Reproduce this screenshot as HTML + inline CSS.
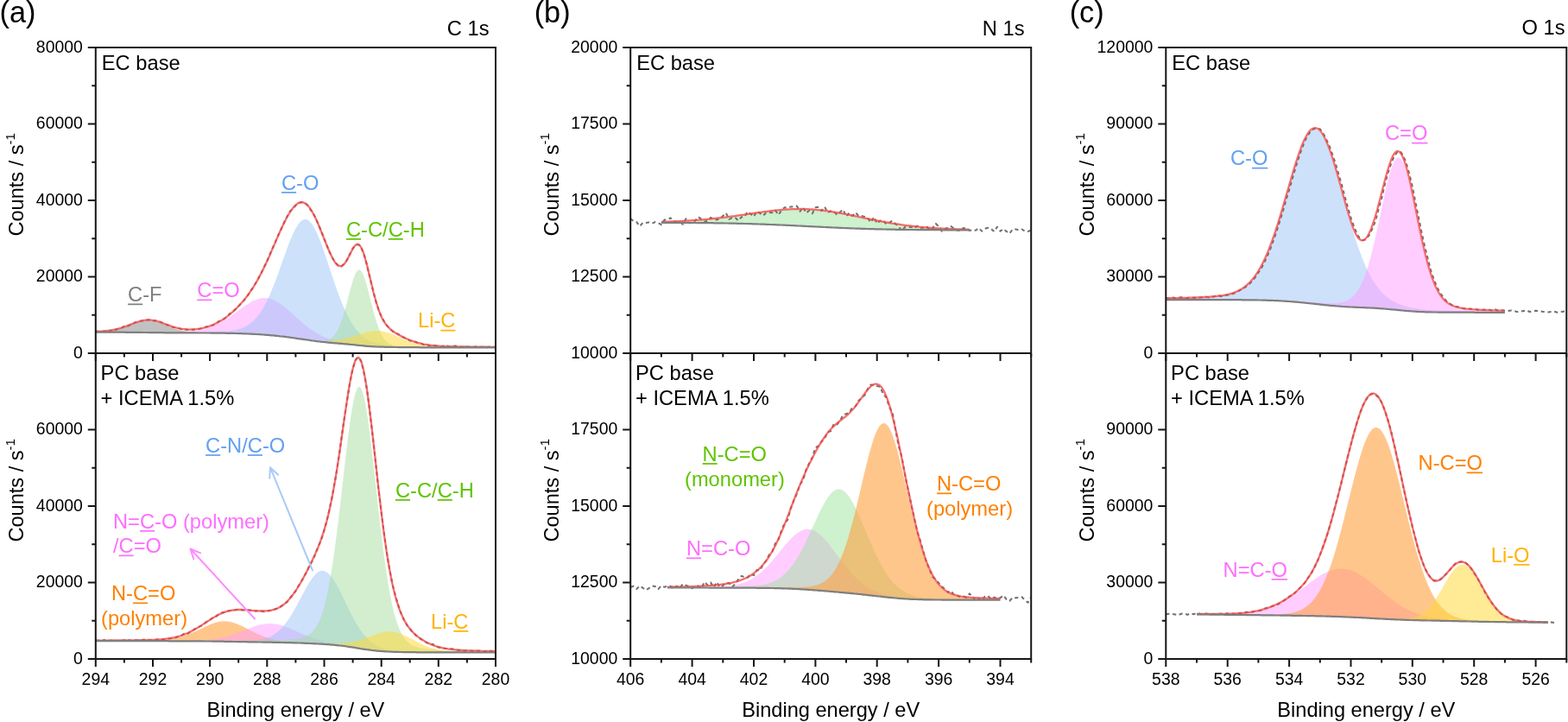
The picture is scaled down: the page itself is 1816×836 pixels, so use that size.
<!DOCTYPE html>
<html><head><meta charset="utf-8"><title>XPS spectra</title>
<style>
html,body{margin:0;padding:0;background:#fff;}
body{width:1816px;height:836px;overflow:hidden;}
svg{display:block;}
text{font-family:"Liberation Sans",sans-serif;}
</style></head><body>
<svg width="1816" height="836" viewBox="0 0 1816 836">
<rect width="1816" height="836" fill="#fff"/>
<clipPath id="clipa0"><rect x="110.8" y="55.0" width="463.2" height="354.0"/></clipPath>
<g clip-path="url(#clipa0)">
<path d="M110.8 384.3 L112.7 384.2 L114.7 384.1 L116.6 384.0 L118.6 383.9 L120.5 383.8 L122.4 383.6 L124.4 383.4 L126.3 383.2 L128.2 382.9 L130.2 382.6 L132.1 382.3 L134.1 381.9 L136.0 381.4 L137.9 380.9 L139.9 380.4 L141.8 379.8 L143.7 379.1 L145.7 378.5 L147.6 377.8 L149.6 377.0 L151.5 376.3 L153.4 375.6 L155.4 374.9 L157.3 374.2 L159.3 373.5 L161.2 372.9 L163.1 372.4 L165.1 372.0 L167.0 371.7 L168.9 371.4 L170.9 371.3 L172.8 371.4 L174.8 371.5 L176.7 371.7 L178.6 372.1 L180.6 372.6 L182.5 373.1 L184.4 373.7 L186.4 374.4 L188.3 375.1 L190.3 375.9 L192.2 376.7 L194.1 377.4 L196.1 378.2 L198.0 378.9 L200.0 379.6 L201.9 380.3 L203.8 380.9 L205.8 381.5 L207.7 382.0 L209.6 382.5 L211.6 382.9 L213.5 383.3 L215.5 383.6 L217.4 383.9 L219.3 384.1 L221.3 384.3 L223.2 384.5 L225.1 384.7 L227.1 384.8 L229.0 384.9 L231.0 385.0 L232.9 385.1 L234.8 385.2 L236.8 385.2 L238.7 385.3 L240.7 385.3 L242.6 385.3 L244.5 385.4 L246.5 385.4 L248.4 385.4 L250.3 385.5 L252.3 385.5 L254.2 385.5 L256.2 385.6 L258.1 385.6 L260.0 385.6 L262.0 385.7 L263.9 385.7 L265.8 385.8 L267.8 385.8 L269.7 385.8 L271.7 385.9 L273.6 386.0 L275.5 386.0 L277.5 386.1 L279.4 386.1 L281.4 386.2 L283.3 386.3 L285.2 386.4 L287.2 386.4 L289.1 386.5 L291.0 386.6 L293.0 386.7 L294.9 386.8 L296.9 386.9 L298.8 387.0 L300.7 387.2 L302.7 387.3 L304.6 387.4 L306.5 387.6 L308.5 387.7 L310.4 387.9 L312.4 388.0 L314.3 388.2 L316.2 388.4 L318.2 388.6 L320.1 388.8 L322.1 389.0 L324.0 389.2 L325.9 389.4 L327.9 389.7 L329.8 389.9 L331.7 390.2 L333.7 390.4 L335.6 390.7 L337.6 390.9 L339.5 391.2 L341.4 391.5 L343.4 391.8 L345.3 392.0 L347.2 392.3 L349.2 392.6 L351.1 392.9 L353.1 393.2 L355.0 393.4 L356.9 393.7 L358.9 394.0 L360.8 394.3 L362.7 394.5 L364.7 394.8 L366.6 395.0 L368.6 395.3 L370.5 395.5 L372.4 395.7 L374.4 396.0 L376.3 396.2 L378.3 396.4 L380.2 396.6 L382.1 396.7 L384.1 396.9 L386.0 397.1 L387.9 397.3 L389.9 397.4 L391.8 397.6 L393.8 397.7 L395.7 397.9 L397.6 398.1 L399.6 398.2 L401.5 398.4 L403.4 398.6 L405.4 398.8 L407.3 399.0 L409.3 399.2 L411.2 399.4 L413.1 399.6 L415.1 399.8 L417.0 400.0 L419.0 400.2 L420.9 400.4 L422.8 400.6 L424.8 400.7 L426.7 400.9 L428.6 401.0 L430.6 401.2 L432.5 401.3 L434.5 401.4 L436.4 401.5 L438.3 401.5 L440.3 401.6 L442.2 401.7 L444.1 401.7 L446.1 401.8 L448.0 401.8 L450.0 401.9 L451.9 401.9 L453.8 401.9 L455.8 402.0 L457.7 402.0 L459.7 402.0 L461.6 402.0 L463.5 402.1 L465.5 402.1 L467.4 402.1 L469.3 402.1 L471.3 402.2 L473.2 402.2 L475.2 402.2 L477.1 402.2 L479.0 402.2 L481.0 402.2 L482.9 402.2 L484.8 402.2 L486.8 402.2 L488.7 402.3 L490.7 402.3 L492.6 402.3 L494.5 402.3 L496.5 402.3 L498.4 402.3 L500.4 402.3 L502.3 402.3 L504.2 402.3 L506.2 402.3 L508.1 402.3 L510.0 402.3 L512.0 402.3 L513.9 402.3 L515.9 402.3 L517.8 402.3 L519.7 402.3 L521.7 402.3 L523.6 402.3 L525.5 402.3 L527.5 402.3 L529.4 402.3 L531.4 402.3 L533.3 402.3 L535.2 402.3 L537.2 402.3 L539.1 402.3 L541.1 402.3 L543.0 402.3 L544.9 402.3 L546.9 402.3 L548.8 402.3 L550.7 402.3 L552.7 402.3 L554.6 402.3 L556.6 402.3 L558.5 402.3 L560.4 402.3 L562.4 402.4 L564.3 402.4 L566.2 402.4 L568.2 402.4 L570.1 402.4 L572.1 402.4 L574.0 402.4 L574.0 402.4 L572.1 402.4 L570.1 402.4 L568.2 402.4 L566.2 402.4 L564.3 402.4 L562.4 402.4 L560.4 402.4 L558.5 402.4 L556.6 402.4 L554.6 402.4 L552.7 402.4 L550.7 402.3 L548.8 402.3 L546.9 402.3 L544.9 402.3 L543.0 402.3 L541.1 402.3 L539.1 402.3 L537.2 402.3 L535.2 402.3 L533.3 402.3 L531.4 402.3 L529.4 402.3 L527.5 402.3 L525.5 402.3 L523.6 402.3 L521.7 402.3 L519.7 402.3 L517.8 402.3 L515.9 402.3 L513.9 402.3 L512.0 402.3 L510.0 402.3 L508.1 402.3 L506.2 402.3 L504.2 402.3 L502.3 402.3 L500.4 402.3 L498.4 402.3 L496.5 402.3 L494.5 402.3 L492.6 402.3 L490.7 402.3 L488.7 402.3 L486.8 402.3 L484.8 402.2 L482.9 402.2 L481.0 402.2 L479.0 402.2 L477.1 402.2 L475.2 402.2 L473.2 402.2 L471.3 402.2 L469.3 402.1 L467.4 402.1 L465.5 402.1 L463.5 402.1 L461.6 402.1 L459.7 402.0 L457.7 402.0 L455.8 402.0 L453.8 401.9 L451.9 401.9 L450.0 401.9 L448.0 401.8 L446.1 401.8 L444.1 401.7 L442.2 401.7 L440.3 401.6 L438.3 401.6 L436.4 401.5 L434.5 401.4 L432.5 401.3 L430.6 401.2 L428.6 401.1 L426.7 400.9 L424.8 400.8 L422.8 400.6 L420.9 400.4 L419.0 400.2 L417.0 400.0 L415.1 399.8 L413.1 399.6 L411.2 399.4 L409.3 399.2 L407.3 399.0 L405.4 398.8 L403.4 398.6 L401.5 398.4 L399.6 398.3 L397.6 398.1 L395.7 397.9 L393.8 397.8 L391.8 397.6 L389.9 397.4 L387.9 397.3 L386.0 397.1 L384.1 396.9 L382.1 396.8 L380.2 396.6 L378.3 396.4 L376.3 396.2 L374.4 396.0 L372.4 395.8 L370.5 395.5 L368.6 395.3 L366.6 395.1 L364.7 394.8 L362.7 394.5 L360.8 394.3 L358.9 394.0 L356.9 393.7 L355.0 393.5 L353.1 393.2 L351.1 392.9 L349.2 392.6 L347.2 392.3 L345.3 392.1 L343.4 391.8 L341.4 391.5 L339.5 391.2 L337.6 391.0 L335.6 390.7 L333.7 390.4 L331.7 390.2 L329.8 389.9 L327.9 389.7 L325.9 389.5 L324.0 389.3 L322.1 389.0 L320.1 388.8 L318.2 388.6 L316.2 388.4 L314.3 388.3 L312.4 388.1 L310.4 387.9 L308.5 387.8 L306.5 387.6 L304.6 387.5 L302.7 387.3 L300.7 387.2 L298.8 387.1 L296.9 387.0 L294.9 386.9 L293.0 386.8 L291.0 386.7 L289.1 386.6 L287.2 386.5 L285.2 386.4 L283.3 386.3 L281.4 386.3 L279.4 386.2 L277.5 386.1 L275.5 386.1 L273.6 386.0 L271.7 386.0 L269.7 385.9 L267.8 385.9 L265.8 385.8 L263.9 385.8 L262.0 385.8 L260.0 385.7 L258.1 385.7 L256.2 385.7 L254.2 385.7 L252.3 385.6 L250.3 385.6 L248.4 385.6 L246.5 385.6 L244.5 385.6 L242.6 385.5 L240.7 385.5 L238.7 385.5 L236.8 385.5 L234.8 385.5 L232.9 385.5 L231.0 385.5 L229.0 385.5 L227.1 385.5 L225.1 385.4 L223.2 385.4 L221.3 385.4 L219.3 385.4 L217.4 385.4 L215.5 385.4 L213.5 385.4 L211.6 385.4 L209.6 385.4 L207.7 385.4 L205.8 385.4 L203.8 385.4 L201.9 385.3 L200.0 385.3 L198.0 385.3 L196.1 385.3 L194.1 385.3 L192.2 385.3 L190.3 385.3 L188.3 385.2 L186.4 385.2 L184.4 385.2 L182.5 385.2 L180.6 385.2 L178.6 385.1 L176.7 385.1 L174.8 385.1 L172.8 385.1 L170.9 385.0 L168.9 385.0 L167.0 385.0 L165.1 385.0 L163.1 384.9 L161.2 384.9 L159.3 384.9 L157.3 384.9 L155.4 384.8 L153.4 384.8 L151.5 384.8 L149.6 384.8 L147.6 384.8 L145.7 384.8 L143.7 384.7 L141.8 384.7 L139.9 384.7 L137.9 384.7 L136.0 384.7 L134.1 384.7 L132.1 384.7 L130.2 384.7 L128.2 384.7 L126.3 384.7 L124.4 384.7 L122.4 384.7 L120.5 384.7 L118.6 384.7 L116.6 384.7 L114.7 384.7 L112.7 384.7 L110.8 384.7Z" fill="#a0a0a0" fill-opacity="0.65"/>
<path d="M110.8 384.5 L112.7 384.5 L114.7 384.5 L116.6 384.5 L118.6 384.5 L120.5 384.5 L122.4 384.5 L124.4 384.5 L126.3 384.5 L128.2 384.5 L130.2 384.5 L132.1 384.5 L134.1 384.5 L136.0 384.5 L137.9 384.5 L139.9 384.5 L141.8 384.5 L143.7 384.5 L145.7 384.5 L147.6 384.5 L149.6 384.5 L151.5 384.6 L153.4 384.6 L155.4 384.6 L157.3 384.6 L159.3 384.6 L161.2 384.6 L163.1 384.6 L165.1 384.7 L167.0 384.7 L168.9 384.7 L170.9 384.7 L172.8 384.7 L174.8 384.7 L176.7 384.8 L178.6 384.8 L180.6 384.8 L182.5 384.8 L184.4 384.8 L186.4 384.8 L188.3 384.8 L190.3 384.8 L192.2 384.8 L194.1 384.8 L196.1 384.7 L198.0 384.7 L200.0 384.7 L201.9 384.6 L203.8 384.6 L205.8 384.5 L207.7 384.5 L209.6 384.4 L211.6 384.3 L213.5 384.2 L215.5 384.0 L217.4 383.9 L219.3 383.7 L221.3 383.5 L223.2 383.3 L225.1 383.1 L227.1 382.8 L229.0 382.5 L231.0 382.1 L232.9 381.8 L234.8 381.3 L236.8 380.9 L238.7 380.3 L240.7 379.8 L242.6 379.1 L244.5 378.5 L246.5 377.7 L248.4 376.9 L250.3 376.1 L252.3 375.1 L254.2 374.2 L256.2 373.1 L258.1 372.0 L260.0 370.9 L262.0 369.7 L263.9 368.4 L265.8 367.1 L267.8 365.8 L269.7 364.4 L271.7 363.0 L273.6 361.5 L275.5 360.1 L277.5 358.7 L279.4 357.3 L281.4 355.9 L283.3 354.5 L285.2 353.2 L287.2 351.9 L289.1 350.7 L291.0 349.6 L293.0 348.6 L294.9 347.7 L296.9 346.9 L298.8 346.2 L300.7 345.7 L302.7 345.3 L304.6 345.1 L306.5 345.0 L308.5 345.1 L310.4 345.3 L312.4 345.7 L314.3 346.3 L316.2 347.0 L318.2 347.9 L320.1 348.9 L322.1 350.0 L324.0 351.2 L325.9 352.6 L327.9 354.0 L329.8 355.6 L331.7 357.2 L333.7 358.8 L335.6 360.5 L337.6 362.3 L339.5 364.0 L341.4 365.8 L343.4 367.5 L345.3 369.3 L347.2 371.0 L349.2 372.7 L351.1 374.4 L353.1 376.0 L355.0 377.6 L356.9 379.1 L358.9 380.5 L360.8 381.9 L362.7 383.2 L364.7 384.5 L366.6 385.7 L368.6 386.8 L370.5 387.8 L372.4 388.8 L374.4 389.7 L376.3 390.5 L378.3 391.3 L380.2 392.0 L382.1 392.7 L384.1 393.3 L386.0 393.8 L387.9 394.4 L389.9 394.8 L391.8 395.3 L393.8 395.7 L395.7 396.1 L397.6 396.4 L399.6 396.8 L401.5 397.1 L403.4 397.4 L405.4 397.7 L407.3 398.0 L409.3 398.3 L411.2 398.6 L413.1 398.8 L415.1 399.1 L417.0 399.4 L419.0 399.6 L420.9 399.8 L422.8 400.1 L424.8 400.3 L426.7 400.4 L428.6 400.6 L430.6 400.7 L432.5 400.9 L434.5 401.0 L436.4 401.1 L438.3 401.2 L440.3 401.3 L442.2 401.3 L444.1 401.4 L446.1 401.5 L448.0 401.5 L450.0 401.6 L451.9 401.6 L453.8 401.7 L455.8 401.7 L457.7 401.7 L459.7 401.8 L461.6 401.8 L463.5 401.8 L465.5 401.9 L467.4 401.9 L469.3 401.9 L471.3 401.9 L473.2 402.0 L475.2 402.0 L477.1 402.0 L479.0 402.0 L481.0 402.0 L482.9 402.0 L484.8 402.1 L486.8 402.1 L488.7 402.1 L490.7 402.1 L492.6 402.1 L494.5 402.1 L496.5 402.1 L498.4 402.1 L500.4 402.1 L502.3 402.1 L504.2 402.1 L506.2 402.1 L508.1 402.2 L510.0 402.2 L512.0 402.2 L513.9 402.2 L515.9 402.2 L517.8 402.2 L519.7 402.2 L521.7 402.2 L523.6 402.2 L525.5 402.2 L527.5 402.2 L529.4 402.2 L531.4 402.2 L533.3 402.2 L535.2 402.2 L537.2 402.2 L539.1 402.2 L541.1 402.2 L543.0 402.2 L544.9 402.2 L546.9 402.2 L548.8 402.2 L550.7 402.2 L552.7 402.2 L554.6 402.2 L556.6 402.3 L558.5 402.3 L560.4 402.3 L562.4 402.3 L564.3 402.3 L566.2 402.3 L568.2 402.3 L570.1 402.3 L572.1 402.3 L574.0 402.3 L574.0 402.4 L572.1 402.4 L570.1 402.4 L568.2 402.4 L566.2 402.4 L564.3 402.4 L562.4 402.4 L560.4 402.4 L558.5 402.4 L556.6 402.4 L554.6 402.4 L552.7 402.4 L550.7 402.3 L548.8 402.3 L546.9 402.3 L544.9 402.3 L543.0 402.3 L541.1 402.3 L539.1 402.3 L537.2 402.3 L535.2 402.3 L533.3 402.3 L531.4 402.3 L529.4 402.3 L527.5 402.3 L525.5 402.3 L523.6 402.3 L521.7 402.3 L519.7 402.3 L517.8 402.3 L515.9 402.3 L513.9 402.3 L512.0 402.3 L510.0 402.3 L508.1 402.3 L506.2 402.3 L504.2 402.3 L502.3 402.3 L500.4 402.3 L498.4 402.3 L496.5 402.3 L494.5 402.3 L492.6 402.3 L490.7 402.3 L488.7 402.3 L486.8 402.3 L484.8 402.2 L482.9 402.2 L481.0 402.2 L479.0 402.2 L477.1 402.2 L475.2 402.2 L473.2 402.2 L471.3 402.2 L469.3 402.1 L467.4 402.1 L465.5 402.1 L463.5 402.1 L461.6 402.1 L459.7 402.0 L457.7 402.0 L455.8 402.0 L453.8 401.9 L451.9 401.9 L450.0 401.9 L448.0 401.8 L446.1 401.8 L444.1 401.7 L442.2 401.7 L440.3 401.6 L438.3 401.6 L436.4 401.5 L434.5 401.4 L432.5 401.3 L430.6 401.2 L428.6 401.1 L426.7 400.9 L424.8 400.8 L422.8 400.6 L420.9 400.4 L419.0 400.2 L417.0 400.0 L415.1 399.8 L413.1 399.6 L411.2 399.4 L409.3 399.2 L407.3 399.0 L405.4 398.8 L403.4 398.6 L401.5 398.4 L399.6 398.3 L397.6 398.1 L395.7 397.9 L393.8 397.8 L391.8 397.6 L389.9 397.4 L387.9 397.3 L386.0 397.1 L384.1 396.9 L382.1 396.8 L380.2 396.6 L378.3 396.4 L376.3 396.2 L374.4 396.0 L372.4 395.8 L370.5 395.5 L368.6 395.3 L366.6 395.1 L364.7 394.8 L362.7 394.5 L360.8 394.3 L358.9 394.0 L356.9 393.7 L355.0 393.5 L353.1 393.2 L351.1 392.9 L349.2 392.6 L347.2 392.3 L345.3 392.1 L343.4 391.8 L341.4 391.5 L339.5 391.2 L337.6 391.0 L335.6 390.7 L333.7 390.4 L331.7 390.2 L329.8 389.9 L327.9 389.7 L325.9 389.5 L324.0 389.3 L322.1 389.0 L320.1 388.8 L318.2 388.6 L316.2 388.4 L314.3 388.3 L312.4 388.1 L310.4 387.9 L308.5 387.8 L306.5 387.6 L304.6 387.5 L302.7 387.3 L300.7 387.2 L298.8 387.1 L296.9 387.0 L294.9 386.9 L293.0 386.8 L291.0 386.7 L289.1 386.6 L287.2 386.5 L285.2 386.4 L283.3 386.3 L281.4 386.3 L279.4 386.2 L277.5 386.1 L275.5 386.1 L273.6 386.0 L271.7 386.0 L269.7 385.9 L267.8 385.9 L265.8 385.8 L263.9 385.8 L262.0 385.8 L260.0 385.7 L258.1 385.7 L256.2 385.7 L254.2 385.7 L252.3 385.6 L250.3 385.6 L248.4 385.6 L246.5 385.6 L244.5 385.6 L242.6 385.5 L240.7 385.5 L238.7 385.5 L236.8 385.5 L234.8 385.5 L232.9 385.5 L231.0 385.5 L229.0 385.5 L227.1 385.5 L225.1 385.4 L223.2 385.4 L221.3 385.4 L219.3 385.4 L217.4 385.4 L215.5 385.4 L213.5 385.4 L211.6 385.4 L209.6 385.4 L207.7 385.4 L205.8 385.4 L203.8 385.4 L201.9 385.3 L200.0 385.3 L198.0 385.3 L196.1 385.3 L194.1 385.3 L192.2 385.3 L190.3 385.3 L188.3 385.2 L186.4 385.2 L184.4 385.2 L182.5 385.2 L180.6 385.2 L178.6 385.1 L176.7 385.1 L174.8 385.1 L172.8 385.1 L170.9 385.0 L168.9 385.0 L167.0 385.0 L165.1 385.0 L163.1 384.9 L161.2 384.9 L159.3 384.9 L157.3 384.9 L155.4 384.8 L153.4 384.8 L151.5 384.8 L149.6 384.8 L147.6 384.8 L145.7 384.8 L143.7 384.7 L141.8 384.7 L139.9 384.7 L137.9 384.7 L136.0 384.7 L134.1 384.7 L132.1 384.7 L130.2 384.7 L128.2 384.7 L126.3 384.7 L124.4 384.7 L122.4 384.7 L120.5 384.7 L118.6 384.7 L116.6 384.7 L114.7 384.7 L112.7 384.7 L110.8 384.7Z" fill="#ff9cff" fill-opacity="0.50"/>
<path d="M110.8 384.4 L112.7 384.4 L114.7 384.4 L116.6 384.4 L118.6 384.4 L120.5 384.4 L122.4 384.4 L124.4 384.4 L126.3 384.4 L128.2 384.4 L130.2 384.4 L132.1 384.4 L134.1 384.4 L136.0 384.4 L137.9 384.4 L139.9 384.4 L141.8 384.4 L143.7 384.4 L145.7 384.4 L147.6 384.4 L149.6 384.4 L151.5 384.4 L153.4 384.5 L155.4 384.5 L157.3 384.5 L159.3 384.5 L161.2 384.5 L163.1 384.5 L165.1 384.5 L167.0 384.6 L168.9 384.6 L170.9 384.6 L172.8 384.6 L174.8 384.6 L176.7 384.6 L178.6 384.7 L180.6 384.7 L182.5 384.7 L184.4 384.7 L186.4 384.7 L188.3 384.7 L190.3 384.7 L192.2 384.7 L194.1 384.7 L196.1 384.7 L198.0 384.7 L200.0 384.7 L201.9 384.7 L203.8 384.7 L205.8 384.7 L207.7 384.7 L209.6 384.7 L211.6 384.7 L213.5 384.7 L215.5 384.7 L217.4 384.6 L219.3 384.6 L221.3 384.6 L223.2 384.6 L225.1 384.6 L227.1 384.6 L229.0 384.5 L231.0 384.5 L232.9 384.5 L234.8 384.5 L236.8 384.5 L238.7 384.4 L240.7 384.4 L242.6 384.4 L244.5 384.3 L246.5 384.3 L248.4 384.2 L250.3 384.2 L252.3 384.1 L254.2 384.1 L256.2 384.0 L258.1 383.9 L260.0 383.8 L262.0 383.6 L263.9 383.5 L265.8 383.3 L267.8 383.0 L269.7 382.7 L271.7 382.4 L273.6 382.0 L275.5 381.5 L277.5 381.0 L279.4 380.3 L281.4 379.6 L283.3 378.7 L285.2 377.7 L287.2 376.6 L289.1 375.2 L291.0 373.7 L293.0 372.0 L294.9 370.1 L296.9 368.0 L298.8 365.6 L300.7 363.0 L302.7 360.1 L304.6 356.9 L306.5 353.5 L308.5 349.8 L310.4 345.8 L312.4 341.6 L314.3 337.1 L316.2 332.3 L318.2 327.4 L320.1 322.3 L322.1 317.0 L324.0 311.6 L325.9 306.1 L327.9 300.6 L329.8 295.2 L331.7 289.8 L333.7 284.6 L335.6 279.6 L337.6 274.9 L339.5 270.5 L341.4 266.5 L343.4 262.9 L345.3 259.9 L347.2 257.5 L349.2 255.6 L351.1 254.5 L353.1 253.9 L355.0 254.1 L356.9 255.0 L358.9 256.5 L360.8 258.7 L362.7 261.5 L364.7 264.9 L366.6 268.8 L368.6 273.2 L370.5 278.0 L372.4 283.2 L374.4 288.6 L376.3 294.2 L378.3 300.0 L380.2 305.8 L382.1 311.7 L384.1 317.6 L386.0 323.4 L387.9 329.1 L389.9 334.7 L391.8 340.0 L393.8 345.2 L395.7 350.1 L397.6 354.7 L399.6 359.1 L401.5 363.2 L403.4 367.1 L405.4 370.6 L407.3 373.9 L409.3 376.9 L411.2 379.7 L413.1 382.2 L415.1 384.5 L417.0 386.6 L419.0 388.4 L420.9 390.1 L422.8 391.5 L424.8 392.8 L426.7 394.0 L428.6 395.0 L430.6 395.8 L432.5 396.6 L434.5 397.2 L436.4 397.8 L438.3 398.2 L440.3 398.7 L442.2 399.0 L444.1 399.3 L446.1 399.6 L448.0 399.8 L450.0 400.0 L451.9 400.2 L453.8 400.3 L455.8 400.5 L457.7 400.6 L459.7 400.7 L461.6 400.8 L463.5 400.8 L465.5 400.9 L467.4 401.0 L469.3 401.1 L471.3 401.1 L473.2 401.2 L475.2 401.2 L477.1 401.3 L479.0 401.3 L481.0 401.3 L482.9 401.4 L484.8 401.4 L486.8 401.4 L488.7 401.5 L490.7 401.5 L492.6 401.5 L494.5 401.5 L496.5 401.6 L498.4 401.6 L500.4 401.6 L502.3 401.6 L504.2 401.7 L506.2 401.7 L508.1 401.7 L510.0 401.7 L512.0 401.7 L513.9 401.7 L515.9 401.8 L517.8 401.8 L519.7 401.8 L521.7 401.8 L523.6 401.8 L525.5 401.8 L527.5 401.8 L529.4 401.9 L531.4 401.9 L533.3 401.9 L535.2 401.9 L537.2 401.9 L539.1 401.9 L541.1 401.9 L543.0 401.9 L544.9 401.9 L546.9 401.9 L548.8 402.0 L550.7 402.0 L552.7 402.0 L554.6 402.0 L556.6 402.0 L558.5 402.0 L560.4 402.0 L562.4 402.0 L564.3 402.0 L566.2 402.0 L568.2 402.0 L570.1 402.0 L572.1 402.0 L574.0 402.1 L574.0 402.4 L572.1 402.4 L570.1 402.4 L568.2 402.4 L566.2 402.4 L564.3 402.4 L562.4 402.4 L560.4 402.4 L558.5 402.4 L556.6 402.4 L554.6 402.4 L552.7 402.4 L550.7 402.3 L548.8 402.3 L546.9 402.3 L544.9 402.3 L543.0 402.3 L541.1 402.3 L539.1 402.3 L537.2 402.3 L535.2 402.3 L533.3 402.3 L531.4 402.3 L529.4 402.3 L527.5 402.3 L525.5 402.3 L523.6 402.3 L521.7 402.3 L519.7 402.3 L517.8 402.3 L515.9 402.3 L513.9 402.3 L512.0 402.3 L510.0 402.3 L508.1 402.3 L506.2 402.3 L504.2 402.3 L502.3 402.3 L500.4 402.3 L498.4 402.3 L496.5 402.3 L494.5 402.3 L492.6 402.3 L490.7 402.3 L488.7 402.3 L486.8 402.3 L484.8 402.2 L482.9 402.2 L481.0 402.2 L479.0 402.2 L477.1 402.2 L475.2 402.2 L473.2 402.2 L471.3 402.2 L469.3 402.1 L467.4 402.1 L465.5 402.1 L463.5 402.1 L461.6 402.1 L459.7 402.0 L457.7 402.0 L455.8 402.0 L453.8 401.9 L451.9 401.9 L450.0 401.9 L448.0 401.8 L446.1 401.8 L444.1 401.7 L442.2 401.7 L440.3 401.6 L438.3 401.6 L436.4 401.5 L434.5 401.4 L432.5 401.3 L430.6 401.2 L428.6 401.1 L426.7 400.9 L424.8 400.8 L422.8 400.6 L420.9 400.4 L419.0 400.2 L417.0 400.0 L415.1 399.8 L413.1 399.6 L411.2 399.4 L409.3 399.2 L407.3 399.0 L405.4 398.8 L403.4 398.6 L401.5 398.4 L399.6 398.3 L397.6 398.1 L395.7 397.9 L393.8 397.8 L391.8 397.6 L389.9 397.4 L387.9 397.3 L386.0 397.1 L384.1 396.9 L382.1 396.8 L380.2 396.6 L378.3 396.4 L376.3 396.2 L374.4 396.0 L372.4 395.8 L370.5 395.5 L368.6 395.3 L366.6 395.1 L364.7 394.8 L362.7 394.5 L360.8 394.3 L358.9 394.0 L356.9 393.7 L355.0 393.5 L353.1 393.2 L351.1 392.9 L349.2 392.6 L347.2 392.3 L345.3 392.1 L343.4 391.8 L341.4 391.5 L339.5 391.2 L337.6 391.0 L335.6 390.7 L333.7 390.4 L331.7 390.2 L329.8 389.9 L327.9 389.7 L325.9 389.5 L324.0 389.3 L322.1 389.0 L320.1 388.8 L318.2 388.6 L316.2 388.4 L314.3 388.3 L312.4 388.1 L310.4 387.9 L308.5 387.8 L306.5 387.6 L304.6 387.5 L302.7 387.3 L300.7 387.2 L298.8 387.1 L296.9 387.0 L294.9 386.9 L293.0 386.8 L291.0 386.7 L289.1 386.6 L287.2 386.5 L285.2 386.4 L283.3 386.3 L281.4 386.3 L279.4 386.2 L277.5 386.1 L275.5 386.1 L273.6 386.0 L271.7 386.0 L269.7 385.9 L267.8 385.9 L265.8 385.8 L263.9 385.8 L262.0 385.8 L260.0 385.7 L258.1 385.7 L256.2 385.7 L254.2 385.7 L252.3 385.6 L250.3 385.6 L248.4 385.6 L246.5 385.6 L244.5 385.6 L242.6 385.5 L240.7 385.5 L238.7 385.5 L236.8 385.5 L234.8 385.5 L232.9 385.5 L231.0 385.5 L229.0 385.5 L227.1 385.5 L225.1 385.4 L223.2 385.4 L221.3 385.4 L219.3 385.4 L217.4 385.4 L215.5 385.4 L213.5 385.4 L211.6 385.4 L209.6 385.4 L207.7 385.4 L205.8 385.4 L203.8 385.4 L201.9 385.3 L200.0 385.3 L198.0 385.3 L196.1 385.3 L194.1 385.3 L192.2 385.3 L190.3 385.3 L188.3 385.2 L186.4 385.2 L184.4 385.2 L182.5 385.2 L180.6 385.2 L178.6 385.1 L176.7 385.1 L174.8 385.1 L172.8 385.1 L170.9 385.0 L168.9 385.0 L167.0 385.0 L165.1 385.0 L163.1 384.9 L161.2 384.9 L159.3 384.9 L157.3 384.9 L155.4 384.8 L153.4 384.8 L151.5 384.8 L149.6 384.8 L147.6 384.8 L145.7 384.8 L143.7 384.7 L141.8 384.7 L139.9 384.7 L137.9 384.7 L136.0 384.7 L134.1 384.7 L132.1 384.7 L130.2 384.7 L128.2 384.7 L126.3 384.7 L124.4 384.7 L122.4 384.7 L120.5 384.7 L118.6 384.7 L116.6 384.7 L114.7 384.7 L112.7 384.7 L110.8 384.7Z" fill="#9cc3f7" fill-opacity="0.50"/>
<path d="M110.8 384.6 L112.7 384.6 L114.7 384.6 L116.6 384.6 L118.6 384.6 L120.5 384.6 L122.4 384.7 L124.4 384.7 L126.3 384.7 L128.2 384.7 L130.2 384.7 L132.1 384.7 L134.1 384.7 L136.0 384.7 L137.9 384.7 L139.9 384.7 L141.8 384.7 L143.7 384.7 L145.7 384.7 L147.6 384.7 L149.6 384.8 L151.5 384.8 L153.4 384.8 L155.4 384.8 L157.3 384.8 L159.3 384.9 L161.2 384.9 L163.1 384.9 L165.1 384.9 L167.0 384.9 L168.9 385.0 L170.9 385.0 L172.8 385.0 L174.8 385.0 L176.7 385.1 L178.6 385.1 L180.6 385.1 L182.5 385.1 L184.4 385.2 L186.4 385.2 L188.3 385.2 L190.3 385.2 L192.2 385.2 L194.1 385.3 L196.1 385.3 L198.0 385.3 L200.0 385.3 L201.9 385.3 L203.8 385.3 L205.8 385.3 L207.7 385.3 L209.6 385.3 L211.6 385.3 L213.5 385.4 L215.5 385.4 L217.4 385.4 L219.3 385.4 L221.3 385.4 L223.2 385.4 L225.1 385.4 L227.1 385.4 L229.0 385.4 L231.0 385.4 L232.9 385.4 L234.8 385.4 L236.8 385.4 L238.7 385.4 L240.7 385.5 L242.6 385.5 L244.5 385.5 L246.5 385.5 L248.4 385.5 L250.3 385.5 L252.3 385.6 L254.2 385.6 L256.2 385.6 L258.1 385.6 L260.0 385.7 L262.0 385.7 L263.9 385.7 L265.8 385.8 L267.8 385.8 L269.7 385.8 L271.7 385.9 L273.6 385.9 L275.5 386.0 L277.5 386.0 L279.4 386.1 L281.4 386.2 L283.3 386.2 L285.2 386.3 L287.2 386.4 L289.1 386.5 L291.0 386.5 L293.0 386.6 L294.9 386.7 L296.9 386.8 L298.8 386.9 L300.7 387.1 L302.7 387.2 L304.6 387.3 L306.5 387.4 L308.5 387.6 L310.4 387.7 L312.4 387.9 L314.3 388.1 L316.2 388.2 L318.2 388.4 L320.1 388.6 L322.1 388.8 L324.0 389.0 L325.9 389.2 L327.9 389.4 L329.8 389.7 L331.7 389.9 L333.7 390.1 L335.6 390.4 L337.6 390.6 L339.5 390.9 L341.4 391.1 L343.4 391.4 L345.3 391.7 L347.2 391.9 L349.2 392.2 L351.1 392.4 L353.1 392.7 L355.0 392.9 L356.9 393.2 L358.9 393.4 L360.8 393.6 L362.7 393.8 L364.7 394.0 L366.6 394.2 L368.6 394.3 L370.5 394.4 L372.4 394.4 L374.4 394.4 L376.3 394.2 L378.3 393.8 L380.2 393.3 L382.1 392.4 L384.1 391.2 L386.0 389.5 L387.9 387.2 L389.9 384.3 L391.8 380.7 L393.8 376.3 L395.7 371.0 L397.6 365.1 L399.6 358.4 L401.5 351.2 L403.4 343.8 L405.4 336.4 L407.3 329.4 L409.3 323.1 L411.2 318.0 L413.1 314.4 L415.1 312.5 L417.0 312.6 L419.0 314.6 L420.9 318.4 L422.8 323.7 L424.8 330.2 L426.7 337.5 L428.6 345.2 L430.6 352.9 L432.5 360.4 L434.5 367.4 L436.4 373.8 L438.3 379.3 L440.3 384.1 L442.2 388.1 L444.1 391.3 L446.1 393.8 L448.0 395.8 L450.0 397.3 L451.9 398.5 L453.8 399.3 L455.8 399.9 L457.7 400.4 L459.7 400.7 L461.6 400.9 L463.5 401.1 L465.5 401.2 L467.4 401.3 L469.3 401.4 L471.3 401.5 L473.2 401.6 L475.2 401.6 L477.1 401.7 L479.0 401.7 L481.0 401.8 L482.9 401.8 L484.8 401.8 L486.8 401.9 L488.7 401.9 L490.7 401.9 L492.6 401.9 L494.5 401.9 L496.5 402.0 L498.4 402.0 L500.4 402.0 L502.3 402.0 L504.2 402.0 L506.2 402.1 L508.1 402.1 L510.0 402.1 L512.0 402.1 L513.9 402.1 L515.9 402.1 L517.8 402.1 L519.7 402.1 L521.7 402.1 L523.6 402.1 L525.5 402.2 L527.5 402.2 L529.4 402.2 L531.4 402.2 L533.3 402.2 L535.2 402.2 L537.2 402.2 L539.1 402.2 L541.1 402.2 L543.0 402.2 L544.9 402.2 L546.9 402.2 L548.8 402.2 L550.7 402.2 L552.7 402.2 L554.6 402.2 L556.6 402.2 L558.5 402.3 L560.4 402.3 L562.4 402.3 L564.3 402.3 L566.2 402.3 L568.2 402.3 L570.1 402.3 L572.1 402.3 L574.0 402.3 L574.0 402.4 L572.1 402.4 L570.1 402.4 L568.2 402.4 L566.2 402.4 L564.3 402.4 L562.4 402.4 L560.4 402.4 L558.5 402.4 L556.6 402.4 L554.6 402.4 L552.7 402.4 L550.7 402.3 L548.8 402.3 L546.9 402.3 L544.9 402.3 L543.0 402.3 L541.1 402.3 L539.1 402.3 L537.2 402.3 L535.2 402.3 L533.3 402.3 L531.4 402.3 L529.4 402.3 L527.5 402.3 L525.5 402.3 L523.6 402.3 L521.7 402.3 L519.7 402.3 L517.8 402.3 L515.9 402.3 L513.9 402.3 L512.0 402.3 L510.0 402.3 L508.1 402.3 L506.2 402.3 L504.2 402.3 L502.3 402.3 L500.4 402.3 L498.4 402.3 L496.5 402.3 L494.5 402.3 L492.6 402.3 L490.7 402.3 L488.7 402.3 L486.8 402.3 L484.8 402.2 L482.9 402.2 L481.0 402.2 L479.0 402.2 L477.1 402.2 L475.2 402.2 L473.2 402.2 L471.3 402.2 L469.3 402.1 L467.4 402.1 L465.5 402.1 L463.5 402.1 L461.6 402.1 L459.7 402.0 L457.7 402.0 L455.8 402.0 L453.8 401.9 L451.9 401.9 L450.0 401.9 L448.0 401.8 L446.1 401.8 L444.1 401.7 L442.2 401.7 L440.3 401.6 L438.3 401.6 L436.4 401.5 L434.5 401.4 L432.5 401.3 L430.6 401.2 L428.6 401.1 L426.7 400.9 L424.8 400.8 L422.8 400.6 L420.9 400.4 L419.0 400.2 L417.0 400.0 L415.1 399.8 L413.1 399.6 L411.2 399.4 L409.3 399.2 L407.3 399.0 L405.4 398.8 L403.4 398.6 L401.5 398.4 L399.6 398.3 L397.6 398.1 L395.7 397.9 L393.8 397.8 L391.8 397.6 L389.9 397.4 L387.9 397.3 L386.0 397.1 L384.1 396.9 L382.1 396.8 L380.2 396.6 L378.3 396.4 L376.3 396.2 L374.4 396.0 L372.4 395.8 L370.5 395.5 L368.6 395.3 L366.6 395.1 L364.7 394.8 L362.7 394.5 L360.8 394.3 L358.9 394.0 L356.9 393.7 L355.0 393.5 L353.1 393.2 L351.1 392.9 L349.2 392.6 L347.2 392.3 L345.3 392.1 L343.4 391.8 L341.4 391.5 L339.5 391.2 L337.6 391.0 L335.6 390.7 L333.7 390.4 L331.7 390.2 L329.8 389.9 L327.9 389.7 L325.9 389.5 L324.0 389.3 L322.1 389.0 L320.1 388.8 L318.2 388.6 L316.2 388.4 L314.3 388.3 L312.4 388.1 L310.4 387.9 L308.5 387.8 L306.5 387.6 L304.6 387.5 L302.7 387.3 L300.7 387.2 L298.8 387.1 L296.9 387.0 L294.9 386.9 L293.0 386.8 L291.0 386.7 L289.1 386.6 L287.2 386.5 L285.2 386.4 L283.3 386.3 L281.4 386.3 L279.4 386.2 L277.5 386.1 L275.5 386.1 L273.6 386.0 L271.7 386.0 L269.7 385.9 L267.8 385.9 L265.8 385.8 L263.9 385.8 L262.0 385.8 L260.0 385.7 L258.1 385.7 L256.2 385.7 L254.2 385.7 L252.3 385.6 L250.3 385.6 L248.4 385.6 L246.5 385.6 L244.5 385.6 L242.6 385.5 L240.7 385.5 L238.7 385.5 L236.8 385.5 L234.8 385.5 L232.9 385.5 L231.0 385.5 L229.0 385.5 L227.1 385.5 L225.1 385.4 L223.2 385.4 L221.3 385.4 L219.3 385.4 L217.4 385.4 L215.5 385.4 L213.5 385.4 L211.6 385.4 L209.6 385.4 L207.7 385.4 L205.8 385.4 L203.8 385.4 L201.9 385.3 L200.0 385.3 L198.0 385.3 L196.1 385.3 L194.1 385.3 L192.2 385.3 L190.3 385.3 L188.3 385.2 L186.4 385.2 L184.4 385.2 L182.5 385.2 L180.6 385.2 L178.6 385.1 L176.7 385.1 L174.8 385.1 L172.8 385.1 L170.9 385.0 L168.9 385.0 L167.0 385.0 L165.1 385.0 L163.1 384.9 L161.2 384.9 L159.3 384.9 L157.3 384.9 L155.4 384.8 L153.4 384.8 L151.5 384.8 L149.6 384.8 L147.6 384.8 L145.7 384.8 L143.7 384.7 L141.8 384.7 L139.9 384.7 L137.9 384.7 L136.0 384.7 L134.1 384.7 L132.1 384.7 L130.2 384.7 L128.2 384.7 L126.3 384.7 L124.4 384.7 L122.4 384.7 L120.5 384.7 L118.6 384.7 L116.6 384.7 L114.7 384.7 L112.7 384.7 L110.8 384.7Z" fill="#a6dea0" fill-opacity="0.50"/>
<path d="M110.8 384.6 L112.7 384.7 L114.7 384.7 L116.6 384.7 L118.6 384.7 L120.5 384.7 L122.4 384.7 L124.4 384.7 L126.3 384.7 L128.2 384.7 L130.2 384.7 L132.1 384.7 L134.1 384.7 L136.0 384.7 L137.9 384.7 L139.9 384.7 L141.8 384.7 L143.7 384.7 L145.7 384.7 L147.6 384.8 L149.6 384.8 L151.5 384.8 L153.4 384.8 L155.4 384.8 L157.3 384.8 L159.3 384.9 L161.2 384.9 L163.1 384.9 L165.1 384.9 L167.0 385.0 L168.9 385.0 L170.9 385.0 L172.8 385.0 L174.8 385.1 L176.7 385.1 L178.6 385.1 L180.6 385.1 L182.5 385.2 L184.4 385.2 L186.4 385.2 L188.3 385.2 L190.3 385.2 L192.2 385.3 L194.1 385.3 L196.1 385.3 L198.0 385.3 L200.0 385.3 L201.9 385.3 L203.8 385.3 L205.8 385.3 L207.7 385.3 L209.6 385.4 L211.6 385.4 L213.5 385.4 L215.5 385.4 L217.4 385.4 L219.3 385.4 L221.3 385.4 L223.2 385.4 L225.1 385.4 L227.1 385.4 L229.0 385.4 L231.0 385.4 L232.9 385.4 L234.8 385.4 L236.8 385.5 L238.7 385.5 L240.7 385.5 L242.6 385.5 L244.5 385.5 L246.5 385.5 L248.4 385.5 L250.3 385.6 L252.3 385.6 L254.2 385.6 L256.2 385.6 L258.1 385.7 L260.0 385.7 L262.0 385.7 L263.9 385.8 L265.8 385.8 L267.8 385.8 L269.7 385.9 L271.7 385.9 L273.6 386.0 L275.5 386.0 L277.5 386.1 L279.4 386.1 L281.4 386.2 L283.3 386.3 L285.2 386.4 L287.2 386.4 L289.1 386.5 L291.0 386.6 L293.0 386.7 L294.9 386.8 L296.9 386.9 L298.8 387.0 L300.7 387.1 L302.7 387.3 L304.6 387.4 L306.5 387.5 L308.5 387.7 L310.4 387.8 L312.4 388.0 L314.3 388.2 L316.2 388.3 L318.2 388.5 L320.1 388.7 L322.1 388.9 L324.0 389.1 L325.9 389.4 L327.9 389.6 L329.8 389.8 L331.7 390.0 L333.7 390.3 L335.6 390.5 L337.6 390.8 L339.5 391.1 L341.4 391.3 L343.4 391.6 L345.3 391.9 L347.2 392.1 L349.2 392.4 L351.1 392.7 L353.1 392.9 L355.0 393.2 L356.9 393.4 L358.9 393.7 L360.8 393.9 L362.7 394.1 L364.7 394.3 L366.6 394.5 L368.6 394.6 L370.5 394.8 L372.4 394.9 L374.4 394.9 L376.3 395.0 L378.3 395.0 L380.2 395.0 L382.1 394.9 L384.1 394.8 L386.0 394.6 L387.9 394.4 L389.9 394.2 L391.8 393.9 L393.8 393.6 L395.7 393.2 L397.6 392.8 L399.6 392.3 L401.5 391.8 L403.4 391.2 L405.4 390.7 L407.3 390.1 L409.3 389.5 L411.2 388.8 L413.1 388.2 L415.1 387.6 L417.0 386.9 L419.0 386.3 L420.9 385.7 L422.8 385.1 L424.8 384.6 L426.7 384.2 L428.6 383.7 L430.6 383.4 L432.5 383.2 L434.5 383.0 L436.4 382.9 L438.3 383.0 L440.3 383.1 L442.2 383.4 L444.1 383.7 L446.1 384.2 L448.0 384.7 L450.0 385.3 L451.9 386.0 L453.8 386.7 L455.8 387.5 L457.7 388.4 L459.7 389.2 L461.6 390.1 L463.5 391.0 L465.5 391.8 L467.4 392.7 L469.3 393.5 L471.3 394.3 L473.2 395.1 L475.2 395.8 L477.1 396.5 L479.0 397.1 L481.0 397.7 L482.9 398.2 L484.8 398.7 L486.8 399.1 L488.7 399.5 L490.7 399.9 L492.6 400.2 L494.5 400.5 L496.5 400.7 L498.4 401.0 L500.4 401.1 L502.3 401.3 L504.2 401.4 L506.2 401.6 L508.1 401.7 L510.0 401.8 L512.0 401.8 L513.9 401.9 L515.9 401.9 L517.8 402.0 L519.7 402.0 L521.7 402.0 L523.6 402.1 L525.5 402.1 L527.5 402.1 L529.4 402.1 L531.4 402.1 L533.3 402.2 L535.2 402.2 L537.2 402.2 L539.1 402.2 L541.1 402.2 L543.0 402.2 L544.9 402.2 L546.9 402.2 L548.8 402.2 L550.7 402.2 L552.7 402.2 L554.6 402.2 L556.6 402.2 L558.5 402.2 L560.4 402.3 L562.4 402.3 L564.3 402.3 L566.2 402.3 L568.2 402.3 L570.1 402.3 L572.1 402.3 L574.0 402.3 L574.0 402.4 L572.1 402.4 L570.1 402.4 L568.2 402.4 L566.2 402.4 L564.3 402.4 L562.4 402.4 L560.4 402.4 L558.5 402.4 L556.6 402.4 L554.6 402.4 L552.7 402.4 L550.7 402.3 L548.8 402.3 L546.9 402.3 L544.9 402.3 L543.0 402.3 L541.1 402.3 L539.1 402.3 L537.2 402.3 L535.2 402.3 L533.3 402.3 L531.4 402.3 L529.4 402.3 L527.5 402.3 L525.5 402.3 L523.6 402.3 L521.7 402.3 L519.7 402.3 L517.8 402.3 L515.9 402.3 L513.9 402.3 L512.0 402.3 L510.0 402.3 L508.1 402.3 L506.2 402.3 L504.2 402.3 L502.3 402.3 L500.4 402.3 L498.4 402.3 L496.5 402.3 L494.5 402.3 L492.6 402.3 L490.7 402.3 L488.7 402.3 L486.8 402.3 L484.8 402.2 L482.9 402.2 L481.0 402.2 L479.0 402.2 L477.1 402.2 L475.2 402.2 L473.2 402.2 L471.3 402.2 L469.3 402.1 L467.4 402.1 L465.5 402.1 L463.5 402.1 L461.6 402.1 L459.7 402.0 L457.7 402.0 L455.8 402.0 L453.8 401.9 L451.9 401.9 L450.0 401.9 L448.0 401.8 L446.1 401.8 L444.1 401.7 L442.2 401.7 L440.3 401.6 L438.3 401.6 L436.4 401.5 L434.5 401.4 L432.5 401.3 L430.6 401.2 L428.6 401.1 L426.7 400.9 L424.8 400.8 L422.8 400.6 L420.9 400.4 L419.0 400.2 L417.0 400.0 L415.1 399.8 L413.1 399.6 L411.2 399.4 L409.3 399.2 L407.3 399.0 L405.4 398.8 L403.4 398.6 L401.5 398.4 L399.6 398.3 L397.6 398.1 L395.7 397.9 L393.8 397.8 L391.8 397.6 L389.9 397.4 L387.9 397.3 L386.0 397.1 L384.1 396.9 L382.1 396.8 L380.2 396.6 L378.3 396.4 L376.3 396.2 L374.4 396.0 L372.4 395.8 L370.5 395.5 L368.6 395.3 L366.6 395.1 L364.7 394.8 L362.7 394.5 L360.8 394.3 L358.9 394.0 L356.9 393.7 L355.0 393.5 L353.1 393.2 L351.1 392.9 L349.2 392.6 L347.2 392.3 L345.3 392.1 L343.4 391.8 L341.4 391.5 L339.5 391.2 L337.6 391.0 L335.6 390.7 L333.7 390.4 L331.7 390.2 L329.8 389.9 L327.9 389.7 L325.9 389.5 L324.0 389.3 L322.1 389.0 L320.1 388.8 L318.2 388.6 L316.2 388.4 L314.3 388.3 L312.4 388.1 L310.4 387.9 L308.5 387.8 L306.5 387.6 L304.6 387.5 L302.7 387.3 L300.7 387.2 L298.8 387.1 L296.9 387.0 L294.9 386.9 L293.0 386.8 L291.0 386.7 L289.1 386.6 L287.2 386.5 L285.2 386.4 L283.3 386.3 L281.4 386.3 L279.4 386.2 L277.5 386.1 L275.5 386.1 L273.6 386.0 L271.7 386.0 L269.7 385.9 L267.8 385.9 L265.8 385.8 L263.9 385.8 L262.0 385.8 L260.0 385.7 L258.1 385.7 L256.2 385.7 L254.2 385.7 L252.3 385.6 L250.3 385.6 L248.4 385.6 L246.5 385.6 L244.5 385.6 L242.6 385.5 L240.7 385.5 L238.7 385.5 L236.8 385.5 L234.8 385.5 L232.9 385.5 L231.0 385.5 L229.0 385.5 L227.1 385.5 L225.1 385.4 L223.2 385.4 L221.3 385.4 L219.3 385.4 L217.4 385.4 L215.5 385.4 L213.5 385.4 L211.6 385.4 L209.6 385.4 L207.7 385.4 L205.8 385.4 L203.8 385.4 L201.9 385.3 L200.0 385.3 L198.0 385.3 L196.1 385.3 L194.1 385.3 L192.2 385.3 L190.3 385.3 L188.3 385.2 L186.4 385.2 L184.4 385.2 L182.5 385.2 L180.6 385.2 L178.6 385.1 L176.7 385.1 L174.8 385.1 L172.8 385.1 L170.9 385.0 L168.9 385.0 L167.0 385.0 L165.1 385.0 L163.1 384.9 L161.2 384.9 L159.3 384.9 L157.3 384.9 L155.4 384.8 L153.4 384.8 L151.5 384.8 L149.6 384.8 L147.6 384.8 L145.7 384.8 L143.7 384.7 L141.8 384.7 L139.9 384.7 L137.9 384.7 L136.0 384.7 L134.1 384.7 L132.1 384.7 L130.2 384.7 L128.2 384.7 L126.3 384.7 L124.4 384.7 L122.4 384.7 L120.5 384.7 L118.6 384.7 L116.6 384.7 L114.7 384.7 L112.7 384.7 L110.8 384.7Z" fill="#ffd83c" fill-opacity="0.54"/>
<path d="M110.8 383.1 L114.1 384.0 L117.4 383.8 L120.7 383.8 L124.0 382.6 L127.3 383.6 L130.7 381.2 L134.0 381.7 L137.3 380.4 L140.6 379.7 L143.9 377.8 L147.2 378.2 L150.5 376.2 L153.8 374.9 L157.1 373.0 L160.4 372.9 L163.7 371.6 L167.0 371.3 L170.4 370.5 L173.7 370.3 L177.0 371.4 L180.3 371.1 L183.6 372.1 L186.9 373.3 L190.2 374.4 L193.5 376.3 L196.8 377.3 L200.1 378.7 L203.4 379.4 L206.7 379.9 L210.1 381.1 L213.4 381.4 L216.7 381.8 L220.0 381.9 L223.3 381.8 L226.6 381.2 L229.9 381.3 L233.2 380.1 L236.5 378.7 L239.8 378.2 L243.1 377.5 L246.5 376.6 L249.8 375.0 L253.1 372.2 L256.4 371.0 L259.7 369.2 L263.0 366.4 L266.3 363.0 L269.6 361.0 L272.9 357.7 L276.2 354.4 L279.5 351.1 L282.8 347.6 L286.2 343.0 L289.5 338.4 L292.8 333.2 L296.1 327.7 L299.4 321.9 L302.7 315.9 L306.0 309.0 L309.3 302.6 L312.6 294.3 L315.9 287.0 L319.2 279.7 L322.5 271.8 L325.9 264.7 L329.2 257.3 L332.5 250.7 L335.8 244.8 L339.1 241.7 L342.4 238.0 L345.7 235.3 L349.0 234.1 L352.3 234.4 L355.6 237.0 L358.9 241.9 L362.3 246.4 L365.6 252.4 L368.9 260.2 L372.2 268.0 L375.5 276.7 L378.8 285.0 L382.1 292.6 L385.4 299.2 L388.7 304.5 L392.0 307.6 L395.3 308.4 L398.6 305.5 L402.0 300.8 L405.3 294.0 L408.6 287.6 L411.9 283.6 L415.2 283.1 L418.5 287.2 L421.8 295.2 L425.1 307.4 L428.4 321.3 L431.7 335.0 L435.0 347.9 L438.3 357.9 L441.7 366.7 L445.0 372.2 L448.3 377.1 L451.6 380.4 L454.9 383.8 L458.2 385.5 L461.5 387.1 L464.8 389.7 L468.1 391.0 L471.4 392.4 L474.7 394.4 L478.1 395.0 L481.4 395.8 L484.7 397.6 L488.0 397.8 L491.3 399.3 L494.6 399.3 L497.9 400.4 L501.2 399.6 L504.5 400.2 L507.8 400.6 L511.1 401.2 L514.4 400.4 L517.8 400.2 L521.1 402.0 L524.4 400.7 L527.7 400.6 L531.0 401.2 L534.3 402.0 L537.6 401.1 L540.9 401.6 L544.2 401.8 L547.5 402.1 L550.8 401.4 L554.1 401.3 L557.5 401.9 L560.8 401.5 L564.1 402.2 L567.4 401.4 L570.7 401.7 L574.0 401.9" fill="none" stroke="#707070" stroke-width="2" stroke-dasharray="4.2 3.6" stroke-linejoin="round"/>
<path d="M110.8 383.8 L112.7 383.8 L114.7 383.7 L116.6 383.6 L118.6 383.5 L120.5 383.3 L122.4 383.1 L124.4 382.9 L126.3 382.7 L128.2 382.4 L130.2 382.1 L132.1 381.7 L134.1 381.3 L136.0 380.8 L137.9 380.3 L139.9 379.8 L141.8 379.2 L143.7 378.5 L145.7 377.8 L147.6 377.1 L149.6 376.4 L151.5 375.6 L153.4 374.9 L155.4 374.2 L157.3 373.5 L159.3 372.8 L161.2 372.2 L163.1 371.7 L165.1 371.2 L167.0 370.9 L168.9 370.6 L170.9 370.5 L172.8 370.5 L174.8 370.6 L176.7 370.9 L178.6 371.2 L180.6 371.6 L182.5 372.2 L184.4 372.7 L186.4 373.4 L188.3 374.1 L190.3 374.8 L192.2 375.5 L194.1 376.2 L196.1 376.9 L198.0 377.6 L200.0 378.3 L201.9 378.9 L203.8 379.4 L205.8 379.9 L207.7 380.3 L209.6 380.7 L211.6 381.0 L213.5 381.2 L215.5 381.4 L217.4 381.5 L219.3 381.6 L221.3 381.5 L223.2 381.5 L225.1 381.4 L227.1 381.2 L229.0 380.9 L231.0 380.6 L232.9 380.3 L234.8 379.9 L236.8 379.4 L238.7 378.9 L240.7 378.3 L242.6 377.7 L244.5 376.9 L246.5 376.2 L248.4 375.3 L250.3 374.4 L252.3 373.4 L254.2 372.3 L256.2 371.2 L258.1 370.0 L260.0 368.7 L262.0 367.3 L263.9 365.8 L265.8 364.3 L267.8 362.6 L269.7 360.9 L271.7 359.1 L273.6 357.3 L275.5 355.3 L277.5 353.3 L279.4 351.1 L281.4 348.9 L283.3 346.5 L285.2 344.1 L287.2 341.5 L289.1 338.8 L291.0 336.0 L293.0 333.1 L294.9 330.0 L296.9 326.8 L298.8 323.4 L300.7 319.8 L302.7 316.1 L304.6 312.3 L306.5 308.3 L308.5 304.1 L310.4 299.8 L312.4 295.5 L314.3 291.0 L316.2 286.6 L318.2 282.1 L320.1 277.6 L322.1 273.1 L324.0 268.8 L325.9 264.5 L327.9 260.4 L329.8 256.5 L331.7 252.8 L333.7 249.3 L335.6 246.0 L337.6 243.1 L339.5 240.5 L341.4 238.3 L343.4 236.6 L345.3 235.2 L347.2 234.4 L349.2 234.1 L351.1 234.4 L353.1 235.2 L355.0 236.5 L356.9 238.4 L358.9 240.9 L360.8 243.8 L362.7 247.2 L364.7 251.0 L366.6 255.1 L368.6 259.5 L370.5 264.2 L372.4 269.0 L374.4 273.8 L376.3 278.7 L378.3 283.6 L380.2 288.2 L382.1 292.7 L384.1 296.8 L386.0 300.5 L387.9 303.6 L389.9 306.0 L391.8 307.6 L393.8 308.2 L395.7 308.0 L397.6 306.7 L399.6 304.6 L401.5 301.6 L403.4 298.1 L405.4 294.3 L407.3 290.4 L409.3 287.0 L411.2 284.4 L413.1 282.9 L415.1 282.9 L417.0 284.5 L419.0 287.8 L420.9 292.7 L422.8 298.9 L424.8 306.1 L426.7 313.9 L428.6 322.1 L430.6 330.3 L432.5 338.2 L434.5 345.5 L436.4 352.2 L438.3 358.1 L440.3 363.3 L442.2 367.7 L444.1 371.4 L446.1 374.4 L448.0 377.0 L450.0 379.1 L451.9 381.0 L453.8 382.6 L455.8 384.0 L457.7 385.2 L459.7 386.4 L461.6 387.5 L463.5 388.6 L465.5 389.6 L467.4 390.5 L469.3 391.5 L471.3 392.4 L473.2 393.2 L475.2 394.0 L477.1 394.7 L479.0 395.4 L481.0 396.1 L482.9 396.7 L484.8 397.2 L486.8 397.7 L488.7 398.2 L490.7 398.6 L492.6 398.9 L494.5 399.2 L496.5 399.5 L498.4 399.8 L500.4 400.0 L502.3 400.2 L504.2 400.4 L506.2 400.5 L508.1 400.6 L510.0 400.8 L512.0 400.9 L513.9 400.9 L515.9 401.0 L517.8 401.1 L519.7 401.1 L521.7 401.2 L523.6 401.2 L525.5 401.3 L527.5 401.3 L529.4 401.4 L531.4 401.4 L533.3 401.4 L535.2 401.4 L537.2 401.5 L539.1 401.5 L541.1 401.5 L543.0 401.5 L544.9 401.6 L546.9 401.6 L548.8 401.6 L550.7 401.6 L552.7 401.6 L554.6 401.6 L556.6 401.7 L558.5 401.7 L560.4 401.7 L562.4 401.7 L564.3 401.7 L566.2 401.7 L568.2 401.8 L570.1 401.8 L572.1 401.8 L574.0 401.8" fill="none" stroke="#f54545" stroke-opacity="0.78" stroke-width="2.3" stroke-linejoin="round"/>
<path d="M110.8 384.7 L112.7 384.7 L114.7 384.7 L116.6 384.7 L118.6 384.7 L120.5 384.7 L122.4 384.7 L124.4 384.7 L126.3 384.7 L128.2 384.7 L130.2 384.7 L132.1 384.7 L134.1 384.7 L136.0 384.7 L137.9 384.7 L139.9 384.7 L141.8 384.7 L143.7 384.7 L145.7 384.8 L147.6 384.8 L149.6 384.8 L151.5 384.8 L153.4 384.8 L155.4 384.8 L157.3 384.9 L159.3 384.9 L161.2 384.9 L163.1 384.9 L165.1 385.0 L167.0 385.0 L168.9 385.0 L170.9 385.0 L172.8 385.1 L174.8 385.1 L176.7 385.1 L178.6 385.1 L180.6 385.2 L182.5 385.2 L184.4 385.2 L186.4 385.2 L188.3 385.2 L190.3 385.3 L192.2 385.3 L194.1 385.3 L196.1 385.3 L198.0 385.3 L200.0 385.3 L201.9 385.3 L203.8 385.4 L205.8 385.4 L207.7 385.4 L209.6 385.4 L211.6 385.4 L213.5 385.4 L215.5 385.4 L217.4 385.4 L219.3 385.4 L221.3 385.4 L223.2 385.4 L225.1 385.4 L227.1 385.5 L229.0 385.5 L231.0 385.5 L232.9 385.5 L234.8 385.5 L236.8 385.5 L238.7 385.5 L240.7 385.5 L242.6 385.5 L244.5 385.6 L246.5 385.6 L248.4 385.6 L250.3 385.6 L252.3 385.6 L254.2 385.7 L256.2 385.7 L258.1 385.7 L260.0 385.7 L262.0 385.8 L263.9 385.8 L265.8 385.8 L267.8 385.9 L269.7 385.9 L271.7 386.0 L273.6 386.0 L275.5 386.1 L277.5 386.1 L279.4 386.2 L281.4 386.3 L283.3 386.3 L285.2 386.4 L287.2 386.5 L289.1 386.6 L291.0 386.7 L293.0 386.8 L294.9 386.9 L296.9 387.0 L298.8 387.1 L300.7 387.2 L302.7 387.3 L304.6 387.5 L306.5 387.6 L308.5 387.8 L310.4 387.9 L312.4 388.1 L314.3 388.3 L316.2 388.4 L318.2 388.6 L320.1 388.8 L322.1 389.0 L324.0 389.3 L325.9 389.5 L327.9 389.7 L329.8 389.9 L331.7 390.2 L333.7 390.4 L335.6 390.7 L337.6 391.0 L339.5 391.2 L341.4 391.5 L343.4 391.8 L345.3 392.1 L347.2 392.3 L349.2 392.6 L351.1 392.9 L353.1 393.2 L355.0 393.5 L356.9 393.7 L358.9 394.0 L360.8 394.3 L362.7 394.5 L364.7 394.8 L366.6 395.1 L368.6 395.3 L370.5 395.5 L372.4 395.8 L374.4 396.0 L376.3 396.2 L378.3 396.4 L380.2 396.6 L382.1 396.8 L384.1 396.9 L386.0 397.1 L387.9 397.3 L389.9 397.4 L391.8 397.6 L393.8 397.8 L395.7 397.9 L397.6 398.1 L399.6 398.3 L401.5 398.4 L403.4 398.6 L405.4 398.8 L407.3 399.0 L409.3 399.2 L411.2 399.4 L413.1 399.6 L415.1 399.8 L417.0 400.0 L419.0 400.2 L420.9 400.4 L422.8 400.6 L424.8 400.8 L426.7 400.9 L428.6 401.1 L430.6 401.2 L432.5 401.3 L434.5 401.4 L436.4 401.5 L438.3 401.6 L440.3 401.6 L442.2 401.7 L444.1 401.7 L446.1 401.8 L448.0 401.8 L450.0 401.9 L451.9 401.9 L453.8 401.9 L455.8 402.0 L457.7 402.0 L459.7 402.0 L461.6 402.1 L463.5 402.1 L465.5 402.1 L467.4 402.1 L469.3 402.1 L471.3 402.2 L473.2 402.2 L475.2 402.2 L477.1 402.2 L479.0 402.2 L481.0 402.2 L482.9 402.2 L484.8 402.2 L486.8 402.3 L488.7 402.3 L490.7 402.3 L492.6 402.3 L494.5 402.3 L496.5 402.3 L498.4 402.3 L500.4 402.3 L502.3 402.3 L504.2 402.3 L506.2 402.3 L508.1 402.3 L510.0 402.3 L512.0 402.3 L513.9 402.3 L515.9 402.3 L517.8 402.3 L519.7 402.3 L521.7 402.3 L523.6 402.3 L525.5 402.3 L527.5 402.3 L529.4 402.3 L531.4 402.3 L533.3 402.3 L535.2 402.3 L537.2 402.3 L539.1 402.3 L541.1 402.3 L543.0 402.3 L544.9 402.3 L546.9 402.3 L548.8 402.3 L550.7 402.3 L552.7 402.4 L554.6 402.4 L556.6 402.4 L558.5 402.4 L560.4 402.4 L562.4 402.4 L564.3 402.4 L566.2 402.4 L568.2 402.4 L570.1 402.4 L572.1 402.4 L574.0 402.4" fill="none" stroke="#7f7f7f" stroke-width="2.2"/>
</g>
<clipPath id="clipa1"><rect x="110.8" y="409.0" width="463.2" height="354.0"/></clipPath>
<g clip-path="url(#clipa1)">
<path d="M110.8 742.1 L112.7 742.1 L114.7 742.1 L116.6 742.1 L118.6 742.1 L120.5 742.1 L122.4 742.1 L124.4 742.1 L126.3 742.1 L128.2 742.1 L130.2 742.1 L132.1 742.1 L134.1 742.1 L136.0 742.1 L137.9 742.1 L139.9 742.0 L141.8 742.0 L143.7 742.0 L145.7 742.0 L147.6 742.0 L149.6 742.0 L151.5 742.0 L153.4 742.0 L155.4 742.0 L157.3 742.0 L159.3 742.0 L161.2 741.9 L163.1 741.9 L165.1 741.9 L167.0 741.9 L168.9 741.8 L170.9 741.8 L172.8 741.8 L174.8 741.7 L176.7 741.7 L178.6 741.6 L180.6 741.5 L182.5 741.4 L184.4 741.3 L186.4 741.2 L188.3 741.0 L190.3 740.9 L192.2 740.7 L194.1 740.5 L196.1 740.2 L198.0 739.9 L200.0 739.6 L201.9 739.3 L203.8 738.9 L205.8 738.4 L207.7 738.0 L209.6 737.4 L211.6 736.9 L213.5 736.3 L215.5 735.6 L217.4 734.9 L219.3 734.1 L221.3 733.3 L223.2 732.5 L225.1 731.6 L227.1 730.7 L229.0 729.8 L231.0 728.9 L232.9 727.9 L234.8 727.0 L236.8 726.1 L238.7 725.1 L240.7 724.3 L242.6 723.4 L244.5 722.6 L246.5 721.9 L248.4 721.2 L250.3 720.7 L252.3 720.2 L254.2 719.8 L256.2 719.5 L258.1 719.4 L260.0 719.3 L262.0 719.4 L263.9 719.6 L265.8 719.9 L267.8 720.3 L269.7 720.8 L271.7 721.4 L273.6 722.1 L275.5 722.9 L277.5 723.7 L279.4 724.6 L281.4 725.5 L283.3 726.5 L285.2 727.5 L287.2 728.5 L289.1 729.5 L291.0 730.5 L293.0 731.4 L294.9 732.4 L296.9 733.3 L298.8 734.2 L300.7 735.0 L302.7 735.9 L304.6 736.6 L306.5 737.4 L308.5 738.0 L310.4 738.7 L312.4 739.2 L314.3 739.8 L316.2 740.3 L318.2 740.7 L320.1 741.1 L322.1 741.5 L324.0 741.8 L325.9 742.1 L327.9 742.4 L329.8 742.6 L331.7 742.9 L333.7 743.1 L335.6 743.2 L337.6 743.4 L339.5 743.6 L341.4 743.7 L343.4 743.8 L345.3 744.0 L347.2 744.1 L349.2 744.2 L351.1 744.3 L353.1 744.4 L355.0 744.5 L356.9 744.6 L358.9 744.7 L360.8 744.8 L362.7 744.9 L364.7 745.0 L366.6 745.2 L368.6 745.3 L370.5 745.4 L372.4 745.5 L374.4 745.7 L376.3 745.8 L378.3 745.9 L380.2 746.1 L382.1 746.2 L384.1 746.4 L386.0 746.6 L387.9 746.8 L389.9 747.0 L391.8 747.2 L393.8 747.4 L395.7 747.6 L397.6 747.9 L399.6 748.1 L401.5 748.4 L403.4 748.7 L405.4 749.0 L407.3 749.3 L409.3 749.6 L411.2 749.9 L413.1 750.2 L415.1 750.5 L417.0 750.9 L419.0 751.2 L420.9 751.5 L422.8 751.8 L424.8 752.1 L426.7 752.4 L428.6 752.6 L430.6 752.9 L432.5 753.1 L434.5 753.3 L436.4 753.5 L438.3 753.7 L440.3 753.9 L442.2 754.0 L444.1 754.1 L446.1 754.3 L448.0 754.4 L450.0 754.5 L451.9 754.6 L453.8 754.6 L455.8 754.7 L457.7 754.8 L459.7 754.8 L461.6 754.9 L463.5 754.9 L465.5 755.0 L467.4 755.0 L469.3 755.0 L471.3 755.1 L473.2 755.1 L475.2 755.1 L477.1 755.1 L479.0 755.2 L481.0 755.2 L482.9 755.2 L484.8 755.2 L486.8 755.2 L488.7 755.3 L490.7 755.3 L492.6 755.3 L494.5 755.3 L496.5 755.3 L498.4 755.3 L500.4 755.3 L502.3 755.3 L504.2 755.3 L506.2 755.3 L508.1 755.4 L510.0 755.4 L512.0 755.4 L513.9 755.4 L515.9 755.4 L517.8 755.4 L519.7 755.4 L521.7 755.4 L523.6 755.4 L525.5 755.4 L527.5 755.4 L529.4 755.4 L531.4 755.4 L533.3 755.4 L535.2 755.4 L537.2 755.4 L539.1 755.4 L541.1 755.4 L543.0 755.4 L544.9 755.4 L546.9 755.4 L548.8 755.4 L550.7 755.4 L552.7 755.4 L554.6 755.4 L556.6 755.4 L558.5 755.4 L560.4 755.4 L562.4 755.4 L564.3 755.4 L566.2 755.4 L568.2 755.4 L570.1 755.4 L572.1 755.5 L574.0 755.5 L574.0 755.5 L572.1 755.5 L570.1 755.5 L568.2 755.5 L566.2 755.5 L564.3 755.5 L562.4 755.5 L560.4 755.5 L558.5 755.5 L556.6 755.5 L554.6 755.5 L552.7 755.5 L550.7 755.5 L548.8 755.5 L546.9 755.5 L544.9 755.5 L543.0 755.5 L541.1 755.4 L539.1 755.4 L537.2 755.4 L535.2 755.4 L533.3 755.4 L531.4 755.4 L529.4 755.4 L527.5 755.4 L525.5 755.4 L523.6 755.4 L521.7 755.4 L519.7 755.4 L517.8 755.4 L515.9 755.4 L513.9 755.4 L512.0 755.4 L510.0 755.4 L508.1 755.4 L506.2 755.4 L504.2 755.4 L502.3 755.4 L500.4 755.4 L498.4 755.4 L496.5 755.3 L494.5 755.3 L492.6 755.3 L490.7 755.3 L488.7 755.3 L486.8 755.3 L484.8 755.3 L482.9 755.3 L481.0 755.2 L479.0 755.2 L477.1 755.2 L475.2 755.2 L473.2 755.2 L471.3 755.1 L469.3 755.1 L467.4 755.1 L465.5 755.0 L463.5 755.0 L461.6 754.9 L459.7 754.9 L457.7 754.8 L455.8 754.8 L453.8 754.7 L451.9 754.6 L450.0 754.5 L448.0 754.4 L446.1 754.3 L444.1 754.2 L442.2 754.1 L440.3 753.9 L438.3 753.8 L436.4 753.6 L434.5 753.4 L432.5 753.2 L430.6 753.0 L428.6 752.7 L426.7 752.4 L424.8 752.2 L422.8 751.9 L420.9 751.6 L419.0 751.3 L417.0 751.0 L415.1 750.6 L413.1 750.3 L411.2 750.0 L409.3 749.7 L407.3 749.4 L405.4 749.1 L403.4 748.8 L401.5 748.5 L399.6 748.2 L397.6 748.0 L395.7 747.7 L393.8 747.5 L391.8 747.3 L389.9 747.1 L387.9 746.9 L386.0 746.7 L384.1 746.6 L382.1 746.4 L380.2 746.2 L378.3 746.1 L376.3 746.0 L374.4 745.8 L372.4 745.7 L370.5 745.6 L368.6 745.5 L366.6 745.4 L364.7 745.3 L362.7 745.2 L360.8 745.1 L358.9 745.0 L356.9 744.9 L355.0 744.8 L353.1 744.8 L351.1 744.7 L349.2 744.6 L347.2 744.5 L345.3 744.5 L343.4 744.4 L341.4 744.4 L339.5 744.3 L337.6 744.2 L335.6 744.2 L333.7 744.1 L331.7 744.1 L329.8 744.1 L327.9 744.0 L325.9 744.0 L324.0 743.9 L322.1 743.9 L320.1 743.9 L318.2 743.8 L316.2 743.8 L314.3 743.7 L312.4 743.7 L310.4 743.7 L308.5 743.6 L306.5 743.6 L304.6 743.6 L302.7 743.5 L300.7 743.5 L298.8 743.5 L296.9 743.4 L294.9 743.4 L293.0 743.4 L291.0 743.3 L289.1 743.3 L287.2 743.3 L285.2 743.2 L283.3 743.2 L281.4 743.2 L279.4 743.1 L277.5 743.1 L275.5 743.1 L273.6 743.0 L271.7 743.0 L269.7 743.0 L267.8 742.9 L265.8 742.9 L263.9 742.8 L262.0 742.8 L260.0 742.8 L258.1 742.7 L256.2 742.7 L254.2 742.7 L252.3 742.7 L250.3 742.6 L248.4 742.6 L246.5 742.6 L244.5 742.5 L242.6 742.5 L240.7 742.5 L238.7 742.5 L236.8 742.5 L234.8 742.4 L232.9 742.4 L231.0 742.4 L229.0 742.4 L227.1 742.4 L225.1 742.4 L223.2 742.3 L221.3 742.3 L219.3 742.3 L217.4 742.3 L215.5 742.3 L213.5 742.3 L211.6 742.3 L209.6 742.3 L207.7 742.3 L205.8 742.3 L203.8 742.3 L201.9 742.3 L200.0 742.3 L198.0 742.3 L196.1 742.3 L194.1 742.2 L192.2 742.2 L190.3 742.2 L188.3 742.2 L186.4 742.2 L184.4 742.2 L182.5 742.2 L180.6 742.2 L178.6 742.2 L176.7 742.2 L174.8 742.2 L172.8 742.2 L170.9 742.2 L168.9 742.2 L167.0 742.2 L165.1 742.2 L163.1 742.2 L161.2 742.2 L159.3 742.2 L157.3 742.2 L155.4 742.2 L153.4 742.2 L151.5 742.2 L149.6 742.2 L147.6 742.2 L145.7 742.2 L143.7 742.2 L141.8 742.2 L139.9 742.2 L137.9 742.2 L136.0 742.2 L134.1 742.2 L132.1 742.2 L130.2 742.2 L128.2 742.2 L126.3 742.2 L124.4 742.2 L122.4 742.2 L120.5 742.2 L118.6 742.2 L116.6 742.2 L114.7 742.2 L112.7 742.2 L110.8 742.2Z" fill="#ffa040" fill-opacity="0.60"/>
<path d="M110.8 742.1 L112.7 742.1 L114.7 742.1 L116.6 742.1 L118.6 742.1 L120.5 742.1 L122.4 742.1 L124.4 742.1 L126.3 742.1 L128.2 742.1 L130.2 742.1 L132.1 742.1 L134.1 742.1 L136.0 742.1 L137.9 742.1 L139.9 742.1 L141.8 742.1 L143.7 742.1 L145.7 742.1 L147.6 742.1 L149.6 742.1 L151.5 742.1 L153.4 742.1 L155.4 742.1 L157.3 742.1 L159.3 742.1 L161.2 742.1 L163.1 742.1 L165.1 742.1 L167.0 742.1 L168.9 742.1 L170.9 742.1 L172.8 742.1 L174.8 742.1 L176.7 742.1 L178.6 742.1 L180.6 742.1 L182.5 742.1 L184.4 742.1 L186.4 742.1 L188.3 742.1 L190.3 742.1 L192.2 742.1 L194.1 742.1 L196.1 742.0 L198.0 742.0 L200.0 742.0 L201.9 742.0 L203.8 742.0 L205.8 742.0 L207.7 742.0 L209.6 742.0 L211.6 742.0 L213.5 741.9 L215.5 741.9 L217.4 741.9 L219.3 741.8 L221.3 741.8 L223.2 741.8 L225.1 741.7 L227.1 741.6 L229.0 741.6 L231.0 741.5 L232.9 741.4 L234.8 741.3 L236.8 741.1 L238.7 741.0 L240.7 740.8 L242.6 740.6 L244.5 740.4 L246.5 740.2 L248.4 739.9 L250.3 739.6 L252.3 739.3 L254.2 738.9 L256.2 738.6 L258.1 738.1 L260.0 737.7 L262.0 737.2 L263.9 736.6 L265.8 736.1 L267.8 735.5 L269.7 734.8 L271.7 734.2 L273.6 733.5 L275.5 732.8 L277.5 732.0 L279.4 731.3 L281.4 730.5 L283.3 729.7 L285.2 728.9 L287.2 728.2 L289.1 727.4 L291.0 726.7 L293.0 726.0 L294.9 725.3 L296.9 724.7 L298.8 724.1 L300.7 723.6 L302.7 723.1 L304.6 722.8 L306.5 722.5 L308.5 722.2 L310.4 722.1 L312.4 722.0 L314.3 722.1 L316.2 722.2 L318.2 722.4 L320.1 722.7 L322.1 723.1 L324.0 723.6 L325.9 724.1 L327.9 724.7 L329.8 725.3 L331.7 726.1 L333.7 726.8 L335.6 727.6 L337.6 728.4 L339.5 729.3 L341.4 730.1 L343.4 731.0 L345.3 731.8 L347.2 732.7 L349.2 733.6 L351.1 734.4 L353.1 735.2 L355.0 736.0 L356.9 736.8 L358.9 737.6 L360.8 738.3 L362.7 739.0 L364.7 739.7 L366.6 740.3 L368.6 740.9 L370.5 741.5 L372.4 742.0 L374.4 742.5 L376.3 743.0 L378.3 743.4 L380.2 743.9 L382.1 744.3 L384.1 744.7 L386.0 745.1 L387.9 745.4 L389.9 745.8 L391.8 746.1 L393.8 746.5 L395.7 746.8 L397.6 747.2 L399.6 747.5 L401.5 747.9 L403.4 748.2 L405.4 748.6 L407.3 748.9 L409.3 749.3 L411.2 749.6 L413.1 750.0 L415.1 750.3 L417.0 750.7 L419.0 751.0 L420.9 751.3 L422.8 751.6 L424.8 751.9 L426.7 752.2 L428.6 752.5 L430.6 752.7 L432.5 753.0 L434.5 753.2 L436.4 753.4 L438.3 753.6 L440.3 753.8 L442.2 753.9 L444.1 754.1 L446.1 754.2 L448.0 754.3 L450.0 754.4 L451.9 754.5 L453.8 754.6 L455.8 754.6 L457.7 754.7 L459.7 754.8 L461.6 754.8 L463.5 754.9 L465.5 754.9 L467.4 754.9 L469.3 755.0 L471.3 755.0 L473.2 755.0 L475.2 755.1 L477.1 755.1 L479.0 755.1 L481.0 755.1 L482.9 755.2 L484.8 755.2 L486.8 755.2 L488.7 755.2 L490.7 755.2 L492.6 755.2 L494.5 755.3 L496.5 755.3 L498.4 755.3 L500.4 755.3 L502.3 755.3 L504.2 755.3 L506.2 755.3 L508.1 755.3 L510.0 755.3 L512.0 755.3 L513.9 755.3 L515.9 755.3 L517.8 755.3 L519.7 755.4 L521.7 755.4 L523.6 755.4 L525.5 755.4 L527.5 755.4 L529.4 755.4 L531.4 755.4 L533.3 755.4 L535.2 755.4 L537.2 755.4 L539.1 755.4 L541.1 755.4 L543.0 755.4 L544.9 755.4 L546.9 755.4 L548.8 755.4 L550.7 755.4 L552.7 755.4 L554.6 755.4 L556.6 755.4 L558.5 755.4 L560.4 755.4 L562.4 755.4 L564.3 755.4 L566.2 755.4 L568.2 755.4 L570.1 755.4 L572.1 755.4 L574.0 755.4 L574.0 755.5 L572.1 755.5 L570.1 755.5 L568.2 755.5 L566.2 755.5 L564.3 755.5 L562.4 755.5 L560.4 755.5 L558.5 755.5 L556.6 755.5 L554.6 755.5 L552.7 755.5 L550.7 755.5 L548.8 755.5 L546.9 755.5 L544.9 755.5 L543.0 755.5 L541.1 755.4 L539.1 755.4 L537.2 755.4 L535.2 755.4 L533.3 755.4 L531.4 755.4 L529.4 755.4 L527.5 755.4 L525.5 755.4 L523.6 755.4 L521.7 755.4 L519.7 755.4 L517.8 755.4 L515.9 755.4 L513.9 755.4 L512.0 755.4 L510.0 755.4 L508.1 755.4 L506.2 755.4 L504.2 755.4 L502.3 755.4 L500.4 755.4 L498.4 755.4 L496.5 755.3 L494.5 755.3 L492.6 755.3 L490.7 755.3 L488.7 755.3 L486.8 755.3 L484.8 755.3 L482.9 755.3 L481.0 755.2 L479.0 755.2 L477.1 755.2 L475.2 755.2 L473.2 755.2 L471.3 755.1 L469.3 755.1 L467.4 755.1 L465.5 755.0 L463.5 755.0 L461.6 754.9 L459.7 754.9 L457.7 754.8 L455.8 754.8 L453.8 754.7 L451.9 754.6 L450.0 754.5 L448.0 754.4 L446.1 754.3 L444.1 754.2 L442.2 754.1 L440.3 753.9 L438.3 753.8 L436.4 753.6 L434.5 753.4 L432.5 753.2 L430.6 753.0 L428.6 752.7 L426.7 752.4 L424.8 752.2 L422.8 751.9 L420.9 751.6 L419.0 751.3 L417.0 751.0 L415.1 750.6 L413.1 750.3 L411.2 750.0 L409.3 749.7 L407.3 749.4 L405.4 749.1 L403.4 748.8 L401.5 748.5 L399.6 748.2 L397.6 748.0 L395.7 747.7 L393.8 747.5 L391.8 747.3 L389.9 747.1 L387.9 746.9 L386.0 746.7 L384.1 746.6 L382.1 746.4 L380.2 746.2 L378.3 746.1 L376.3 746.0 L374.4 745.8 L372.4 745.7 L370.5 745.6 L368.6 745.5 L366.6 745.4 L364.7 745.3 L362.7 745.2 L360.8 745.1 L358.9 745.0 L356.9 744.9 L355.0 744.8 L353.1 744.8 L351.1 744.7 L349.2 744.6 L347.2 744.5 L345.3 744.5 L343.4 744.4 L341.4 744.4 L339.5 744.3 L337.6 744.2 L335.6 744.2 L333.7 744.1 L331.7 744.1 L329.8 744.1 L327.9 744.0 L325.9 744.0 L324.0 743.9 L322.1 743.9 L320.1 743.9 L318.2 743.8 L316.2 743.8 L314.3 743.7 L312.4 743.7 L310.4 743.7 L308.5 743.6 L306.5 743.6 L304.6 743.6 L302.7 743.5 L300.7 743.5 L298.8 743.5 L296.9 743.4 L294.9 743.4 L293.0 743.4 L291.0 743.3 L289.1 743.3 L287.2 743.3 L285.2 743.2 L283.3 743.2 L281.4 743.2 L279.4 743.1 L277.5 743.1 L275.5 743.1 L273.6 743.0 L271.7 743.0 L269.7 743.0 L267.8 742.9 L265.8 742.9 L263.9 742.8 L262.0 742.8 L260.0 742.8 L258.1 742.7 L256.2 742.7 L254.2 742.7 L252.3 742.7 L250.3 742.6 L248.4 742.6 L246.5 742.6 L244.5 742.5 L242.6 742.5 L240.7 742.5 L238.7 742.5 L236.8 742.5 L234.8 742.4 L232.9 742.4 L231.0 742.4 L229.0 742.4 L227.1 742.4 L225.1 742.4 L223.2 742.3 L221.3 742.3 L219.3 742.3 L217.4 742.3 L215.5 742.3 L213.5 742.3 L211.6 742.3 L209.6 742.3 L207.7 742.3 L205.8 742.3 L203.8 742.3 L201.9 742.3 L200.0 742.3 L198.0 742.3 L196.1 742.3 L194.1 742.2 L192.2 742.2 L190.3 742.2 L188.3 742.2 L186.4 742.2 L184.4 742.2 L182.5 742.2 L180.6 742.2 L178.6 742.2 L176.7 742.2 L174.8 742.2 L172.8 742.2 L170.9 742.2 L168.9 742.2 L167.0 742.2 L165.1 742.2 L163.1 742.2 L161.2 742.2 L159.3 742.2 L157.3 742.2 L155.4 742.2 L153.4 742.2 L151.5 742.2 L149.6 742.2 L147.6 742.2 L145.7 742.2 L143.7 742.2 L141.8 742.2 L139.9 742.2 L137.9 742.2 L136.0 742.2 L134.1 742.2 L132.1 742.2 L130.2 742.2 L128.2 742.2 L126.3 742.2 L124.4 742.2 L122.4 742.2 L120.5 742.2 L118.6 742.2 L116.6 742.2 L114.7 742.2 L112.7 742.2 L110.8 742.2Z" fill="#ff9cff" fill-opacity="0.50"/>
<path d="M110.8 742.1 L112.7 742.1 L114.7 742.1 L116.6 742.1 L118.6 742.1 L120.5 742.1 L122.4 742.1 L124.4 742.1 L126.3 742.1 L128.2 742.1 L130.2 742.1 L132.1 742.1 L134.1 742.1 L136.0 742.1 L137.9 742.1 L139.9 742.1 L141.8 742.1 L143.7 742.1 L145.7 742.1 L147.6 742.1 L149.6 742.1 L151.5 742.1 L153.4 742.1 L155.4 742.1 L157.3 742.1 L159.3 742.1 L161.2 742.0 L163.1 742.0 L165.1 742.0 L167.0 742.0 L168.9 742.0 L170.9 742.0 L172.8 742.0 L174.8 742.0 L176.7 742.0 L178.6 742.0 L180.6 742.0 L182.5 742.0 L184.4 742.0 L186.4 742.0 L188.3 742.0 L190.3 742.0 L192.2 742.0 L194.1 742.0 L196.1 742.0 L198.0 742.0 L200.0 742.0 L201.9 742.0 L203.8 742.0 L205.8 742.0 L207.7 742.0 L209.6 742.0 L211.6 742.0 L213.5 742.0 L215.5 742.0 L217.4 742.0 L219.3 742.0 L221.3 742.0 L223.2 742.0 L225.1 742.0 L227.1 742.0 L229.0 742.0 L231.0 742.0 L232.9 742.0 L234.8 742.0 L236.8 742.1 L238.7 742.1 L240.7 742.1 L242.6 742.1 L244.5 742.1 L246.5 742.1 L248.4 742.1 L250.3 742.1 L252.3 742.1 L254.2 742.2 L256.2 742.2 L258.1 742.2 L260.0 742.2 L262.0 742.2 L263.9 742.2 L265.8 742.2 L267.8 742.2 L269.7 742.2 L271.7 742.3 L273.6 742.3 L275.5 742.2 L277.5 742.2 L279.4 742.2 L281.4 742.2 L283.3 742.1 L285.2 742.1 L287.2 742.0 L289.1 741.9 L291.0 741.8 L293.0 741.7 L294.9 741.5 L296.9 741.3 L298.8 741.1 L300.7 740.8 L302.7 740.4 L304.6 740.0 L306.5 739.5 L308.5 738.9 L310.4 738.2 L312.4 737.4 L314.3 736.4 L316.2 735.3 L318.2 734.1 L320.1 732.7 L322.1 731.2 L324.0 729.4 L325.9 727.5 L327.9 725.4 L329.8 723.1 L331.7 720.6 L333.7 717.8 L335.6 714.9 L337.6 711.8 L339.5 708.6 L341.4 705.2 L343.4 701.7 L345.3 698.1 L347.2 694.4 L349.2 690.7 L351.1 687.0 L353.1 683.4 L355.0 679.9 L356.9 676.5 L358.9 673.4 L360.8 670.5 L362.7 667.9 L364.7 665.6 L366.6 663.8 L368.6 662.3 L370.5 661.4 L372.4 660.9 L374.4 660.9 L376.3 661.4 L378.3 662.4 L380.2 663.9 L382.1 665.8 L384.1 668.2 L386.0 670.9 L387.9 673.9 L389.9 677.2 L391.8 680.8 L393.8 684.6 L395.7 688.4 L397.6 692.4 L399.6 696.4 L401.5 700.5 L403.4 704.5 L405.4 708.4 L407.3 712.2 L409.3 715.9 L411.2 719.4 L413.1 722.8 L415.1 725.9 L417.0 728.9 L419.0 731.7 L420.9 734.2 L422.8 736.6 L424.8 738.7 L426.7 740.7 L428.6 742.4 L430.6 744.0 L432.5 745.4 L434.5 746.6 L436.4 747.7 L438.3 748.7 L440.3 749.5 L442.2 750.3 L444.1 750.9 L446.1 751.4 L448.0 751.9 L450.0 752.3 L451.9 752.7 L453.8 752.9 L455.8 753.2 L457.7 753.4 L459.7 753.6 L461.6 753.8 L463.5 753.9 L465.5 754.0 L467.4 754.1 L469.3 754.2 L471.3 754.3 L473.2 754.4 L475.2 754.4 L477.1 754.5 L479.0 754.5 L481.0 754.6 L482.9 754.6 L484.8 754.7 L486.8 754.7 L488.7 754.7 L490.7 754.8 L492.6 754.8 L494.5 754.8 L496.5 754.8 L498.4 754.9 L500.4 754.9 L502.3 754.9 L504.2 754.9 L506.2 755.0 L508.1 755.0 L510.0 755.0 L512.0 755.0 L513.9 755.0 L515.9 755.0 L517.8 755.0 L519.7 755.1 L521.7 755.1 L523.6 755.1 L525.5 755.1 L527.5 755.1 L529.4 755.1 L531.4 755.1 L533.3 755.1 L535.2 755.1 L537.2 755.2 L539.1 755.2 L541.1 755.2 L543.0 755.2 L544.9 755.2 L546.9 755.2 L548.8 755.2 L550.7 755.2 L552.7 755.2 L554.6 755.2 L556.6 755.2 L558.5 755.2 L560.4 755.2 L562.4 755.3 L564.3 755.3 L566.2 755.3 L568.2 755.3 L570.1 755.3 L572.1 755.3 L574.0 755.3 L574.0 755.5 L572.1 755.5 L570.1 755.5 L568.2 755.5 L566.2 755.5 L564.3 755.5 L562.4 755.5 L560.4 755.5 L558.5 755.5 L556.6 755.5 L554.6 755.5 L552.7 755.5 L550.7 755.5 L548.8 755.5 L546.9 755.5 L544.9 755.5 L543.0 755.5 L541.1 755.4 L539.1 755.4 L537.2 755.4 L535.2 755.4 L533.3 755.4 L531.4 755.4 L529.4 755.4 L527.5 755.4 L525.5 755.4 L523.6 755.4 L521.7 755.4 L519.7 755.4 L517.8 755.4 L515.9 755.4 L513.9 755.4 L512.0 755.4 L510.0 755.4 L508.1 755.4 L506.2 755.4 L504.2 755.4 L502.3 755.4 L500.4 755.4 L498.4 755.4 L496.5 755.3 L494.5 755.3 L492.6 755.3 L490.7 755.3 L488.7 755.3 L486.8 755.3 L484.8 755.3 L482.9 755.3 L481.0 755.2 L479.0 755.2 L477.1 755.2 L475.2 755.2 L473.2 755.2 L471.3 755.1 L469.3 755.1 L467.4 755.1 L465.5 755.0 L463.5 755.0 L461.6 754.9 L459.7 754.9 L457.7 754.8 L455.8 754.8 L453.8 754.7 L451.9 754.6 L450.0 754.5 L448.0 754.4 L446.1 754.3 L444.1 754.2 L442.2 754.1 L440.3 753.9 L438.3 753.8 L436.4 753.6 L434.5 753.4 L432.5 753.2 L430.6 753.0 L428.6 752.7 L426.7 752.4 L424.8 752.2 L422.8 751.9 L420.9 751.6 L419.0 751.3 L417.0 751.0 L415.1 750.6 L413.1 750.3 L411.2 750.0 L409.3 749.7 L407.3 749.4 L405.4 749.1 L403.4 748.8 L401.5 748.5 L399.6 748.2 L397.6 748.0 L395.7 747.7 L393.8 747.5 L391.8 747.3 L389.9 747.1 L387.9 746.9 L386.0 746.7 L384.1 746.6 L382.1 746.4 L380.2 746.2 L378.3 746.1 L376.3 746.0 L374.4 745.8 L372.4 745.7 L370.5 745.6 L368.6 745.5 L366.6 745.4 L364.7 745.3 L362.7 745.2 L360.8 745.1 L358.9 745.0 L356.9 744.9 L355.0 744.8 L353.1 744.8 L351.1 744.7 L349.2 744.6 L347.2 744.5 L345.3 744.5 L343.4 744.4 L341.4 744.4 L339.5 744.3 L337.6 744.2 L335.6 744.2 L333.7 744.1 L331.7 744.1 L329.8 744.1 L327.9 744.0 L325.9 744.0 L324.0 743.9 L322.1 743.9 L320.1 743.9 L318.2 743.8 L316.2 743.8 L314.3 743.7 L312.4 743.7 L310.4 743.7 L308.5 743.6 L306.5 743.6 L304.6 743.6 L302.7 743.5 L300.7 743.5 L298.8 743.5 L296.9 743.4 L294.9 743.4 L293.0 743.4 L291.0 743.3 L289.1 743.3 L287.2 743.3 L285.2 743.2 L283.3 743.2 L281.4 743.2 L279.4 743.1 L277.5 743.1 L275.5 743.1 L273.6 743.0 L271.7 743.0 L269.7 743.0 L267.8 742.9 L265.8 742.9 L263.9 742.8 L262.0 742.8 L260.0 742.8 L258.1 742.7 L256.2 742.7 L254.2 742.7 L252.3 742.7 L250.3 742.6 L248.4 742.6 L246.5 742.6 L244.5 742.5 L242.6 742.5 L240.7 742.5 L238.7 742.5 L236.8 742.5 L234.8 742.4 L232.9 742.4 L231.0 742.4 L229.0 742.4 L227.1 742.4 L225.1 742.4 L223.2 742.3 L221.3 742.3 L219.3 742.3 L217.4 742.3 L215.5 742.3 L213.5 742.3 L211.6 742.3 L209.6 742.3 L207.7 742.3 L205.8 742.3 L203.8 742.3 L201.9 742.3 L200.0 742.3 L198.0 742.3 L196.1 742.3 L194.1 742.2 L192.2 742.2 L190.3 742.2 L188.3 742.2 L186.4 742.2 L184.4 742.2 L182.5 742.2 L180.6 742.2 L178.6 742.2 L176.7 742.2 L174.8 742.2 L172.8 742.2 L170.9 742.2 L168.9 742.2 L167.0 742.2 L165.1 742.2 L163.1 742.2 L161.2 742.2 L159.3 742.2 L157.3 742.2 L155.4 742.2 L153.4 742.2 L151.5 742.2 L149.6 742.2 L147.6 742.2 L145.7 742.2 L143.7 742.2 L141.8 742.2 L139.9 742.2 L137.9 742.2 L136.0 742.2 L134.1 742.2 L132.1 742.2 L130.2 742.2 L128.2 742.2 L126.3 742.2 L124.4 742.2 L122.4 742.2 L120.5 742.2 L118.6 742.2 L116.6 742.2 L114.7 742.2 L112.7 742.2 L110.8 742.2Z" fill="#9cc3f7" fill-opacity="0.50"/>
<path d="M110.8 741.9 L112.7 741.9 L114.7 741.9 L116.6 741.9 L118.6 741.9 L120.5 741.9 L122.4 741.9 L124.4 741.9 L126.3 741.9 L128.2 741.9 L130.2 741.9 L132.1 741.9 L134.1 741.9 L136.0 741.9 L137.9 741.9 L139.9 741.9 L141.8 741.9 L143.7 741.9 L145.7 741.9 L147.6 741.9 L149.6 741.9 L151.5 741.9 L153.4 741.9 L155.4 741.9 L157.3 741.8 L159.3 741.8 L161.2 741.8 L163.1 741.8 L165.1 741.8 L167.0 741.8 L168.9 741.8 L170.9 741.8 L172.8 741.8 L174.8 741.8 L176.7 741.8 L178.6 741.8 L180.6 741.8 L182.5 741.8 L184.4 741.8 L186.4 741.8 L188.3 741.8 L190.3 741.8 L192.2 741.8 L194.1 741.7 L196.1 741.7 L198.0 741.7 L200.0 741.7 L201.9 741.7 L203.8 741.7 L205.8 741.7 L207.7 741.7 L209.6 741.7 L211.6 741.7 L213.5 741.7 L215.5 741.7 L217.4 741.7 L219.3 741.7 L221.3 741.7 L223.2 741.7 L225.1 741.7 L227.1 741.7 L229.0 741.7 L231.0 741.7 L232.9 741.7 L234.8 741.7 L236.8 741.7 L238.7 741.7 L240.7 741.7 L242.6 741.7 L244.5 741.7 L246.5 741.7 L248.4 741.7 L250.3 741.7 L252.3 741.7 L254.2 741.7 L256.2 741.8 L258.1 741.8 L260.0 741.8 L262.0 741.8 L263.9 741.8 L265.8 741.8 L267.8 741.8 L269.7 741.8 L271.7 741.8 L273.6 741.8 L275.5 741.8 L277.5 741.8 L279.4 741.8 L281.4 741.8 L283.3 741.8 L285.2 741.8 L287.2 741.8 L289.1 741.8 L291.0 741.8 L293.0 741.8 L294.9 741.8 L296.9 741.7 L298.8 741.7 L300.7 741.7 L302.7 741.7 L304.6 741.6 L306.5 741.6 L308.5 741.6 L310.4 741.5 L312.4 741.5 L314.3 741.5 L316.2 741.4 L318.2 741.3 L320.1 741.3 L322.1 741.2 L324.0 741.2 L325.9 741.1 L327.9 741.0 L329.8 740.9 L331.7 740.8 L333.7 740.7 L335.6 740.6 L337.6 740.4 L339.5 740.2 L341.4 740.0 L343.4 739.8 L345.3 739.5 L347.2 739.2 L349.2 738.7 L351.1 738.2 L353.1 737.5 L355.0 736.7 L356.9 735.6 L358.9 734.3 L360.8 732.7 L362.7 730.7 L364.7 728.2 L366.6 725.3 L368.6 721.7 L370.5 717.4 L372.4 712.2 L374.4 706.2 L376.3 699.3 L378.3 691.2 L380.2 682.0 L382.1 671.7 L384.1 660.2 L386.0 647.5 L387.9 633.7 L389.9 618.8 L391.8 603.1 L393.8 586.7 L395.7 569.8 L397.6 552.7 L399.6 535.7 L401.5 519.2 L403.4 503.5 L405.4 489.0 L407.3 476.1 L409.3 465.2 L411.2 456.8 L413.1 450.9 L415.1 448.0 L417.0 448.1 L419.0 451.3 L420.9 457.3 L422.8 466.1 L424.8 477.2 L426.7 490.4 L428.6 505.3 L430.6 521.3 L432.5 538.3 L434.5 555.7 L436.4 573.3 L438.3 590.6 L440.3 607.5 L442.2 623.7 L444.1 639.0 L446.1 653.2 L448.0 666.3 L450.0 678.3 L451.9 689.0 L453.8 698.6 L455.8 707.0 L457.7 714.3 L459.7 720.6 L461.6 726.0 L463.5 730.6 L465.5 734.4 L467.4 737.6 L469.3 740.3 L471.3 742.4 L473.2 744.2 L475.2 745.7 L477.1 746.9 L479.0 747.8 L481.0 748.6 L482.9 749.3 L484.8 749.8 L486.8 750.3 L488.7 750.6 L490.7 751.0 L492.6 751.2 L494.5 751.5 L496.5 751.7 L498.4 751.9 L500.4 752.0 L502.3 752.2 L504.2 752.3 L506.2 752.5 L508.1 752.6 L510.0 752.7 L512.0 752.8 L513.9 752.9 L515.9 753.0 L517.8 753.1 L519.7 753.2 L521.7 753.3 L523.6 753.4 L525.5 753.4 L527.5 753.5 L529.4 753.6 L531.4 753.6 L533.3 753.7 L535.2 753.7 L537.2 753.8 L539.1 753.8 L541.1 753.9 L543.0 753.9 L544.9 754.0 L546.9 754.0 L548.8 754.1 L550.7 754.1 L552.7 754.2 L554.6 754.2 L556.6 754.2 L558.5 754.3 L560.4 754.3 L562.4 754.3 L564.3 754.4 L566.2 754.4 L568.2 754.4 L570.1 754.4 L572.1 754.5 L574.0 754.5 L574.0 755.5 L572.1 755.5 L570.1 755.5 L568.2 755.5 L566.2 755.5 L564.3 755.5 L562.4 755.5 L560.4 755.5 L558.5 755.5 L556.6 755.5 L554.6 755.5 L552.7 755.5 L550.7 755.5 L548.8 755.5 L546.9 755.5 L544.9 755.5 L543.0 755.5 L541.1 755.4 L539.1 755.4 L537.2 755.4 L535.2 755.4 L533.3 755.4 L531.4 755.4 L529.4 755.4 L527.5 755.4 L525.5 755.4 L523.6 755.4 L521.7 755.4 L519.7 755.4 L517.8 755.4 L515.9 755.4 L513.9 755.4 L512.0 755.4 L510.0 755.4 L508.1 755.4 L506.2 755.4 L504.2 755.4 L502.3 755.4 L500.4 755.4 L498.4 755.4 L496.5 755.3 L494.5 755.3 L492.6 755.3 L490.7 755.3 L488.7 755.3 L486.8 755.3 L484.8 755.3 L482.9 755.3 L481.0 755.2 L479.0 755.2 L477.1 755.2 L475.2 755.2 L473.2 755.2 L471.3 755.1 L469.3 755.1 L467.4 755.1 L465.5 755.0 L463.5 755.0 L461.6 754.9 L459.7 754.9 L457.7 754.8 L455.8 754.8 L453.8 754.7 L451.9 754.6 L450.0 754.5 L448.0 754.4 L446.1 754.3 L444.1 754.2 L442.2 754.1 L440.3 753.9 L438.3 753.8 L436.4 753.6 L434.5 753.4 L432.5 753.2 L430.6 753.0 L428.6 752.7 L426.7 752.4 L424.8 752.2 L422.8 751.9 L420.9 751.6 L419.0 751.3 L417.0 751.0 L415.1 750.6 L413.1 750.3 L411.2 750.0 L409.3 749.7 L407.3 749.4 L405.4 749.1 L403.4 748.8 L401.5 748.5 L399.6 748.2 L397.6 748.0 L395.7 747.7 L393.8 747.5 L391.8 747.3 L389.9 747.1 L387.9 746.9 L386.0 746.7 L384.1 746.6 L382.1 746.4 L380.2 746.2 L378.3 746.1 L376.3 746.0 L374.4 745.8 L372.4 745.7 L370.5 745.6 L368.6 745.5 L366.6 745.4 L364.7 745.3 L362.7 745.2 L360.8 745.1 L358.9 745.0 L356.9 744.9 L355.0 744.8 L353.1 744.8 L351.1 744.7 L349.2 744.6 L347.2 744.5 L345.3 744.5 L343.4 744.4 L341.4 744.4 L339.5 744.3 L337.6 744.2 L335.6 744.2 L333.7 744.1 L331.7 744.1 L329.8 744.1 L327.9 744.0 L325.9 744.0 L324.0 743.9 L322.1 743.9 L320.1 743.9 L318.2 743.8 L316.2 743.8 L314.3 743.7 L312.4 743.7 L310.4 743.7 L308.5 743.6 L306.5 743.6 L304.6 743.6 L302.7 743.5 L300.7 743.5 L298.8 743.5 L296.9 743.4 L294.9 743.4 L293.0 743.4 L291.0 743.3 L289.1 743.3 L287.2 743.3 L285.2 743.2 L283.3 743.2 L281.4 743.2 L279.4 743.1 L277.5 743.1 L275.5 743.1 L273.6 743.0 L271.7 743.0 L269.7 743.0 L267.8 742.9 L265.8 742.9 L263.9 742.8 L262.0 742.8 L260.0 742.8 L258.1 742.7 L256.2 742.7 L254.2 742.7 L252.3 742.7 L250.3 742.6 L248.4 742.6 L246.5 742.6 L244.5 742.5 L242.6 742.5 L240.7 742.5 L238.7 742.5 L236.8 742.5 L234.8 742.4 L232.9 742.4 L231.0 742.4 L229.0 742.4 L227.1 742.4 L225.1 742.4 L223.2 742.3 L221.3 742.3 L219.3 742.3 L217.4 742.3 L215.5 742.3 L213.5 742.3 L211.6 742.3 L209.6 742.3 L207.7 742.3 L205.8 742.3 L203.8 742.3 L201.9 742.3 L200.0 742.3 L198.0 742.3 L196.1 742.3 L194.1 742.2 L192.2 742.2 L190.3 742.2 L188.3 742.2 L186.4 742.2 L184.4 742.2 L182.5 742.2 L180.6 742.2 L178.6 742.2 L176.7 742.2 L174.8 742.2 L172.8 742.2 L170.9 742.2 L168.9 742.2 L167.0 742.2 L165.1 742.2 L163.1 742.2 L161.2 742.2 L159.3 742.2 L157.3 742.2 L155.4 742.2 L153.4 742.2 L151.5 742.2 L149.6 742.2 L147.6 742.2 L145.7 742.2 L143.7 742.2 L141.8 742.2 L139.9 742.2 L137.9 742.2 L136.0 742.2 L134.1 742.2 L132.1 742.2 L130.2 742.2 L128.2 742.2 L126.3 742.2 L124.4 742.2 L122.4 742.2 L120.5 742.2 L118.6 742.2 L116.6 742.2 L114.7 742.2 L112.7 742.2 L110.8 742.2Z" fill="#a6dea0" fill-opacity="0.50"/>
<path d="M110.8 742.2 L112.7 742.2 L114.7 742.2 L116.6 742.2 L118.6 742.2 L120.5 742.2 L122.4 742.2 L124.4 742.2 L126.3 742.2 L128.2 742.2 L130.2 742.2 L132.1 742.2 L134.1 742.2 L136.0 742.2 L137.9 742.2 L139.9 742.2 L141.8 742.2 L143.7 742.2 L145.7 742.2 L147.6 742.2 L149.6 742.2 L151.5 742.2 L153.4 742.2 L155.4 742.2 L157.3 742.2 L159.3 742.2 L161.2 742.2 L163.1 742.2 L165.1 742.2 L167.0 742.2 L168.9 742.2 L170.9 742.2 L172.8 742.2 L174.8 742.2 L176.7 742.2 L178.6 742.2 L180.6 742.2 L182.5 742.2 L184.4 742.2 L186.4 742.2 L188.3 742.2 L190.3 742.2 L192.2 742.2 L194.1 742.2 L196.1 742.2 L198.0 742.2 L200.0 742.2 L201.9 742.2 L203.8 742.2 L205.8 742.2 L207.7 742.2 L209.6 742.2 L211.6 742.2 L213.5 742.3 L215.5 742.3 L217.4 742.3 L219.3 742.3 L221.3 742.3 L223.2 742.3 L225.1 742.3 L227.1 742.3 L229.0 742.3 L231.0 742.4 L232.9 742.4 L234.8 742.4 L236.8 742.4 L238.7 742.4 L240.7 742.4 L242.6 742.5 L244.5 742.5 L246.5 742.5 L248.4 742.5 L250.3 742.6 L252.3 742.6 L254.2 742.6 L256.2 742.7 L258.1 742.7 L260.0 742.7 L262.0 742.8 L263.9 742.8 L265.8 742.8 L267.8 742.8 L269.7 742.9 L271.7 742.9 L273.6 742.9 L275.5 743.0 L277.5 743.0 L279.4 743.1 L281.4 743.1 L283.3 743.1 L285.2 743.2 L287.2 743.2 L289.1 743.2 L291.0 743.2 L293.0 743.3 L294.9 743.3 L296.9 743.3 L298.8 743.4 L300.7 743.4 L302.7 743.4 L304.6 743.5 L306.5 743.5 L308.5 743.5 L310.4 743.6 L312.4 743.6 L314.3 743.6 L316.2 743.7 L318.2 743.7 L320.1 743.7 L322.1 743.8 L324.0 743.8 L325.9 743.8 L327.9 743.9 L329.8 743.9 L331.7 744.0 L333.7 744.0 L335.6 744.0 L337.6 744.1 L339.5 744.1 L341.4 744.2 L343.4 744.2 L345.3 744.3 L347.2 744.3 L349.2 744.4 L351.1 744.5 L353.1 744.5 L355.0 744.6 L356.9 744.7 L358.9 744.7 L360.8 744.8 L362.7 744.9 L364.7 744.9 L366.6 745.0 L368.6 745.0 L370.5 745.1 L372.4 745.2 L374.4 745.2 L376.3 745.3 L378.3 745.3 L380.2 745.3 L382.1 745.3 L384.1 745.3 L386.0 745.3 L387.9 745.3 L389.9 745.2 L391.8 745.2 L393.8 745.1 L395.7 745.0 L397.6 744.8 L399.6 744.6 L401.5 744.4 L403.4 744.1 L405.4 743.8 L407.3 743.5 L409.3 743.1 L411.2 742.7 L413.1 742.2 L415.1 741.7 L417.0 741.1 L419.0 740.5 L420.9 739.8 L422.8 739.1 L424.8 738.4 L426.7 737.7 L428.6 736.9 L430.6 736.2 L432.5 735.4 L434.5 734.7 L436.4 734.0 L438.3 733.4 L440.3 732.8 L442.2 732.3 L444.1 731.9 L446.1 731.5 L448.0 731.3 L450.0 731.2 L451.9 731.2 L453.8 731.3 L455.8 731.5 L457.7 731.9 L459.7 732.4 L461.6 732.9 L463.5 733.6 L465.5 734.4 L467.4 735.2 L469.3 736.1 L471.3 737.0 L473.2 738.0 L475.2 739.0 L477.1 740.1 L479.0 741.1 L481.0 742.1 L482.9 743.1 L484.8 744.1 L486.8 745.1 L488.7 746.0 L490.7 746.9 L492.6 747.7 L494.5 748.5 L496.5 749.2 L498.4 749.9 L500.4 750.5 L502.3 751.1 L504.2 751.6 L506.2 752.0 L508.1 752.5 L510.0 752.8 L512.0 753.2 L513.9 753.5 L515.9 753.7 L517.8 753.9 L519.7 754.1 L521.7 754.3 L523.6 754.5 L525.5 754.6 L527.5 754.7 L529.4 754.8 L531.4 754.9 L533.3 754.9 L535.2 755.0 L537.2 755.0 L539.1 755.1 L541.1 755.1 L543.0 755.1 L544.9 755.2 L546.9 755.2 L548.8 755.2 L550.7 755.2 L552.7 755.2 L554.6 755.2 L556.6 755.3 L558.5 755.3 L560.4 755.3 L562.4 755.3 L564.3 755.3 L566.2 755.3 L568.2 755.3 L570.1 755.3 L572.1 755.3 L574.0 755.3 L574.0 755.5 L572.1 755.5 L570.1 755.5 L568.2 755.5 L566.2 755.5 L564.3 755.5 L562.4 755.5 L560.4 755.5 L558.5 755.5 L556.6 755.5 L554.6 755.5 L552.7 755.5 L550.7 755.5 L548.8 755.5 L546.9 755.5 L544.9 755.5 L543.0 755.5 L541.1 755.4 L539.1 755.4 L537.2 755.4 L535.2 755.4 L533.3 755.4 L531.4 755.4 L529.4 755.4 L527.5 755.4 L525.5 755.4 L523.6 755.4 L521.7 755.4 L519.7 755.4 L517.8 755.4 L515.9 755.4 L513.9 755.4 L512.0 755.4 L510.0 755.4 L508.1 755.4 L506.2 755.4 L504.2 755.4 L502.3 755.4 L500.4 755.4 L498.4 755.4 L496.5 755.3 L494.5 755.3 L492.6 755.3 L490.7 755.3 L488.7 755.3 L486.8 755.3 L484.8 755.3 L482.9 755.3 L481.0 755.2 L479.0 755.2 L477.1 755.2 L475.2 755.2 L473.2 755.2 L471.3 755.1 L469.3 755.1 L467.4 755.1 L465.5 755.0 L463.5 755.0 L461.6 754.9 L459.7 754.9 L457.7 754.8 L455.8 754.8 L453.8 754.7 L451.9 754.6 L450.0 754.5 L448.0 754.4 L446.1 754.3 L444.1 754.2 L442.2 754.1 L440.3 753.9 L438.3 753.8 L436.4 753.6 L434.5 753.4 L432.5 753.2 L430.6 753.0 L428.6 752.7 L426.7 752.4 L424.8 752.2 L422.8 751.9 L420.9 751.6 L419.0 751.3 L417.0 751.0 L415.1 750.6 L413.1 750.3 L411.2 750.0 L409.3 749.7 L407.3 749.4 L405.4 749.1 L403.4 748.8 L401.5 748.5 L399.6 748.2 L397.6 748.0 L395.7 747.7 L393.8 747.5 L391.8 747.3 L389.9 747.1 L387.9 746.9 L386.0 746.7 L384.1 746.6 L382.1 746.4 L380.2 746.2 L378.3 746.1 L376.3 746.0 L374.4 745.8 L372.4 745.7 L370.5 745.6 L368.6 745.5 L366.6 745.4 L364.7 745.3 L362.7 745.2 L360.8 745.1 L358.9 745.0 L356.9 744.9 L355.0 744.8 L353.1 744.8 L351.1 744.7 L349.2 744.6 L347.2 744.5 L345.3 744.5 L343.4 744.4 L341.4 744.4 L339.5 744.3 L337.6 744.2 L335.6 744.2 L333.7 744.1 L331.7 744.1 L329.8 744.1 L327.9 744.0 L325.9 744.0 L324.0 743.9 L322.1 743.9 L320.1 743.9 L318.2 743.8 L316.2 743.8 L314.3 743.7 L312.4 743.7 L310.4 743.7 L308.5 743.6 L306.5 743.6 L304.6 743.6 L302.7 743.5 L300.7 743.5 L298.8 743.5 L296.9 743.4 L294.9 743.4 L293.0 743.4 L291.0 743.3 L289.1 743.3 L287.2 743.3 L285.2 743.2 L283.3 743.2 L281.4 743.2 L279.4 743.1 L277.5 743.1 L275.5 743.1 L273.6 743.0 L271.7 743.0 L269.7 743.0 L267.8 742.9 L265.8 742.9 L263.9 742.8 L262.0 742.8 L260.0 742.8 L258.1 742.7 L256.2 742.7 L254.2 742.7 L252.3 742.7 L250.3 742.6 L248.4 742.6 L246.5 742.6 L244.5 742.5 L242.6 742.5 L240.7 742.5 L238.7 742.5 L236.8 742.5 L234.8 742.4 L232.9 742.4 L231.0 742.4 L229.0 742.4 L227.1 742.4 L225.1 742.4 L223.2 742.3 L221.3 742.3 L219.3 742.3 L217.4 742.3 L215.5 742.3 L213.5 742.3 L211.6 742.3 L209.6 742.3 L207.7 742.3 L205.8 742.3 L203.8 742.3 L201.9 742.3 L200.0 742.3 L198.0 742.3 L196.1 742.3 L194.1 742.2 L192.2 742.2 L190.3 742.2 L188.3 742.2 L186.4 742.2 L184.4 742.2 L182.5 742.2 L180.6 742.2 L178.6 742.2 L176.7 742.2 L174.8 742.2 L172.8 742.2 L170.9 742.2 L168.9 742.2 L167.0 742.2 L165.1 742.2 L163.1 742.2 L161.2 742.2 L159.3 742.2 L157.3 742.2 L155.4 742.2 L153.4 742.2 L151.5 742.2 L149.6 742.2 L147.6 742.2 L145.7 742.2 L143.7 742.2 L141.8 742.2 L139.9 742.2 L137.9 742.2 L136.0 742.2 L134.1 742.2 L132.1 742.2 L130.2 742.2 L128.2 742.2 L126.3 742.2 L124.4 742.2 L122.4 742.2 L120.5 742.2 L118.6 742.2 L116.6 742.2 L114.7 742.2 L112.7 742.2 L110.8 742.2Z" fill="#ffd83c" fill-opacity="0.54"/>
<path d="M110.8 741.8 L114.1 741.6 L117.4 742.5 L120.7 740.9 L124.0 742.4 L127.3 741.9 L130.7 741.3 L134.0 742.1 L137.3 741.9 L140.6 741.9 L143.9 741.2 L147.2 740.4 L150.5 741.4 L153.8 741.8 L157.1 741.1 L160.4 741.5 L163.7 741.2 L167.0 740.6 L170.4 741.4 L173.7 741.0 L177.0 741.2 L180.3 740.7 L183.6 740.4 L186.9 740.7 L190.2 740.1 L193.5 739.6 L196.8 739.3 L200.1 739.0 L203.4 738.3 L206.7 736.9 L210.1 735.9 L213.4 733.7 L216.7 734.4 L220.0 731.7 L223.3 729.9 L226.6 727.6 L229.9 726.0 L233.2 724.6 L236.5 722.0 L239.8 719.6 L243.1 717.8 L246.5 715.3 L249.8 714.5 L253.1 711.1 L256.4 709.6 L259.7 709.1 L263.0 707.6 L266.3 707.0 L269.6 706.9 L272.9 706.1 L276.2 705.6 L279.5 706.2 L282.8 706.4 L286.2 706.5 L289.5 706.5 L292.8 706.4 L296.1 707.5 L299.4 707.2 L302.7 707.4 L306.0 708.3 L309.3 707.5 L312.6 707.0 L315.9 706.2 L319.2 705.0 L322.5 704.7 L325.9 701.8 L329.2 699.7 L332.5 697.1 L335.8 692.7 L339.1 688.4 L342.4 684.3 L345.7 678.5 L349.0 673.4 L352.3 667.2 L355.6 661.5 L358.9 653.8 L362.3 648.8 L365.6 640.4 L368.9 632.2 L372.2 624.6 L375.5 613.7 L378.8 601.8 L382.1 587.5 L385.4 571.0 L388.7 553.0 L392.0 532.5 L395.3 508.6 L398.6 485.4 L402.0 463.5 L405.3 442.9 L408.6 426.8 L411.9 416.5 L415.2 413.8 L418.5 418.5 L421.8 432.9 L425.1 451.6 L428.4 476.9 L431.7 505.5 L435.0 534.8 L438.3 566.1 L441.7 592.8 L445.0 619.0 L448.3 642.5 L451.6 661.5 L454.9 678.2 L458.2 690.4 L461.5 701.6 L464.8 710.9 L468.1 718.3 L471.4 723.9 L474.7 728.3 L478.1 732.1 L481.4 735.5 L484.7 738.1 L488.0 740.3 L491.3 742.4 L494.6 744.3 L497.9 746.0 L501.2 745.8 L504.5 748.7 L507.8 749.5 L511.1 749.7 L514.4 750.7 L517.8 751.0 L521.1 751.3 L524.4 751.5 L527.7 752.0 L531.0 753.1 L534.3 752.3 L537.6 753.8 L540.9 753.2 L544.2 753.5 L547.5 753.9 L550.8 753.3 L554.1 753.7 L557.5 753.3 L560.8 754.5 L564.1 753.5 L567.4 753.7 L570.7 754.0 L574.0 754.7" fill="none" stroke="#707070" stroke-width="2" stroke-dasharray="4.2 3.6" stroke-linejoin="round"/>
<path d="M110.8 741.6 L112.7 741.6 L114.7 741.6 L116.6 741.6 L118.6 741.6 L120.5 741.6 L122.4 741.6 L124.4 741.6 L126.3 741.5 L128.2 741.5 L130.2 741.5 L132.1 741.5 L134.1 741.5 L136.0 741.5 L137.9 741.5 L139.9 741.5 L141.8 741.4 L143.7 741.4 L145.7 741.4 L147.6 741.4 L149.6 741.4 L151.5 741.4 L153.4 741.3 L155.4 741.3 L157.3 741.3 L159.3 741.3 L161.2 741.2 L163.1 741.2 L165.1 741.2 L167.0 741.1 L168.9 741.1 L170.9 741.0 L172.8 741.0 L174.8 740.9 L176.7 740.8 L178.6 740.8 L180.6 740.7 L182.5 740.5 L184.4 740.4 L186.4 740.3 L188.3 740.1 L190.3 739.9 L192.2 739.7 L194.1 739.4 L196.1 739.1 L198.0 738.8 L200.0 738.5 L201.9 738.1 L203.8 737.6 L205.8 737.1 L207.7 736.6 L209.6 736.0 L211.6 735.3 L213.5 734.6 L215.5 733.8 L217.4 733.0 L219.3 732.1 L221.3 731.1 L223.2 730.1 L225.1 729.1 L227.1 728.0 L229.0 726.8 L231.0 725.6 L232.9 724.4 L234.8 723.1 L236.8 721.9 L238.7 720.6 L240.7 719.3 L242.6 718.1 L244.5 716.8 L246.5 715.6 L248.4 714.4 L250.3 713.3 L252.3 712.3 L254.2 711.3 L256.2 710.4 L258.1 709.6 L260.0 708.8 L262.0 708.2 L263.9 707.6 L265.8 707.2 L267.8 706.8 L269.7 706.5 L271.7 706.3 L273.6 706.1 L275.5 706.0 L277.5 706.0 L279.4 706.0 L281.4 706.1 L283.3 706.2 L285.2 706.3 L287.2 706.5 L289.1 706.7 L291.0 706.8 L293.0 707.0 L294.9 707.1 L296.9 707.3 L298.8 707.4 L300.7 707.5 L302.7 707.5 L304.6 707.5 L306.5 707.5 L308.5 707.4 L310.4 707.2 L312.4 706.9 L314.3 706.6 L316.2 706.1 L318.2 705.6 L320.1 704.9 L322.1 704.0 L324.0 703.0 L325.9 701.8 L327.9 700.5 L329.8 698.9 L331.7 697.2 L333.7 695.2 L335.6 693.1 L337.6 690.7 L339.5 688.2 L341.4 685.5 L343.4 682.6 L345.3 679.5 L347.2 676.3 L349.2 673.0 L351.1 669.5 L353.1 665.9 L355.0 662.2 L356.9 658.5 L358.9 654.6 L360.8 650.6 L362.7 646.5 L364.7 642.3 L366.6 637.9 L368.6 633.2 L370.5 628.3 L372.4 622.9 L374.4 617.1 L376.3 610.8 L378.3 603.9 L380.2 596.2 L382.1 587.8 L384.1 578.5 L386.0 568.4 L387.9 557.4 L389.9 545.7 L391.8 533.2 L393.8 520.2 L395.7 506.7 L397.6 493.0 L399.6 479.4 L401.5 466.3 L403.4 453.8 L405.4 442.4 L407.3 432.4 L409.3 424.3 L411.2 418.3 L413.1 414.8 L415.1 413.9 L417.0 415.8 L419.0 420.5 L420.9 427.8 L422.8 437.6 L424.8 449.7 L426.7 463.5 L428.6 478.9 L430.6 495.3 L432.5 512.5 L434.5 530.0 L436.4 547.6 L438.3 564.9 L440.3 581.7 L442.2 597.8 L444.1 613.0 L446.1 627.3 L448.0 640.4 L450.0 652.5 L451.9 663.4 L453.8 673.2 L455.8 682.0 L457.7 689.8 L459.7 696.6 L461.6 702.6 L463.5 707.9 L465.5 712.6 L467.4 716.6 L469.3 720.2 L471.3 723.4 L473.2 726.2 L475.2 728.6 L477.1 730.9 L479.0 732.9 L481.0 734.7 L482.9 736.4 L484.8 737.9 L486.8 739.3 L488.7 740.6 L490.7 741.8 L492.6 743.0 L494.5 744.0 L496.5 744.9 L498.4 745.8 L500.4 746.6 L502.3 747.3 L504.2 748.0 L506.2 748.6 L508.1 749.1 L510.0 749.6 L512.0 750.1 L513.9 750.5 L515.9 750.8 L517.8 751.2 L519.7 751.5 L521.7 751.7 L523.6 751.9 L525.5 752.1 L527.5 752.3 L529.4 752.5 L531.4 752.6 L533.3 752.8 L535.2 752.9 L537.2 753.0 L539.1 753.1 L541.1 753.2 L543.0 753.3 L544.9 753.3 L546.9 753.4 L548.8 753.5 L550.7 753.5 L552.7 753.6 L554.6 753.7 L556.6 753.7 L558.5 753.8 L560.4 753.8 L562.4 753.9 L564.3 753.9 L566.2 753.9 L568.2 754.0 L570.1 754.0 L572.1 754.0 L574.0 754.1" fill="none" stroke="#f54545" stroke-opacity="0.78" stroke-width="2.3" stroke-linejoin="round"/>
<path d="M110.8 742.2 L112.7 742.2 L114.7 742.2 L116.6 742.2 L118.6 742.2 L120.5 742.2 L122.4 742.2 L124.4 742.2 L126.3 742.2 L128.2 742.2 L130.2 742.2 L132.1 742.2 L134.1 742.2 L136.0 742.2 L137.9 742.2 L139.9 742.2 L141.8 742.2 L143.7 742.2 L145.7 742.2 L147.6 742.2 L149.6 742.2 L151.5 742.2 L153.4 742.2 L155.4 742.2 L157.3 742.2 L159.3 742.2 L161.2 742.2 L163.1 742.2 L165.1 742.2 L167.0 742.2 L168.9 742.2 L170.9 742.2 L172.8 742.2 L174.8 742.2 L176.7 742.2 L178.6 742.2 L180.6 742.2 L182.5 742.2 L184.4 742.2 L186.4 742.2 L188.3 742.2 L190.3 742.2 L192.2 742.2 L194.1 742.2 L196.1 742.3 L198.0 742.3 L200.0 742.3 L201.9 742.3 L203.8 742.3 L205.8 742.3 L207.7 742.3 L209.6 742.3 L211.6 742.3 L213.5 742.3 L215.5 742.3 L217.4 742.3 L219.3 742.3 L221.3 742.3 L223.2 742.3 L225.1 742.4 L227.1 742.4 L229.0 742.4 L231.0 742.4 L232.9 742.4 L234.8 742.4 L236.8 742.5 L238.7 742.5 L240.7 742.5 L242.6 742.5 L244.5 742.5 L246.5 742.6 L248.4 742.6 L250.3 742.6 L252.3 742.7 L254.2 742.7 L256.2 742.7 L258.1 742.7 L260.0 742.8 L262.0 742.8 L263.9 742.8 L265.8 742.9 L267.8 742.9 L269.7 743.0 L271.7 743.0 L273.6 743.0 L275.5 743.1 L277.5 743.1 L279.4 743.1 L281.4 743.2 L283.3 743.2 L285.2 743.2 L287.2 743.3 L289.1 743.3 L291.0 743.3 L293.0 743.4 L294.9 743.4 L296.9 743.4 L298.8 743.5 L300.7 743.5 L302.7 743.5 L304.6 743.6 L306.5 743.6 L308.5 743.6 L310.4 743.7 L312.4 743.7 L314.3 743.7 L316.2 743.8 L318.2 743.8 L320.1 743.9 L322.1 743.9 L324.0 743.9 L325.9 744.0 L327.9 744.0 L329.8 744.1 L331.7 744.1 L333.7 744.1 L335.6 744.2 L337.6 744.2 L339.5 744.3 L341.4 744.4 L343.4 744.4 L345.3 744.5 L347.2 744.5 L349.2 744.6 L351.1 744.7 L353.1 744.8 L355.0 744.8 L356.9 744.9 L358.9 745.0 L360.8 745.1 L362.7 745.2 L364.7 745.3 L366.6 745.4 L368.6 745.5 L370.5 745.6 L372.4 745.7 L374.4 745.8 L376.3 746.0 L378.3 746.1 L380.2 746.2 L382.1 746.4 L384.1 746.6 L386.0 746.7 L387.9 746.9 L389.9 747.1 L391.8 747.3 L393.8 747.5 L395.7 747.7 L397.6 748.0 L399.6 748.2 L401.5 748.5 L403.4 748.8 L405.4 749.1 L407.3 749.4 L409.3 749.7 L411.2 750.0 L413.1 750.3 L415.1 750.6 L417.0 751.0 L419.0 751.3 L420.9 751.6 L422.8 751.9 L424.8 752.2 L426.7 752.4 L428.6 752.7 L430.6 753.0 L432.5 753.2 L434.5 753.4 L436.4 753.6 L438.3 753.8 L440.3 753.9 L442.2 754.1 L444.1 754.2 L446.1 754.3 L448.0 754.4 L450.0 754.5 L451.9 754.6 L453.8 754.7 L455.8 754.8 L457.7 754.8 L459.7 754.9 L461.6 754.9 L463.5 755.0 L465.5 755.0 L467.4 755.1 L469.3 755.1 L471.3 755.1 L473.2 755.2 L475.2 755.2 L477.1 755.2 L479.0 755.2 L481.0 755.2 L482.9 755.3 L484.8 755.3 L486.8 755.3 L488.7 755.3 L490.7 755.3 L492.6 755.3 L494.5 755.3 L496.5 755.3 L498.4 755.4 L500.4 755.4 L502.3 755.4 L504.2 755.4 L506.2 755.4 L508.1 755.4 L510.0 755.4 L512.0 755.4 L513.9 755.4 L515.9 755.4 L517.8 755.4 L519.7 755.4 L521.7 755.4 L523.6 755.4 L525.5 755.4 L527.5 755.4 L529.4 755.4 L531.4 755.4 L533.3 755.4 L535.2 755.4 L537.2 755.4 L539.1 755.4 L541.1 755.4 L543.0 755.5 L544.9 755.5 L546.9 755.5 L548.8 755.5 L550.7 755.5 L552.7 755.5 L554.6 755.5 L556.6 755.5 L558.5 755.5 L560.4 755.5 L562.4 755.5 L564.3 755.5 L566.2 755.5 L568.2 755.5 L570.1 755.5 L572.1 755.5 L574.0 755.5" fill="none" stroke="#7f7f7f" stroke-width="2.2"/>
</g>
<clipPath id="clipb0"><rect x="730.2" y="55.0" width="464.0" height="354.0"/></clipPath>
<g clip-path="url(#clipb0)">
<path d="M765.9 256.8 L767.4 256.8 L768.9 256.8 L770.4 256.7 L771.9 256.7 L773.4 256.6 L774.9 256.6 L776.3 256.5 L777.8 256.5 L779.3 256.4 L780.8 256.4 L782.3 256.3 L783.8 256.2 L785.3 256.2 L786.8 256.1 L788.3 256.0 L789.8 255.9 L791.3 255.9 L792.8 255.8 L794.3 255.7 L795.8 255.6 L797.3 255.5 L798.7 255.4 L800.2 255.3 L801.7 255.2 L803.2 255.1 L804.7 255.0 L806.2 254.9 L807.7 254.8 L809.2 254.7 L810.7 254.6 L812.2 254.5 L813.7 254.3 L815.2 254.2 L816.7 254.1 L818.2 253.9 L819.7 253.8 L821.1 253.6 L822.6 253.5 L824.1 253.3 L825.6 253.2 L827.1 253.0 L828.6 252.9 L830.1 252.7 L831.6 252.5 L833.1 252.4 L834.6 252.2 L836.1 252.0 L837.6 251.8 L839.1 251.6 L840.6 251.5 L842.1 251.3 L843.5 251.1 L845.0 250.9 L846.5 250.7 L848.0 250.5 L849.5 250.3 L851.0 250.1 L852.5 249.8 L854.0 249.6 L855.5 249.4 L857.0 249.2 L858.5 249.0 L860.0 248.8 L861.5 248.6 L863.0 248.3 L864.5 248.1 L866.0 247.9 L867.4 247.7 L868.9 247.5 L870.4 247.3 L871.9 247.0 L873.4 246.8 L874.9 246.6 L876.4 246.4 L877.9 246.2 L879.4 246.0 L880.9 245.8 L882.4 245.6 L883.9 245.4 L885.4 245.2 L886.9 245.0 L888.4 244.8 L889.8 244.6 L891.3 244.4 L892.8 244.2 L894.3 244.0 L895.8 243.9 L897.3 243.7 L898.8 243.6 L900.3 243.4 L901.8 243.3 L903.3 243.1 L904.8 243.0 L906.3 242.9 L907.8 242.7 L909.3 242.6 L910.8 242.5 L912.2 242.4 L913.7 242.4 L915.2 242.3 L916.7 242.2 L918.2 242.2 L919.7 242.1 L921.2 242.1 L922.7 242.0 L924.2 242.0 L925.7 242.0 L927.2 242.0 L928.7 242.0 L930.2 242.0 L931.7 242.1 L933.2 242.1 L934.6 242.2 L936.1 242.2 L937.6 242.3 L939.1 242.4 L940.6 242.5 L942.1 242.6 L943.6 242.7 L945.1 242.8 L946.6 243.0 L948.1 243.1 L949.6 243.3 L951.1 243.4 L952.6 243.6 L954.1 243.8 L955.6 244.0 L957.0 244.2 L958.5 244.4 L960.0 244.6 L961.5 244.8 L963.0 245.0 L964.5 245.3 L966.0 245.5 L967.5 245.8 L969.0 246.0 L970.5 246.3 L972.0 246.6 L973.5 246.8 L975.0 247.1 L976.5 247.4 L978.0 247.7 L979.4 248.0 L980.9 248.3 L982.4 248.6 L983.9 248.9 L985.4 249.2 L986.9 249.5 L988.4 249.8 L989.9 250.1 L991.4 250.4 L992.9 250.7 L994.4 251.0 L995.9 251.3 L997.4 251.6 L998.9 252.0 L1000.4 252.3 L1001.8 252.6 L1003.3 252.9 L1004.8 253.2 L1006.3 253.5 L1007.8 253.8 L1009.3 254.1 L1010.8 254.4 L1012.3 254.7 L1013.8 255.0 L1015.3 255.3 L1016.8 255.6 L1018.3 255.9 L1019.8 256.2 L1021.3 256.5 L1022.8 256.7 L1024.3 257.0 L1025.7 257.3 L1027.2 257.5 L1028.7 257.8 L1030.2 258.1 L1031.7 258.3 L1033.2 258.6 L1034.7 258.8 L1036.2 259.0 L1037.7 259.3 L1039.2 259.5 L1040.7 259.7 L1042.2 259.9 L1043.7 260.2 L1045.2 260.4 L1046.7 260.6 L1048.1 260.8 L1049.6 261.0 L1051.1 261.2 L1052.6 261.3 L1054.1 261.5 L1055.6 261.7 L1057.1 261.9 L1058.6 262.0 L1060.1 262.2 L1061.6 262.4 L1063.1 262.5 L1064.6 262.7 L1066.1 262.8 L1067.6 262.9 L1069.1 263.1 L1070.5 263.2 L1072.0 263.3 L1073.5 263.5 L1075.0 263.6 L1076.5 263.7 L1078.0 263.8 L1079.5 263.9 L1081.0 264.0 L1082.5 264.1 L1084.0 264.2 L1085.5 264.3 L1087.0 264.4 L1088.5 264.5 L1090.0 264.5 L1091.5 264.6 L1092.9 264.7 L1094.4 264.8 L1095.9 264.8 L1097.4 264.9 L1098.9 265.0 L1100.4 265.0 L1101.9 265.1 L1103.4 265.1 L1104.9 265.2 L1106.4 265.2 L1107.9 265.3 L1109.4 265.3 L1110.9 265.4 L1112.4 265.4 L1113.9 265.5 L1115.3 265.5 L1116.8 265.5 L1118.3 265.6 L1119.8 265.6 L1121.3 265.6 L1122.8 265.7 L1122.8 266.3 L1121.3 266.3 L1119.8 266.3 L1118.3 266.3 L1116.8 266.3 L1115.3 266.3 L1113.9 266.3 L1112.4 266.3 L1110.9 266.3 L1109.4 266.3 L1107.9 266.3 L1106.4 266.3 L1104.9 266.3 L1103.4 266.3 L1101.9 266.3 L1100.4 266.3 L1098.9 266.3 L1097.4 266.3 L1095.9 266.3 L1094.4 266.3 L1092.9 266.3 L1091.5 266.3 L1090.0 266.2 L1088.5 266.2 L1087.0 266.2 L1085.5 266.2 L1084.0 266.2 L1082.5 266.2 L1081.0 266.2 L1079.5 266.2 L1078.0 266.2 L1076.5 266.2 L1075.0 266.2 L1073.5 266.2 L1072.0 266.1 L1070.5 266.1 L1069.1 266.1 L1067.6 266.1 L1066.1 266.1 L1064.6 266.1 L1063.1 266.1 L1061.6 266.1 L1060.1 266.0 L1058.6 266.0 L1057.1 266.0 L1055.6 266.0 L1054.1 266.0 L1052.6 266.0 L1051.1 266.0 L1049.6 265.9 L1048.1 265.9 L1046.7 265.9 L1045.2 265.9 L1043.7 265.9 L1042.2 265.8 L1040.7 265.8 L1039.2 265.8 L1037.7 265.8 L1036.2 265.7 L1034.7 265.7 L1033.2 265.7 L1031.7 265.7 L1030.2 265.6 L1028.7 265.6 L1027.2 265.6 L1025.7 265.5 L1024.3 265.5 L1022.8 265.5 L1021.3 265.4 L1019.8 265.4 L1018.3 265.4 L1016.8 265.3 L1015.3 265.3 L1013.8 265.3 L1012.3 265.2 L1010.8 265.2 L1009.3 265.1 L1007.8 265.1 L1006.3 265.1 L1004.8 265.0 L1003.3 265.0 L1001.8 264.9 L1000.4 264.9 L998.9 264.8 L997.4 264.8 L995.9 264.7 L994.4 264.7 L992.9 264.6 L991.4 264.6 L989.9 264.5 L988.4 264.5 L986.9 264.4 L985.4 264.3 L983.9 264.3 L982.4 264.2 L980.9 264.2 L979.4 264.1 L978.0 264.0 L976.5 264.0 L975.0 263.9 L973.5 263.9 L972.0 263.8 L970.5 263.7 L969.0 263.7 L967.5 263.6 L966.0 263.5 L964.5 263.5 L963.0 263.4 L961.5 263.3 L960.0 263.2 L958.5 263.2 L957.0 263.1 L955.6 263.0 L954.1 263.0 L952.6 262.9 L951.1 262.8 L949.6 262.7 L948.1 262.7 L946.6 262.6 L945.1 262.5 L943.6 262.4 L942.1 262.4 L940.6 262.3 L939.1 262.2 L937.6 262.1 L936.1 262.1 L934.6 262.0 L933.2 261.9 L931.7 261.8 L930.2 261.8 L928.7 261.7 L927.2 261.6 L925.7 261.5 L924.2 261.5 L922.7 261.4 L921.2 261.3 L919.7 261.2 L918.2 261.2 L916.7 261.1 L915.2 261.0 L913.7 260.9 L912.2 260.9 L910.8 260.8 L909.3 260.7 L907.8 260.7 L906.3 260.6 L904.8 260.5 L903.3 260.5 L901.8 260.4 L900.3 260.3 L898.8 260.3 L897.3 260.2 L895.8 260.1 L894.3 260.1 L892.8 260.0 L891.3 260.0 L889.8 259.9 L888.4 259.8 L886.9 259.8 L885.4 259.7 L883.9 259.7 L882.4 259.6 L880.9 259.6 L879.4 259.5 L877.9 259.5 L876.4 259.4 L874.9 259.4 L873.4 259.3 L871.9 259.3 L870.4 259.2 L868.9 259.2 L867.4 259.1 L866.0 259.1 L864.5 259.0 L863.0 259.0 L861.5 259.0 L860.0 258.9 L858.5 258.9 L857.0 258.8 L855.5 258.8 L854.0 258.8 L852.5 258.7 L851.0 258.7 L849.5 258.7 L848.0 258.6 L846.5 258.6 L845.0 258.6 L843.5 258.5 L842.1 258.5 L840.6 258.5 L839.1 258.5 L837.6 258.4 L836.1 258.4 L834.6 258.4 L833.1 258.4 L831.6 258.3 L830.1 258.3 L828.6 258.3 L827.1 258.3 L825.6 258.2 L824.1 258.2 L822.6 258.2 L821.1 258.2 L819.7 258.2 L818.2 258.2 L816.7 258.1 L815.2 258.1 L813.7 258.1 L812.2 258.1 L810.7 258.1 L809.2 258.1 L807.7 258.1 L806.2 258.0 L804.7 258.0 L803.2 258.0 L801.7 258.0 L800.2 258.0 L798.7 258.0 L797.3 258.0 L795.8 258.0 L794.3 258.0 L792.8 258.0 L791.3 257.9 L789.8 257.9 L788.3 257.9 L786.8 257.9 L785.3 257.9 L783.8 257.9 L782.3 257.9 L780.8 257.9 L779.3 257.9 L777.8 257.9 L776.3 257.9 L774.9 257.9 L773.4 257.9 L771.9 257.9 L770.4 257.9 L768.9 257.9 L767.4 257.8 L765.9 257.8Z" fill="#9ee49e" fill-opacity="0.50"/>
<path d="M730.2 253.0 L733.8 256.3 L737.3 257.1 L740.9 262.0 L744.5 258.0 L748.0 258.1 L751.6 257.4 L755.2 258.7 L758.8 257.1 L762.3 258.1 L765.9 260.1 L769.5 254.6 L773.0 254.5 L776.6 252.3 L780.2 256.3 L783.7 257.2 L787.3 257.4 L790.9 259.7 L794.4 253.3 L798.0 258.2 L801.6 258.2 L805.2 255.5 L808.7 251.1 L812.3 253.9 L815.9 256.7 L819.4 255.6 L823.0 251.9 L826.6 253.5 L830.1 254.6 L833.7 252.9 L837.3 250.0 L840.8 246.5 L844.4 254.0 L848.0 252.0 L851.6 252.0 L855.1 255.5 L858.7 251.3 L862.3 251.0 L865.8 245.1 L869.4 247.7 L873.0 250.9 L876.5 244.8 L880.1 246.8 L883.7 249.7 L887.2 246.4 L890.8 245.9 L894.4 246.2 L898.0 243.6 L901.5 248.9 L905.1 243.6 L908.7 240.2 L912.2 240.3 L915.8 239.5 L919.4 239.3 L922.9 238.4 L926.5 244.8 L930.1 239.9 L933.6 246.7 L937.2 243.8 L940.8 247.2 L944.4 240.2 L947.9 239.8 L951.5 244.0 L955.1 239.5 L958.6 246.1 L962.2 244.5 L965.8 245.1 L969.3 248.7 L972.9 245.6 L976.5 242.6 L980.0 250.6 L983.6 246.6 L987.2 249.9 L990.8 245.9 L994.3 249.8 L997.9 250.1 L1001.5 250.9 L1005.0 252.6 L1008.6 257.4 L1012.2 251.2 L1015.7 258.8 L1019.3 255.5 L1022.9 255.2 L1026.4 259.5 L1030.0 257.7 L1033.6 255.7 L1037.2 259.3 L1040.7 261.9 L1044.3 267.5 L1047.9 263.1 L1051.4 262.7 L1055.0 262.9 L1058.6 264.4 L1062.1 261.5 L1065.7 264.2 L1069.3 263.4 L1072.8 261.7 L1076.4 265.8 L1080.0 264.7 L1083.6 258.8 L1087.1 262.2 L1090.7 267.8 L1094.3 265.0 L1097.8 263.5 L1101.4 262.0 L1105.0 264.8 L1108.5 266.6 L1112.1 267.2 L1115.7 263.9 L1119.2 264.8 L1122.8 266.9 L1126.4 266.2 L1130.0 266.8 L1133.5 264.0 L1137.1 267.6 L1140.7 264.7 L1144.2 263.8 L1147.8 264.8 L1151.4 268.1 L1154.9 262.7 L1158.5 267.7 L1162.1 265.0 L1165.6 267.9 L1169.2 270.4 L1172.8 265.5 L1176.4 265.4 L1179.9 266.3 L1183.5 265.5 L1187.1 267.8 L1190.6 268.0 L1194.2 266.6" fill="none" stroke="#707070" stroke-width="2" stroke-dasharray="4.2 3.6" stroke-linejoin="round"/>
<path d="M765.9 256.8 L767.4 256.8 L768.9 256.8 L770.4 256.7 L771.9 256.7 L773.4 256.6 L774.9 256.6 L776.3 256.5 L777.8 256.5 L779.3 256.4 L780.8 256.4 L782.3 256.3 L783.8 256.2 L785.3 256.2 L786.8 256.1 L788.3 256.0 L789.8 255.9 L791.3 255.9 L792.8 255.8 L794.3 255.7 L795.8 255.6 L797.3 255.5 L798.7 255.4 L800.2 255.3 L801.7 255.2 L803.2 255.1 L804.7 255.0 L806.2 254.9 L807.7 254.8 L809.2 254.7 L810.7 254.6 L812.2 254.5 L813.7 254.3 L815.2 254.2 L816.7 254.1 L818.2 253.9 L819.7 253.8 L821.1 253.6 L822.6 253.5 L824.1 253.3 L825.6 253.2 L827.1 253.0 L828.6 252.9 L830.1 252.7 L831.6 252.5 L833.1 252.4 L834.6 252.2 L836.1 252.0 L837.6 251.8 L839.1 251.6 L840.6 251.5 L842.1 251.3 L843.5 251.1 L845.0 250.9 L846.5 250.7 L848.0 250.5 L849.5 250.3 L851.0 250.1 L852.5 249.8 L854.0 249.6 L855.5 249.4 L857.0 249.2 L858.5 249.0 L860.0 248.8 L861.5 248.6 L863.0 248.3 L864.5 248.1 L866.0 247.9 L867.4 247.7 L868.9 247.5 L870.4 247.3 L871.9 247.0 L873.4 246.8 L874.9 246.6 L876.4 246.4 L877.9 246.2 L879.4 246.0 L880.9 245.8 L882.4 245.6 L883.9 245.4 L885.4 245.2 L886.9 245.0 L888.4 244.8 L889.8 244.6 L891.3 244.4 L892.8 244.2 L894.3 244.0 L895.8 243.9 L897.3 243.7 L898.8 243.6 L900.3 243.4 L901.8 243.3 L903.3 243.1 L904.8 243.0 L906.3 242.9 L907.8 242.7 L909.3 242.6 L910.8 242.5 L912.2 242.4 L913.7 242.4 L915.2 242.3 L916.7 242.2 L918.2 242.2 L919.7 242.1 L921.2 242.1 L922.7 242.0 L924.2 242.0 L925.7 242.0 L927.2 242.0 L928.7 242.0 L930.2 242.0 L931.7 242.1 L933.2 242.1 L934.6 242.2 L936.1 242.2 L937.6 242.3 L939.1 242.4 L940.6 242.5 L942.1 242.6 L943.6 242.7 L945.1 242.8 L946.6 243.0 L948.1 243.1 L949.6 243.3 L951.1 243.4 L952.6 243.6 L954.1 243.8 L955.6 244.0 L957.0 244.2 L958.5 244.4 L960.0 244.6 L961.5 244.8 L963.0 245.0 L964.5 245.3 L966.0 245.5 L967.5 245.8 L969.0 246.0 L970.5 246.3 L972.0 246.6 L973.5 246.8 L975.0 247.1 L976.5 247.4 L978.0 247.7 L979.4 248.0 L980.9 248.3 L982.4 248.6 L983.9 248.9 L985.4 249.2 L986.9 249.5 L988.4 249.8 L989.9 250.1 L991.4 250.4 L992.9 250.7 L994.4 251.0 L995.9 251.3 L997.4 251.6 L998.9 252.0 L1000.4 252.3 L1001.8 252.6 L1003.3 252.9 L1004.8 253.2 L1006.3 253.5 L1007.8 253.8 L1009.3 254.1 L1010.8 254.4 L1012.3 254.7 L1013.8 255.0 L1015.3 255.3 L1016.8 255.6 L1018.3 255.9 L1019.8 256.2 L1021.3 256.5 L1022.8 256.7 L1024.3 257.0 L1025.7 257.3 L1027.2 257.5 L1028.7 257.8 L1030.2 258.1 L1031.7 258.3 L1033.2 258.6 L1034.7 258.8 L1036.2 259.0 L1037.7 259.3 L1039.2 259.5 L1040.7 259.7 L1042.2 259.9 L1043.7 260.2 L1045.2 260.4 L1046.7 260.6 L1048.1 260.8 L1049.6 261.0 L1051.1 261.2 L1052.6 261.3 L1054.1 261.5 L1055.6 261.7 L1057.1 261.9 L1058.6 262.0 L1060.1 262.2 L1061.6 262.4 L1063.1 262.5 L1064.6 262.7 L1066.1 262.8 L1067.6 262.9 L1069.1 263.1 L1070.5 263.2 L1072.0 263.3 L1073.5 263.5 L1075.0 263.6 L1076.5 263.7 L1078.0 263.8 L1079.5 263.9 L1081.0 264.0 L1082.5 264.1 L1084.0 264.2 L1085.5 264.3 L1087.0 264.4 L1088.5 264.5 L1090.0 264.5 L1091.5 264.6 L1092.9 264.7 L1094.4 264.8 L1095.9 264.8 L1097.4 264.9 L1098.9 265.0 L1100.4 265.0 L1101.9 265.1 L1103.4 265.1 L1104.9 265.2 L1106.4 265.2 L1107.9 265.3 L1109.4 265.3 L1110.9 265.4 L1112.4 265.4 L1113.9 265.5 L1115.3 265.5 L1116.8 265.5 L1118.3 265.6 L1119.8 265.6 L1121.3 265.6 L1122.8 265.7" fill="none" stroke="#f54545" stroke-opacity="0.78" stroke-width="2.3" stroke-linejoin="round"/>
<path d="M765.9 257.8 L767.4 257.8 L768.9 257.9 L770.4 257.9 L771.9 257.9 L773.4 257.9 L774.9 257.9 L776.3 257.9 L777.8 257.9 L779.3 257.9 L780.8 257.9 L782.3 257.9 L783.8 257.9 L785.3 257.9 L786.8 257.9 L788.3 257.9 L789.8 257.9 L791.3 257.9 L792.8 258.0 L794.3 258.0 L795.8 258.0 L797.3 258.0 L798.7 258.0 L800.2 258.0 L801.7 258.0 L803.2 258.0 L804.7 258.0 L806.2 258.0 L807.7 258.1 L809.2 258.1 L810.7 258.1 L812.2 258.1 L813.7 258.1 L815.2 258.1 L816.7 258.1 L818.2 258.2 L819.7 258.2 L821.1 258.2 L822.6 258.2 L824.1 258.2 L825.6 258.2 L827.1 258.3 L828.6 258.3 L830.1 258.3 L831.6 258.3 L833.1 258.4 L834.6 258.4 L836.1 258.4 L837.6 258.4 L839.1 258.5 L840.6 258.5 L842.1 258.5 L843.5 258.5 L845.0 258.6 L846.5 258.6 L848.0 258.6 L849.5 258.7 L851.0 258.7 L852.5 258.7 L854.0 258.8 L855.5 258.8 L857.0 258.8 L858.5 258.9 L860.0 258.9 L861.5 259.0 L863.0 259.0 L864.5 259.0 L866.0 259.1 L867.4 259.1 L868.9 259.2 L870.4 259.2 L871.9 259.3 L873.4 259.3 L874.9 259.4 L876.4 259.4 L877.9 259.5 L879.4 259.5 L880.9 259.6 L882.4 259.6 L883.9 259.7 L885.4 259.7 L886.9 259.8 L888.4 259.8 L889.8 259.9 L891.3 260.0 L892.8 260.0 L894.3 260.1 L895.8 260.1 L897.3 260.2 L898.8 260.3 L900.3 260.3 L901.8 260.4 L903.3 260.5 L904.8 260.5 L906.3 260.6 L907.8 260.7 L909.3 260.7 L910.8 260.8 L912.2 260.9 L913.7 260.9 L915.2 261.0 L916.7 261.1 L918.2 261.2 L919.7 261.2 L921.2 261.3 L922.7 261.4 L924.2 261.5 L925.7 261.5 L927.2 261.6 L928.7 261.7 L930.2 261.8 L931.7 261.8 L933.2 261.9 L934.6 262.0 L936.1 262.1 L937.6 262.1 L939.1 262.2 L940.6 262.3 L942.1 262.4 L943.6 262.4 L945.1 262.5 L946.6 262.6 L948.1 262.7 L949.6 262.7 L951.1 262.8 L952.6 262.9 L954.1 263.0 L955.6 263.0 L957.0 263.1 L958.5 263.2 L960.0 263.2 L961.5 263.3 L963.0 263.4 L964.5 263.5 L966.0 263.5 L967.5 263.6 L969.0 263.7 L970.5 263.7 L972.0 263.8 L973.5 263.9 L975.0 263.9 L976.5 264.0 L978.0 264.0 L979.4 264.1 L980.9 264.2 L982.4 264.2 L983.9 264.3 L985.4 264.3 L986.9 264.4 L988.4 264.5 L989.9 264.5 L991.4 264.6 L992.9 264.6 L994.4 264.7 L995.9 264.7 L997.4 264.8 L998.9 264.8 L1000.4 264.9 L1001.8 264.9 L1003.3 265.0 L1004.8 265.0 L1006.3 265.1 L1007.8 265.1 L1009.3 265.1 L1010.8 265.2 L1012.3 265.2 L1013.8 265.3 L1015.3 265.3 L1016.8 265.3 L1018.3 265.4 L1019.8 265.4 L1021.3 265.4 L1022.8 265.5 L1024.3 265.5 L1025.7 265.5 L1027.2 265.6 L1028.7 265.6 L1030.2 265.6 L1031.7 265.7 L1033.2 265.7 L1034.7 265.7 L1036.2 265.7 L1037.7 265.8 L1039.2 265.8 L1040.7 265.8 L1042.2 265.8 L1043.7 265.9 L1045.2 265.9 L1046.7 265.9 L1048.1 265.9 L1049.6 265.9 L1051.1 266.0 L1052.6 266.0 L1054.1 266.0 L1055.6 266.0 L1057.1 266.0 L1058.6 266.0 L1060.1 266.0 L1061.6 266.1 L1063.1 266.1 L1064.6 266.1 L1066.1 266.1 L1067.6 266.1 L1069.1 266.1 L1070.5 266.1 L1072.0 266.1 L1073.5 266.2 L1075.0 266.2 L1076.5 266.2 L1078.0 266.2 L1079.5 266.2 L1081.0 266.2 L1082.5 266.2 L1084.0 266.2 L1085.5 266.2 L1087.0 266.2 L1088.5 266.2 L1090.0 266.2 L1091.5 266.3 L1092.9 266.3 L1094.4 266.3 L1095.9 266.3 L1097.4 266.3 L1098.9 266.3 L1100.4 266.3 L1101.9 266.3 L1103.4 266.3 L1104.9 266.3 L1106.4 266.3 L1107.9 266.3 L1109.4 266.3 L1110.9 266.3 L1112.4 266.3 L1113.9 266.3 L1115.3 266.3 L1116.8 266.3 L1118.3 266.3 L1119.8 266.3 L1121.3 266.3 L1122.8 266.3" fill="none" stroke="#7f7f7f" stroke-width="2.2"/>
</g>
<clipPath id="clipb1"><rect x="730.2" y="409.0" width="464.0" height="354.0"/></clipPath>
<g clip-path="url(#clipb1)">
<path d="M773.0 680.3 L774.6 680.3 L776.3 680.3 L777.9 680.3 L779.5 680.3 L781.1 680.3 L782.7 680.3 L784.3 680.3 L785.9 680.3 L787.5 680.3 L789.2 680.3 L790.8 680.3 L792.4 680.3 L794.0 680.3 L795.6 680.3 L797.2 680.3 L798.8 680.3 L800.4 680.2 L802.1 680.2 L803.7 680.2 L805.3 680.2 L806.9 680.2 L808.5 680.2 L810.1 680.2 L811.7 680.2 L813.4 680.1 L815.0 680.1 L816.6 680.1 L818.2 680.1 L819.8 680.0 L821.4 680.0 L823.0 680.0 L824.6 679.9 L826.3 679.9 L827.9 679.8 L829.5 679.8 L831.1 679.7 L832.7 679.6 L834.3 679.5 L835.9 679.4 L837.5 679.3 L839.2 679.1 L840.8 679.0 L842.4 678.8 L844.0 678.6 L845.6 678.4 L847.2 678.2 L848.8 677.9 L850.4 677.6 L852.1 677.3 L853.7 676.9 L855.3 676.5 L856.9 676.1 L858.5 675.6 L860.1 675.1 L861.7 674.5 L863.4 673.9 L865.0 673.2 L866.6 672.5 L868.2 671.7 L869.8 670.8 L871.4 669.9 L873.0 668.9 L874.6 667.8 L876.3 666.7 L877.9 665.5 L879.5 664.2 L881.1 662.9 L882.7 661.5 L884.3 660.0 L885.9 658.5 L887.5 656.9 L889.2 655.2 L890.8 653.5 L892.4 651.7 L894.0 649.8 L895.6 648.0 L897.2 646.0 L898.8 644.1 L900.4 642.1 L902.1 640.2 L903.7 638.2 L905.3 636.2 L906.9 634.2 L908.5 632.3 L910.1 630.3 L911.7 628.5 L913.4 626.7 L915.0 624.9 L916.6 623.2 L918.2 621.6 L919.8 620.2 L921.4 618.8 L923.0 617.5 L924.6 616.4 L926.3 615.4 L927.9 614.6 L929.5 613.9 L931.1 613.3 L932.7 613.0 L934.3 612.8 L935.9 612.7 L937.5 612.9 L939.2 613.2 L940.8 613.6 L942.4 614.3 L944.0 615.1 L945.6 616.0 L947.2 617.1 L948.8 618.4 L950.4 619.8 L952.1 621.3 L953.7 622.9 L955.3 624.6 L956.9 626.4 L958.5 628.3 L960.1 630.3 L961.7 632.3 L963.3 634.4 L965.0 636.5 L966.6 638.7 L968.2 640.9 L969.8 643.1 L971.4 645.2 L973.0 647.4 L974.6 649.6 L976.3 651.7 L977.9 653.8 L979.5 655.8 L981.1 657.8 L982.7 659.8 L984.3 661.7 L985.9 663.5 L987.5 665.3 L989.2 667.0 L990.8 668.6 L992.4 670.2 L994.0 671.7 L995.6 673.1 L997.2 674.5 L998.8 675.8 L1000.4 677.0 L1002.1 678.2 L1003.7 679.3 L1005.3 680.3 L1006.9 681.3 L1008.5 682.2 L1010.1 683.0 L1011.7 683.8 L1013.3 684.6 L1015.0 685.3 L1016.6 686.0 L1018.2 686.6 L1019.8 687.1 L1021.4 687.7 L1023.0 688.2 L1024.6 688.7 L1026.3 689.1 L1027.9 689.5 L1029.5 689.9 L1031.1 690.2 L1032.7 690.6 L1034.3 690.9 L1035.9 691.1 L1037.5 691.4 L1039.2 691.7 L1040.8 691.9 L1042.4 692.1 L1044.0 692.3 L1045.6 692.5 L1047.2 692.6 L1048.8 692.8 L1050.4 692.9 L1052.1 693.1 L1053.7 693.2 L1055.3 693.3 L1056.9 693.4 L1058.5 693.5 L1060.1 693.6 L1061.7 693.7 L1063.3 693.7 L1065.0 693.8 L1066.6 693.9 L1068.2 693.9 L1069.8 694.0 L1071.4 694.0 L1073.0 694.1 L1074.6 694.1 L1076.3 694.1 L1077.9 694.2 L1079.5 694.2 L1081.1 694.2 L1082.7 694.2 L1084.3 694.3 L1085.9 694.3 L1087.5 694.3 L1089.2 694.3 L1090.8 694.3 L1092.4 694.4 L1094.0 694.4 L1095.6 694.4 L1097.2 694.4 L1098.8 694.4 L1100.4 694.4 L1102.1 694.4 L1103.7 694.4 L1105.3 694.4 L1106.9 694.4 L1108.5 694.4 L1110.1 694.5 L1111.7 694.5 L1113.3 694.5 L1115.0 694.5 L1116.6 694.5 L1118.2 694.5 L1119.8 694.5 L1121.4 694.5 L1123.0 694.5 L1124.6 694.5 L1126.3 694.5 L1127.9 694.5 L1129.5 694.5 L1131.1 694.5 L1132.7 694.5 L1134.3 694.5 L1135.9 694.5 L1137.5 694.5 L1139.2 694.5 L1140.8 694.5 L1142.4 694.5 L1144.0 694.5 L1145.6 694.5 L1147.2 694.6 L1148.8 694.6 L1150.4 694.6 L1152.1 694.6 L1153.7 694.6 L1155.3 694.6 L1156.9 694.6 L1158.5 694.6 L1158.5 694.7 L1156.9 694.7 L1155.3 694.7 L1153.7 694.7 L1152.1 694.7 L1150.4 694.7 L1148.8 694.7 L1147.2 694.7 L1145.6 694.7 L1144.0 694.7 L1142.4 694.7 L1140.8 694.7 L1139.2 694.7 L1137.5 694.7 L1135.9 694.7 L1134.3 694.7 L1132.7 694.7 L1131.1 694.7 L1129.5 694.7 L1127.9 694.6 L1126.3 694.6 L1124.6 694.6 L1123.0 694.6 L1121.4 694.6 L1119.8 694.6 L1118.2 694.6 L1116.6 694.6 L1115.0 694.6 L1113.3 694.6 L1111.7 694.6 L1110.1 694.6 L1108.5 694.6 L1106.9 694.6 L1105.3 694.6 L1103.7 694.6 L1102.1 694.6 L1100.4 694.6 L1098.8 694.6 L1097.2 694.6 L1095.6 694.6 L1094.0 694.6 L1092.4 694.6 L1090.8 694.6 L1089.2 694.5 L1087.5 694.5 L1085.9 694.5 L1084.3 694.5 L1082.7 694.5 L1081.1 694.5 L1079.5 694.4 L1077.9 694.4 L1076.3 694.4 L1074.6 694.4 L1073.0 694.3 L1071.4 694.3 L1069.8 694.3 L1068.2 694.2 L1066.6 694.2 L1065.0 694.1 L1063.3 694.1 L1061.7 694.0 L1060.1 694.0 L1058.5 693.9 L1056.9 693.8 L1055.3 693.8 L1053.7 693.7 L1052.1 693.6 L1050.4 693.5 L1048.8 693.4 L1047.2 693.3 L1045.6 693.2 L1044.0 693.1 L1042.4 692.9 L1040.8 692.8 L1039.2 692.7 L1037.5 692.5 L1035.9 692.4 L1034.3 692.2 L1032.7 692.1 L1031.1 691.9 L1029.5 691.8 L1027.9 691.6 L1026.3 691.4 L1024.6 691.3 L1023.0 691.1 L1021.4 690.9 L1019.8 690.7 L1018.2 690.5 L1016.6 690.4 L1015.0 690.2 L1013.3 690.0 L1011.7 689.8 L1010.1 689.6 L1008.5 689.4 L1006.9 689.3 L1005.3 689.1 L1003.7 688.9 L1002.1 688.7 L1000.4 688.6 L998.8 688.4 L997.2 688.2 L995.6 688.0 L994.0 687.9 L992.4 687.7 L990.8 687.5 L989.2 687.4 L987.5 687.2 L985.9 687.1 L984.3 686.9 L982.7 686.7 L981.1 686.6 L979.5 686.4 L977.9 686.3 L976.3 686.1 L974.6 686.0 L973.0 685.8 L971.4 685.7 L969.8 685.5 L968.2 685.4 L966.6 685.3 L965.0 685.1 L963.3 685.0 L961.7 684.8 L960.1 684.7 L958.5 684.5 L956.9 684.4 L955.3 684.3 L953.7 684.1 L952.1 684.0 L950.4 683.9 L948.8 683.8 L947.2 683.6 L945.6 683.5 L944.0 683.4 L942.4 683.3 L940.8 683.1 L939.2 683.0 L937.5 682.9 L935.9 682.8 L934.3 682.7 L932.7 682.6 L931.1 682.5 L929.5 682.4 L927.9 682.3 L926.3 682.2 L924.6 682.1 L923.0 682.0 L921.4 682.0 L919.8 681.9 L918.2 681.8 L916.6 681.7 L915.0 681.6 L913.4 681.6 L911.7 681.5 L910.1 681.5 L908.5 681.4 L906.9 681.3 L905.3 681.3 L903.7 681.2 L902.1 681.2 L900.4 681.2 L898.8 681.1 L897.2 681.1 L895.6 681.0 L894.0 681.0 L892.4 681.0 L890.8 680.9 L889.2 680.9 L887.5 680.9 L885.9 680.9 L884.3 680.8 L882.7 680.8 L881.1 680.8 L879.5 680.8 L877.9 680.8 L876.3 680.8 L874.6 680.7 L873.0 680.7 L871.4 680.7 L869.8 680.7 L868.2 680.7 L866.6 680.7 L865.0 680.7 L863.4 680.7 L861.7 680.7 L860.1 680.6 L858.5 680.6 L856.9 680.6 L855.3 680.6 L853.7 680.6 L852.1 680.6 L850.4 680.6 L848.8 680.6 L847.2 680.6 L845.6 680.6 L844.0 680.6 L842.4 680.6 L840.8 680.6 L839.2 680.6 L837.5 680.6 L835.9 680.6 L834.3 680.6 L832.7 680.6 L831.1 680.6 L829.5 680.6 L827.9 680.6 L826.3 680.6 L824.6 680.6 L823.0 680.6 L821.4 680.6 L819.8 680.5 L818.2 680.5 L816.6 680.5 L815.0 680.5 L813.4 680.5 L811.7 680.5 L810.1 680.5 L808.5 680.5 L806.9 680.5 L805.3 680.5 L803.7 680.5 L802.1 680.5 L800.4 680.5 L798.8 680.5 L797.2 680.5 L795.6 680.5 L794.0 680.5 L792.4 680.5 L790.8 680.5 L789.2 680.5 L787.5 680.5 L785.9 680.5 L784.3 680.5 L782.7 680.5 L781.1 680.5 L779.5 680.5 L777.9 680.5 L776.3 680.5 L774.6 680.5 L773.0 680.5Z" fill="#ff9cff" fill-opacity="0.50"/>
<path d="M773.0 680.1 L774.6 680.1 L776.3 680.1 L777.9 680.1 L779.5 680.1 L781.1 680.1 L782.7 680.1 L784.3 680.1 L785.9 680.1 L787.5 680.1 L789.2 680.1 L790.8 680.1 L792.4 680.0 L794.0 680.0 L795.6 680.0 L797.2 680.0 L798.8 680.0 L800.4 680.0 L802.1 680.0 L803.7 680.0 L805.3 680.0 L806.9 680.0 L808.5 680.0 L810.1 680.0 L811.7 679.9 L813.4 679.9 L815.0 679.9 L816.6 679.9 L818.2 679.9 L819.8 679.9 L821.4 679.9 L823.0 679.9 L824.6 679.9 L826.3 679.8 L827.9 679.8 L829.5 679.8 L831.1 679.8 L832.7 679.8 L834.3 679.8 L835.9 679.8 L837.5 679.7 L839.2 679.7 L840.8 679.7 L842.4 679.7 L844.0 679.7 L845.6 679.6 L847.2 679.6 L848.8 679.6 L850.4 679.6 L852.1 679.5 L853.7 679.5 L855.3 679.5 L856.9 679.4 L858.5 679.4 L860.1 679.3 L861.7 679.3 L863.4 679.2 L865.0 679.1 L866.6 679.0 L868.2 678.9 L869.8 678.8 L871.4 678.7 L873.0 678.6 L874.6 678.4 L876.3 678.3 L877.9 678.1 L879.5 677.9 L881.1 677.6 L882.7 677.3 L884.3 677.0 L885.9 676.7 L887.5 676.3 L889.2 675.8 L890.8 675.3 L892.4 674.8 L894.0 674.2 L895.6 673.5 L897.2 672.7 L898.8 671.9 L900.4 671.0 L902.1 670.0 L903.7 668.9 L905.3 667.7 L906.9 666.4 L908.5 665.0 L910.1 663.5 L911.7 661.8 L913.4 660.0 L915.0 658.1 L916.6 656.1 L918.2 654.0 L919.8 651.7 L921.4 649.2 L923.0 646.7 L924.6 644.0 L926.3 641.2 L927.9 638.2 L929.5 635.2 L931.1 632.1 L932.7 628.8 L934.3 625.5 L935.9 622.1 L937.5 618.6 L939.2 615.1 L940.8 611.5 L942.4 608.0 L944.0 604.5 L945.6 600.9 L947.2 597.5 L948.8 594.1 L950.4 590.8 L952.1 587.6 L953.7 584.6 L955.3 581.7 L956.9 579.0 L958.5 576.5 L960.1 574.3 L961.7 572.3 L963.3 570.5 L965.0 569.1 L966.6 567.9 L968.2 567.1 L969.8 566.6 L971.4 566.4 L973.0 566.6 L974.6 567.1 L976.3 567.9 L977.9 569.0 L979.5 570.5 L981.1 572.2 L982.7 574.3 L984.3 576.6 L985.9 579.1 L987.5 581.9 L989.2 584.9 L990.8 588.1 L992.4 591.4 L994.0 594.9 L995.6 598.5 L997.2 602.2 L998.8 605.9 L1000.4 609.8 L1002.1 613.6 L1003.7 617.4 L1005.3 621.3 L1006.9 625.1 L1008.5 628.8 L1010.1 632.5 L1011.7 636.1 L1013.3 639.7 L1015.0 643.1 L1016.6 646.4 L1018.2 649.6 L1019.8 652.7 L1021.4 655.6 L1023.0 658.5 L1024.6 661.1 L1026.3 663.7 L1027.9 666.1 L1029.5 668.3 L1031.1 670.5 L1032.7 672.5 L1034.3 674.3 L1035.9 676.1 L1037.5 677.7 L1039.2 679.1 L1040.8 680.5 L1042.4 681.8 L1044.0 683.0 L1045.6 684.0 L1047.2 685.0 L1048.8 685.9 L1050.4 686.7 L1052.1 687.4 L1053.7 688.1 L1055.3 688.7 L1056.9 689.2 L1058.5 689.7 L1060.1 690.2 L1061.7 690.6 L1063.3 690.9 L1065.0 691.2 L1066.6 691.5 L1068.2 691.8 L1069.8 692.0 L1071.4 692.2 L1073.0 692.4 L1074.6 692.5 L1076.3 692.7 L1077.9 692.8 L1079.5 692.9 L1081.1 693.0 L1082.7 693.1 L1084.3 693.2 L1085.9 693.2 L1087.5 693.3 L1089.2 693.4 L1090.8 693.4 L1092.4 693.5 L1094.0 693.5 L1095.6 693.6 L1097.2 693.6 L1098.8 693.6 L1100.4 693.7 L1102.1 693.7 L1103.7 693.7 L1105.3 693.8 L1106.9 693.8 L1108.5 693.8 L1110.1 693.8 L1111.7 693.8 L1113.3 693.9 L1115.0 693.9 L1116.6 693.9 L1118.2 693.9 L1119.8 693.9 L1121.4 694.0 L1123.0 694.0 L1124.6 694.0 L1126.3 694.0 L1127.9 694.0 L1129.5 694.0 L1131.1 694.0 L1132.7 694.1 L1134.3 694.1 L1135.9 694.1 L1137.5 694.1 L1139.2 694.1 L1140.8 694.1 L1142.4 694.1 L1144.0 694.1 L1145.6 694.2 L1147.2 694.2 L1148.8 694.2 L1150.4 694.2 L1152.1 694.2 L1153.7 694.2 L1155.3 694.2 L1156.9 694.2 L1158.5 694.2 L1158.5 694.7 L1156.9 694.7 L1155.3 694.7 L1153.7 694.7 L1152.1 694.7 L1150.4 694.7 L1148.8 694.7 L1147.2 694.7 L1145.6 694.7 L1144.0 694.7 L1142.4 694.7 L1140.8 694.7 L1139.2 694.7 L1137.5 694.7 L1135.9 694.7 L1134.3 694.7 L1132.7 694.7 L1131.1 694.7 L1129.5 694.7 L1127.9 694.6 L1126.3 694.6 L1124.6 694.6 L1123.0 694.6 L1121.4 694.6 L1119.8 694.6 L1118.2 694.6 L1116.6 694.6 L1115.0 694.6 L1113.3 694.6 L1111.7 694.6 L1110.1 694.6 L1108.5 694.6 L1106.9 694.6 L1105.3 694.6 L1103.7 694.6 L1102.1 694.6 L1100.4 694.6 L1098.8 694.6 L1097.2 694.6 L1095.6 694.6 L1094.0 694.6 L1092.4 694.6 L1090.8 694.6 L1089.2 694.5 L1087.5 694.5 L1085.9 694.5 L1084.3 694.5 L1082.7 694.5 L1081.1 694.5 L1079.5 694.4 L1077.9 694.4 L1076.3 694.4 L1074.6 694.4 L1073.0 694.3 L1071.4 694.3 L1069.8 694.3 L1068.2 694.2 L1066.6 694.2 L1065.0 694.1 L1063.3 694.1 L1061.7 694.0 L1060.1 694.0 L1058.5 693.9 L1056.9 693.8 L1055.3 693.8 L1053.7 693.7 L1052.1 693.6 L1050.4 693.5 L1048.8 693.4 L1047.2 693.3 L1045.6 693.2 L1044.0 693.1 L1042.4 692.9 L1040.8 692.8 L1039.2 692.7 L1037.5 692.5 L1035.9 692.4 L1034.3 692.2 L1032.7 692.1 L1031.1 691.9 L1029.5 691.8 L1027.9 691.6 L1026.3 691.4 L1024.6 691.3 L1023.0 691.1 L1021.4 690.9 L1019.8 690.7 L1018.2 690.5 L1016.6 690.4 L1015.0 690.2 L1013.3 690.0 L1011.7 689.8 L1010.1 689.6 L1008.5 689.4 L1006.9 689.3 L1005.3 689.1 L1003.7 688.9 L1002.1 688.7 L1000.4 688.6 L998.8 688.4 L997.2 688.2 L995.6 688.0 L994.0 687.9 L992.4 687.7 L990.8 687.5 L989.2 687.4 L987.5 687.2 L985.9 687.1 L984.3 686.9 L982.7 686.7 L981.1 686.6 L979.5 686.4 L977.9 686.3 L976.3 686.1 L974.6 686.0 L973.0 685.8 L971.4 685.7 L969.8 685.5 L968.2 685.4 L966.6 685.3 L965.0 685.1 L963.3 685.0 L961.7 684.8 L960.1 684.7 L958.5 684.5 L956.9 684.4 L955.3 684.3 L953.7 684.1 L952.1 684.0 L950.4 683.9 L948.8 683.8 L947.2 683.6 L945.6 683.5 L944.0 683.4 L942.4 683.3 L940.8 683.1 L939.2 683.0 L937.5 682.9 L935.9 682.8 L934.3 682.7 L932.7 682.6 L931.1 682.5 L929.5 682.4 L927.9 682.3 L926.3 682.2 L924.6 682.1 L923.0 682.0 L921.4 682.0 L919.8 681.9 L918.2 681.8 L916.6 681.7 L915.0 681.6 L913.4 681.6 L911.7 681.5 L910.1 681.5 L908.5 681.4 L906.9 681.3 L905.3 681.3 L903.7 681.2 L902.1 681.2 L900.4 681.2 L898.8 681.1 L897.2 681.1 L895.6 681.0 L894.0 681.0 L892.4 681.0 L890.8 680.9 L889.2 680.9 L887.5 680.9 L885.9 680.9 L884.3 680.8 L882.7 680.8 L881.1 680.8 L879.5 680.8 L877.9 680.8 L876.3 680.8 L874.6 680.7 L873.0 680.7 L871.4 680.7 L869.8 680.7 L868.2 680.7 L866.6 680.7 L865.0 680.7 L863.4 680.7 L861.7 680.7 L860.1 680.6 L858.5 680.6 L856.9 680.6 L855.3 680.6 L853.7 680.6 L852.1 680.6 L850.4 680.6 L848.8 680.6 L847.2 680.6 L845.6 680.6 L844.0 680.6 L842.4 680.6 L840.8 680.6 L839.2 680.6 L837.5 680.6 L835.9 680.6 L834.3 680.6 L832.7 680.6 L831.1 680.6 L829.5 680.6 L827.9 680.6 L826.3 680.6 L824.6 680.6 L823.0 680.6 L821.4 680.6 L819.8 680.5 L818.2 680.5 L816.6 680.5 L815.0 680.5 L813.4 680.5 L811.7 680.5 L810.1 680.5 L808.5 680.5 L806.9 680.5 L805.3 680.5 L803.7 680.5 L802.1 680.5 L800.4 680.5 L798.8 680.5 L797.2 680.5 L795.6 680.5 L794.0 680.5 L792.4 680.5 L790.8 680.5 L789.2 680.5 L787.5 680.5 L785.9 680.5 L784.3 680.5 L782.7 680.5 L781.1 680.5 L779.5 680.5 L777.9 680.5 L776.3 680.5 L774.6 680.5 L773.0 680.5Z" fill="#9ee49e" fill-opacity="0.50"/>
<path d="M773.0 680.2 L774.6 680.2 L776.3 680.2 L777.9 680.2 L779.5 680.2 L781.1 680.2 L782.7 680.2 L784.3 680.2 L785.9 680.2 L787.5 680.2 L789.2 680.2 L790.8 680.2 L792.4 680.1 L794.0 680.1 L795.6 680.1 L797.2 680.1 L798.8 680.1 L800.4 680.1 L802.1 680.1 L803.7 680.1 L805.3 680.1 L806.9 680.1 L808.5 680.1 L810.1 680.1 L811.7 680.1 L813.4 680.1 L815.0 680.1 L816.6 680.1 L818.2 680.1 L819.8 680.1 L821.4 680.1 L823.0 680.1 L824.6 680.0 L826.3 680.0 L827.9 680.0 L829.5 680.0 L831.1 680.0 L832.7 680.0 L834.3 680.0 L835.9 680.0 L837.5 680.0 L839.2 680.0 L840.8 680.0 L842.4 680.0 L844.0 680.0 L845.6 680.0 L847.2 680.0 L848.8 679.9 L850.4 679.9 L852.1 679.9 L853.7 679.9 L855.3 679.9 L856.9 679.9 L858.5 679.9 L860.1 679.9 L861.7 679.9 L863.4 679.9 L865.0 679.9 L866.6 679.9 L868.2 679.9 L869.8 679.9 L871.4 679.9 L873.0 679.9 L874.6 679.8 L876.3 679.8 L877.9 679.8 L879.5 679.8 L881.1 679.8 L882.7 679.8 L884.3 679.8 L885.9 679.8 L887.5 679.8 L889.2 679.8 L890.8 679.8 L892.4 679.8 L894.0 679.8 L895.6 679.8 L897.2 679.9 L898.8 679.9 L900.4 679.9 L902.1 679.9 L903.7 679.9 L905.3 679.9 L906.9 679.9 L908.5 679.9 L910.1 679.9 L911.7 680.0 L913.4 680.0 L915.0 680.0 L916.6 680.0 L918.2 680.0 L919.8 680.0 L921.4 680.0 L923.0 680.0 L924.6 680.0 L926.3 680.0 L927.9 679.9 L929.5 679.9 L931.1 679.8 L932.7 679.7 L934.3 679.6 L935.9 679.5 L937.5 679.3 L939.2 679.1 L940.8 678.8 L942.4 678.5 L944.0 678.1 L945.6 677.7 L947.2 677.2 L948.8 676.6 L950.4 675.8 L952.1 675.0 L953.7 674.1 L955.3 673.0 L956.9 671.8 L958.5 670.4 L960.1 668.9 L961.7 667.1 L963.3 665.2 L965.0 663.0 L966.6 660.6 L968.2 658.0 L969.8 655.1 L971.4 651.9 L973.0 648.4 L974.6 644.6 L976.3 640.6 L977.9 636.3 L979.5 631.6 L981.1 626.7 L982.7 621.4 L984.3 615.9 L985.9 610.1 L987.5 604.1 L989.2 597.9 L990.8 591.4 L992.4 584.8 L994.0 578.1 L995.6 571.2 L997.2 564.3 L998.8 557.4 L1000.4 550.6 L1002.1 543.8 L1003.7 537.2 L1005.3 530.8 L1006.9 524.7 L1008.5 518.9 L1010.1 513.5 L1011.7 508.5 L1013.3 504.0 L1015.0 500.1 L1016.6 496.8 L1018.2 494.1 L1019.8 492.1 L1021.4 490.7 L1023.0 490.1 L1024.6 490.3 L1026.3 491.1 L1027.9 492.7 L1029.5 495.0 L1031.1 497.9 L1032.7 501.5 L1034.3 505.7 L1035.9 510.4 L1037.5 515.7 L1039.2 521.3 L1040.8 527.4 L1042.4 533.8 L1044.0 540.4 L1045.6 547.3 L1047.2 554.3 L1048.8 561.4 L1050.4 568.6 L1052.1 575.8 L1053.7 582.9 L1055.3 589.9 L1056.9 596.8 L1058.5 603.5 L1060.1 610.0 L1061.7 616.3 L1063.3 622.3 L1065.0 628.0 L1066.6 633.5 L1068.2 638.7 L1069.8 643.6 L1071.4 648.2 L1073.0 652.4 L1074.6 656.4 L1076.3 660.1 L1077.9 663.5 L1079.5 666.6 L1081.1 669.5 L1082.7 672.1 L1084.3 674.4 L1085.9 676.6 L1087.5 678.5 L1089.2 680.2 L1090.8 681.8 L1092.4 683.1 L1094.0 684.4 L1095.6 685.5 L1097.2 686.4 L1098.8 687.3 L1100.4 688.0 L1102.1 688.7 L1103.7 689.3 L1105.3 689.8 L1106.9 690.2 L1108.5 690.6 L1110.1 690.9 L1111.7 691.2 L1113.3 691.5 L1115.0 691.7 L1116.6 691.9 L1118.2 692.1 L1119.8 692.2 L1121.4 692.4 L1123.0 692.5 L1124.6 692.6 L1126.3 692.7 L1127.9 692.8 L1129.5 692.8 L1131.1 692.9 L1132.7 693.0 L1134.3 693.0 L1135.9 693.1 L1137.5 693.1 L1139.2 693.2 L1140.8 693.2 L1142.4 693.3 L1144.0 693.3 L1145.6 693.3 L1147.2 693.4 L1148.8 693.4 L1150.4 693.4 L1152.1 693.5 L1153.7 693.5 L1155.3 693.5 L1156.9 693.6 L1158.5 693.6 L1158.5 694.7 L1156.9 694.7 L1155.3 694.7 L1153.7 694.7 L1152.1 694.7 L1150.4 694.7 L1148.8 694.7 L1147.2 694.7 L1145.6 694.7 L1144.0 694.7 L1142.4 694.7 L1140.8 694.7 L1139.2 694.7 L1137.5 694.7 L1135.9 694.7 L1134.3 694.7 L1132.7 694.7 L1131.1 694.7 L1129.5 694.7 L1127.9 694.6 L1126.3 694.6 L1124.6 694.6 L1123.0 694.6 L1121.4 694.6 L1119.8 694.6 L1118.2 694.6 L1116.6 694.6 L1115.0 694.6 L1113.3 694.6 L1111.7 694.6 L1110.1 694.6 L1108.5 694.6 L1106.9 694.6 L1105.3 694.6 L1103.7 694.6 L1102.1 694.6 L1100.4 694.6 L1098.8 694.6 L1097.2 694.6 L1095.6 694.6 L1094.0 694.6 L1092.4 694.6 L1090.8 694.6 L1089.2 694.5 L1087.5 694.5 L1085.9 694.5 L1084.3 694.5 L1082.7 694.5 L1081.1 694.5 L1079.5 694.4 L1077.9 694.4 L1076.3 694.4 L1074.6 694.4 L1073.0 694.3 L1071.4 694.3 L1069.8 694.3 L1068.2 694.2 L1066.6 694.2 L1065.0 694.1 L1063.3 694.1 L1061.7 694.0 L1060.1 694.0 L1058.5 693.9 L1056.9 693.8 L1055.3 693.8 L1053.7 693.7 L1052.1 693.6 L1050.4 693.5 L1048.8 693.4 L1047.2 693.3 L1045.6 693.2 L1044.0 693.1 L1042.4 692.9 L1040.8 692.8 L1039.2 692.7 L1037.5 692.5 L1035.9 692.4 L1034.3 692.2 L1032.7 692.1 L1031.1 691.9 L1029.5 691.8 L1027.9 691.6 L1026.3 691.4 L1024.6 691.3 L1023.0 691.1 L1021.4 690.9 L1019.8 690.7 L1018.2 690.5 L1016.6 690.4 L1015.0 690.2 L1013.3 690.0 L1011.7 689.8 L1010.1 689.6 L1008.5 689.4 L1006.9 689.3 L1005.3 689.1 L1003.7 688.9 L1002.1 688.7 L1000.4 688.6 L998.8 688.4 L997.2 688.2 L995.6 688.0 L994.0 687.9 L992.4 687.7 L990.8 687.5 L989.2 687.4 L987.5 687.2 L985.9 687.1 L984.3 686.9 L982.7 686.7 L981.1 686.6 L979.5 686.4 L977.9 686.3 L976.3 686.1 L974.6 686.0 L973.0 685.8 L971.4 685.7 L969.8 685.5 L968.2 685.4 L966.6 685.3 L965.0 685.1 L963.3 685.0 L961.7 684.8 L960.1 684.7 L958.5 684.5 L956.9 684.4 L955.3 684.3 L953.7 684.1 L952.1 684.0 L950.4 683.9 L948.8 683.8 L947.2 683.6 L945.6 683.5 L944.0 683.4 L942.4 683.3 L940.8 683.1 L939.2 683.0 L937.5 682.9 L935.9 682.8 L934.3 682.7 L932.7 682.6 L931.1 682.5 L929.5 682.4 L927.9 682.3 L926.3 682.2 L924.6 682.1 L923.0 682.0 L921.4 682.0 L919.8 681.9 L918.2 681.8 L916.6 681.7 L915.0 681.6 L913.4 681.6 L911.7 681.5 L910.1 681.5 L908.5 681.4 L906.9 681.3 L905.3 681.3 L903.7 681.2 L902.1 681.2 L900.4 681.2 L898.8 681.1 L897.2 681.1 L895.6 681.0 L894.0 681.0 L892.4 681.0 L890.8 680.9 L889.2 680.9 L887.5 680.9 L885.9 680.9 L884.3 680.8 L882.7 680.8 L881.1 680.8 L879.5 680.8 L877.9 680.8 L876.3 680.8 L874.6 680.7 L873.0 680.7 L871.4 680.7 L869.8 680.7 L868.2 680.7 L866.6 680.7 L865.0 680.7 L863.4 680.7 L861.7 680.7 L860.1 680.6 L858.5 680.6 L856.9 680.6 L855.3 680.6 L853.7 680.6 L852.1 680.6 L850.4 680.6 L848.8 680.6 L847.2 680.6 L845.6 680.6 L844.0 680.6 L842.4 680.6 L840.8 680.6 L839.2 680.6 L837.5 680.6 L835.9 680.6 L834.3 680.6 L832.7 680.6 L831.1 680.6 L829.5 680.6 L827.9 680.6 L826.3 680.6 L824.6 680.6 L823.0 680.6 L821.4 680.6 L819.8 680.5 L818.2 680.5 L816.6 680.5 L815.0 680.5 L813.4 680.5 L811.7 680.5 L810.1 680.5 L808.5 680.5 L806.9 680.5 L805.3 680.5 L803.7 680.5 L802.1 680.5 L800.4 680.5 L798.8 680.5 L797.2 680.5 L795.6 680.5 L794.0 680.5 L792.4 680.5 L790.8 680.5 L789.2 680.5 L787.5 680.5 L785.9 680.5 L784.3 680.5 L782.7 680.5 L781.1 680.5 L779.5 680.5 L777.9 680.5 L776.3 680.5 L774.6 680.5 L773.0 680.5Z" fill="#ffa040" fill-opacity="0.60"/>
<path d="M730.2 679.8 L733.8 678.8 L737.3 682.0 L740.9 678.4 L744.5 680.7 L748.0 683.2 L751.6 681.1 L755.2 678.5 L758.8 679.0 L762.3 682.1 L765.9 678.3 L769.5 679.8 L773.0 678.7 L776.6 678.8 L780.2 682.0 L783.7 678.7 L787.3 680.7 L790.9 676.1 L794.4 677.7 L798.0 679.1 L801.6 681.2 L805.2 678.8 L808.7 678.5 L812.3 681.2 L815.9 673.8 L819.4 677.4 L823.0 674.4 L826.6 680.1 L830.1 673.9 L833.7 679.9 L837.3 677.9 L840.8 674.8 L844.4 675.3 L848.0 679.6 L851.6 676.1 L855.1 670.9 L858.7 667.0 L862.3 668.1 L865.8 668.9 L869.4 664.5 L873.0 666.2 L876.5 659.9 L880.1 660.5 L883.7 653.8 L887.2 649.6 L890.8 642.5 L894.4 638.9 L898.0 629.1 L901.5 624.6 L905.1 614.3 L908.7 605.6 L912.2 602.0 L915.8 588.6 L919.4 579.3 L922.9 571.8 L926.5 561.0 L930.1 556.1 L933.6 543.8 L937.2 536.4 L940.8 529.7 L944.4 518.3 L947.9 516.5 L951.5 511.2 L955.1 507.5 L958.6 500.5 L962.2 499.0 L965.8 490.7 L969.3 491.6 L972.9 487.0 L976.5 480.3 L980.0 479.2 L983.6 477.9 L987.2 471.7 L990.8 470.5 L994.3 464.0 L997.9 460.6 L1001.5 457.6 L1005.0 450.1 L1008.6 445.4 L1012.2 445.8 L1015.7 447.0 L1019.3 447.8 L1022.9 456.4 L1026.4 460.1 L1030.0 471.4 L1033.6 477.5 L1037.2 497.8 L1040.7 516.2 L1044.3 528.4 L1047.9 548.4 L1051.4 565.6 L1055.0 582.4 L1058.6 598.6 L1062.1 614.7 L1065.7 625.4 L1069.3 638.2 L1072.8 650.7 L1076.4 658.8 L1080.0 667.8 L1083.6 671.1 L1087.1 675.0 L1090.7 679.0 L1094.3 682.0 L1097.8 685.9 L1101.4 684.0 L1105.0 689.1 L1108.5 689.6 L1112.1 691.1 L1115.7 690.7 L1119.2 691.8 L1122.8 687.3 L1126.4 691.0 L1130.0 695.7 L1133.5 693.2 L1137.1 695.4 L1140.7 690.7 L1144.2 689.8 L1147.8 693.7 L1151.4 691.6 L1154.9 693.4 L1158.5 692.2 L1162.1 689.4 L1165.6 693.9 L1169.2 695.9 L1172.8 691.8 L1176.4 692.3 L1179.9 692.0 L1183.5 691.3 L1187.1 695.0 L1190.6 697.7 L1194.2 691.4" fill="none" stroke="#707070" stroke-width="2" stroke-dasharray="4.2 3.6" stroke-linejoin="round"/>
<path d="M773.0 679.6 L774.6 679.6 L776.3 679.6 L777.9 679.5 L779.5 679.5 L781.1 679.5 L782.7 679.5 L784.3 679.5 L785.9 679.4 L787.5 679.4 L789.2 679.4 L790.8 679.3 L792.4 679.3 L794.0 679.3 L795.6 679.2 L797.2 679.2 L798.8 679.2 L800.4 679.1 L802.1 679.1 L803.7 679.0 L805.3 679.0 L806.9 678.9 L808.5 678.8 L810.1 678.8 L811.7 678.7 L813.4 678.6 L815.0 678.5 L816.6 678.4 L818.2 678.3 L819.8 678.2 L821.4 678.1 L823.0 678.0 L824.6 677.9 L826.3 677.7 L827.9 677.6 L829.5 677.4 L831.1 677.3 L832.7 677.1 L834.3 676.9 L835.9 676.7 L837.5 676.5 L839.2 676.3 L840.8 676.0 L842.4 675.7 L844.0 675.4 L845.6 675.1 L847.2 674.8 L848.8 674.4 L850.4 674.0 L852.1 673.6 L853.7 673.2 L855.3 672.7 L856.9 672.1 L858.5 671.5 L860.1 670.9 L861.7 670.2 L863.4 669.5 L865.0 668.7 L866.6 667.9 L868.2 667.0 L869.8 666.0 L871.4 664.9 L873.0 663.8 L874.6 662.5 L876.3 661.2 L877.9 659.8 L879.5 658.3 L881.1 656.7 L882.7 654.9 L884.3 653.0 L885.9 651.1 L887.5 648.9 L889.2 646.7 L890.8 644.3 L892.4 641.7 L894.0 639.0 L895.6 636.1 L897.2 633.1 L898.8 629.9 L900.4 626.5 L902.1 623.0 L903.7 619.4 L905.3 615.6 L906.9 611.7 L908.5 607.7 L910.1 603.6 L911.7 599.4 L913.4 595.2 L915.0 590.9 L916.6 586.7 L918.2 582.4 L919.8 578.2 L921.4 574.0 L923.0 569.9 L924.6 565.9 L926.3 562.0 L927.9 558.1 L929.5 554.3 L931.1 550.7 L932.7 547.1 L934.3 543.6 L935.9 540.2 L937.5 536.8 L939.2 533.6 L940.8 530.4 L942.4 527.3 L944.0 524.2 L945.6 521.3 L947.2 518.4 L948.8 515.6 L950.4 513.0 L952.1 510.4 L953.7 508.0 L955.3 505.6 L956.9 503.4 L958.5 501.3 L960.1 499.3 L961.7 497.5 L963.3 495.8 L965.0 494.1 L966.6 492.6 L968.2 491.2 L969.8 489.8 L971.4 488.5 L973.0 487.2 L974.6 486.0 L976.3 484.7 L977.9 483.4 L979.5 482.1 L981.1 480.7 L982.7 479.3 L984.3 477.7 L985.9 476.0 L987.5 474.3 L989.2 472.4 L990.8 470.4 L992.4 468.3 L994.0 466.1 L995.6 463.9 L997.2 461.6 L998.8 459.3 L1000.4 457.1 L1002.1 454.8 L1003.7 452.7 L1005.3 450.8 L1006.9 449.0 L1008.5 447.4 L1010.1 446.2 L1011.7 445.3 L1013.3 444.7 L1015.0 444.6 L1016.6 445.0 L1018.2 445.8 L1019.8 447.2 L1021.4 449.1 L1023.0 451.6 L1024.6 454.7 L1026.3 458.4 L1027.9 462.6 L1029.5 467.4 L1031.1 472.7 L1032.7 478.4 L1034.3 484.7 L1035.9 491.3 L1037.5 498.3 L1039.2 505.6 L1040.8 513.1 L1042.4 520.9 L1044.0 528.8 L1045.6 536.8 L1047.2 544.8 L1048.8 552.9 L1050.4 560.9 L1052.1 568.8 L1053.7 576.5 L1055.3 584.1 L1056.9 591.6 L1058.5 598.7 L1060.1 605.7 L1061.7 612.3 L1063.3 618.7 L1065.0 624.7 L1066.6 630.5 L1068.2 635.9 L1069.8 641.0 L1071.4 645.7 L1073.0 650.1 L1074.6 654.3 L1076.3 658.1 L1077.9 661.6 L1079.5 664.8 L1081.1 667.7 L1082.7 670.4 L1084.3 672.9 L1085.9 675.1 L1087.5 677.0 L1089.2 678.8 L1090.8 680.4 L1092.4 681.8 L1094.0 683.1 L1095.6 684.2 L1097.2 685.2 L1098.8 686.1 L1100.4 686.9 L1102.1 687.6 L1103.7 688.2 L1105.3 688.7 L1106.9 689.2 L1108.5 689.6 L1110.1 690.0 L1111.7 690.3 L1113.3 690.6 L1115.0 690.8 L1116.6 691.0 L1118.2 691.2 L1119.8 691.4 L1121.4 691.5 L1123.0 691.7 L1124.6 691.8 L1126.3 691.9 L1127.9 692.0 L1129.5 692.1 L1131.1 692.2 L1132.7 692.2 L1134.3 692.3 L1135.9 692.4 L1137.5 692.4 L1139.2 692.5 L1140.8 692.6 L1142.4 692.6 L1144.0 692.7 L1145.6 692.7 L1147.2 692.8 L1148.8 692.8 L1150.4 692.8 L1152.1 692.9 L1153.7 692.9 L1155.3 693.0 L1156.9 693.0 L1158.5 693.0" fill="none" stroke="#f54545" stroke-opacity="0.78" stroke-width="2.3" stroke-linejoin="round"/>
<path d="M773.0 680.5 L774.6 680.5 L776.3 680.5 L777.9 680.5 L779.5 680.5 L781.1 680.5 L782.7 680.5 L784.3 680.5 L785.9 680.5 L787.5 680.5 L789.2 680.5 L790.8 680.5 L792.4 680.5 L794.0 680.5 L795.6 680.5 L797.2 680.5 L798.8 680.5 L800.4 680.5 L802.1 680.5 L803.7 680.5 L805.3 680.5 L806.9 680.5 L808.5 680.5 L810.1 680.5 L811.7 680.5 L813.4 680.5 L815.0 680.5 L816.6 680.5 L818.2 680.5 L819.8 680.5 L821.4 680.6 L823.0 680.6 L824.6 680.6 L826.3 680.6 L827.9 680.6 L829.5 680.6 L831.1 680.6 L832.7 680.6 L834.3 680.6 L835.9 680.6 L837.5 680.6 L839.2 680.6 L840.8 680.6 L842.4 680.6 L844.0 680.6 L845.6 680.6 L847.2 680.6 L848.8 680.6 L850.4 680.6 L852.1 680.6 L853.7 680.6 L855.3 680.6 L856.9 680.6 L858.5 680.6 L860.1 680.6 L861.7 680.7 L863.4 680.7 L865.0 680.7 L866.6 680.7 L868.2 680.7 L869.8 680.7 L871.4 680.7 L873.0 680.7 L874.6 680.7 L876.3 680.8 L877.9 680.8 L879.5 680.8 L881.1 680.8 L882.7 680.8 L884.3 680.8 L885.9 680.9 L887.5 680.9 L889.2 680.9 L890.8 680.9 L892.4 681.0 L894.0 681.0 L895.6 681.0 L897.2 681.1 L898.8 681.1 L900.4 681.2 L902.1 681.2 L903.7 681.2 L905.3 681.3 L906.9 681.3 L908.5 681.4 L910.1 681.5 L911.7 681.5 L913.4 681.6 L915.0 681.6 L916.6 681.7 L918.2 681.8 L919.8 681.9 L921.4 682.0 L923.0 682.0 L924.6 682.1 L926.3 682.2 L927.9 682.3 L929.5 682.4 L931.1 682.5 L932.7 682.6 L934.3 682.7 L935.9 682.8 L937.5 682.9 L939.2 683.0 L940.8 683.1 L942.4 683.3 L944.0 683.4 L945.6 683.5 L947.2 683.6 L948.8 683.8 L950.4 683.9 L952.1 684.0 L953.7 684.1 L955.3 684.3 L956.9 684.4 L958.5 684.5 L960.1 684.7 L961.7 684.8 L963.3 685.0 L965.0 685.1 L966.6 685.3 L968.2 685.4 L969.8 685.5 L971.4 685.7 L973.0 685.8 L974.6 686.0 L976.3 686.1 L977.9 686.3 L979.5 686.4 L981.1 686.6 L982.7 686.7 L984.3 686.9 L985.9 687.1 L987.5 687.2 L989.2 687.4 L990.8 687.5 L992.4 687.7 L994.0 687.9 L995.6 688.0 L997.2 688.2 L998.8 688.4 L1000.4 688.6 L1002.1 688.7 L1003.7 688.9 L1005.3 689.1 L1006.9 689.3 L1008.5 689.4 L1010.1 689.6 L1011.7 689.8 L1013.3 690.0 L1015.0 690.2 L1016.6 690.4 L1018.2 690.5 L1019.8 690.7 L1021.4 690.9 L1023.0 691.1 L1024.6 691.3 L1026.3 691.4 L1027.9 691.6 L1029.5 691.8 L1031.1 691.9 L1032.7 692.1 L1034.3 692.2 L1035.9 692.4 L1037.5 692.5 L1039.2 692.7 L1040.8 692.8 L1042.4 692.9 L1044.0 693.1 L1045.6 693.2 L1047.2 693.3 L1048.8 693.4 L1050.4 693.5 L1052.1 693.6 L1053.7 693.7 L1055.3 693.8 L1056.9 693.8 L1058.5 693.9 L1060.1 694.0 L1061.7 694.0 L1063.3 694.1 L1065.0 694.1 L1066.6 694.2 L1068.2 694.2 L1069.8 694.3 L1071.4 694.3 L1073.0 694.3 L1074.6 694.4 L1076.3 694.4 L1077.9 694.4 L1079.5 694.4 L1081.1 694.5 L1082.7 694.5 L1084.3 694.5 L1085.9 694.5 L1087.5 694.5 L1089.2 694.5 L1090.8 694.6 L1092.4 694.6 L1094.0 694.6 L1095.6 694.6 L1097.2 694.6 L1098.8 694.6 L1100.4 694.6 L1102.1 694.6 L1103.7 694.6 L1105.3 694.6 L1106.9 694.6 L1108.5 694.6 L1110.1 694.6 L1111.7 694.6 L1113.3 694.6 L1115.0 694.6 L1116.6 694.6 L1118.2 694.6 L1119.8 694.6 L1121.4 694.6 L1123.0 694.6 L1124.6 694.6 L1126.3 694.6 L1127.9 694.6 L1129.5 694.7 L1131.1 694.7 L1132.7 694.7 L1134.3 694.7 L1135.9 694.7 L1137.5 694.7 L1139.2 694.7 L1140.8 694.7 L1142.4 694.7 L1144.0 694.7 L1145.6 694.7 L1147.2 694.7 L1148.8 694.7 L1150.4 694.7 L1152.1 694.7 L1153.7 694.7 L1155.3 694.7 L1156.9 694.7 L1158.5 694.7" fill="none" stroke="#7f7f7f" stroke-width="2.2"/>
</g>
<clipPath id="clipc0"><rect x="1350.3" y="55.0" width="464.0" height="354.0"/></clipPath>
<g clip-path="url(#clipc0)">
<path d="M1350.3 345.5 L1351.9 345.5 L1353.6 345.5 L1355.2 345.5 L1356.9 345.4 L1358.5 345.4 L1360.2 345.4 L1361.8 345.3 L1363.4 345.3 L1365.1 345.3 L1366.7 345.2 L1368.4 345.2 L1370.0 345.2 L1371.7 345.1 L1373.3 345.1 L1374.9 345.1 L1376.6 345.0 L1378.2 345.0 L1379.9 344.9 L1381.5 344.9 L1383.2 344.8 L1384.8 344.8 L1386.4 344.7 L1388.1 344.7 L1389.7 344.6 L1391.4 344.5 L1393.0 344.4 L1394.7 344.4 L1396.3 344.3 L1397.9 344.2 L1399.6 344.1 L1401.2 344.0 L1402.9 343.9 L1404.5 343.8 L1406.2 343.6 L1407.8 343.5 L1409.4 343.3 L1411.1 343.1 L1412.7 342.9 L1414.4 342.7 L1416.0 342.5 L1417.7 342.2 L1419.3 341.9 L1420.9 341.6 L1422.6 341.2 L1424.2 340.8 L1425.9 340.3 L1427.5 339.8 L1429.2 339.3 L1430.8 338.6 L1432.4 337.9 L1434.1 337.2 L1435.7 336.3 L1437.4 335.4 L1439.0 334.4 L1440.7 333.3 L1442.3 332.0 L1443.9 330.7 L1445.6 329.2 L1447.2 327.6 L1448.9 325.9 L1450.5 324.0 L1452.2 322.0 L1453.8 319.8 L1455.4 317.4 L1457.1 314.9 L1458.7 312.2 L1460.4 309.3 L1462.0 306.2 L1463.6 302.9 L1465.3 299.4 L1466.9 295.7 L1468.6 291.8 L1470.2 287.7 L1471.9 283.5 L1473.5 279.0 L1475.1 274.4 L1476.8 269.6 L1478.4 264.6 L1480.1 259.5 L1481.7 254.2 L1483.4 248.8 L1485.0 243.3 L1486.6 237.7 L1488.3 232.1 L1489.9 226.4 L1491.6 220.7 L1493.2 215.0 L1494.9 209.4 L1496.5 203.8 L1498.1 198.3 L1499.8 192.9 L1501.4 187.7 L1503.1 182.8 L1504.7 178.0 L1506.4 173.5 L1508.0 169.3 L1509.6 165.5 L1511.3 162.0 L1512.9 158.9 L1514.6 156.2 L1516.2 153.9 L1517.9 152.2 L1519.5 150.9 L1521.1 150.1 L1522.8 149.8 L1524.4 150.1 L1526.1 150.8 L1527.7 152.1 L1529.4 153.9 L1531.0 156.1 L1532.6 158.8 L1534.3 161.9 L1535.9 165.5 L1537.6 169.4 L1539.2 173.6 L1540.9 178.2 L1542.5 183.1 L1544.1 188.2 L1545.8 193.5 L1547.4 199.1 L1549.1 204.7 L1550.7 210.5 L1552.4 216.3 L1554.0 222.2 L1555.6 228.2 L1557.3 234.1 L1558.9 240.0 L1560.6 245.8 L1562.2 251.6 L1563.9 257.2 L1565.5 262.8 L1567.1 268.2 L1568.8 273.4 L1570.4 278.5 L1572.1 283.4 L1573.7 288.1 L1575.4 292.7 L1577.0 297.0 L1578.6 301.2 L1580.3 305.1 L1581.9 308.9 L1583.6 312.4 L1585.2 315.8 L1586.9 319.0 L1588.5 321.9 L1590.1 324.7 L1591.8 327.3 L1593.4 329.8 L1595.1 332.1 L1596.7 334.2 L1598.4 336.2 L1600.0 338.0 L1601.6 339.7 L1603.3 341.3 L1604.9 342.7 L1606.6 344.1 L1608.2 345.3 L1609.9 346.5 L1611.5 347.6 L1613.1 348.6 L1614.8 349.5 L1616.4 350.3 L1618.1 351.1 L1619.7 351.8 L1621.4 352.5 L1623.0 353.1 L1624.6 353.6 L1626.3 354.2 L1627.9 354.6 L1629.6 355.1 L1631.2 355.5 L1632.9 355.9 L1634.5 356.2 L1636.1 356.5 L1637.8 356.8 L1639.4 357.1 L1641.1 357.3 L1642.7 357.6 L1644.4 357.8 L1646.0 358.0 L1647.6 358.1 L1649.3 358.3 L1650.9 358.5 L1652.6 358.6 L1654.2 358.7 L1655.9 358.8 L1657.5 358.9 L1659.1 359.0 L1660.8 359.1 L1662.4 359.2 L1664.1 359.3 L1665.7 359.4 L1667.3 359.4 L1669.0 359.5 L1670.6 359.6 L1672.3 359.6 L1673.9 359.7 L1675.6 359.7 L1677.2 359.8 L1678.8 359.8 L1680.5 359.9 L1682.1 359.9 L1683.8 359.9 L1685.4 360.0 L1687.1 360.0 L1688.7 360.1 L1690.3 360.1 L1692.0 360.1 L1693.6 360.2 L1695.3 360.2 L1696.9 360.2 L1698.6 360.3 L1700.2 360.3 L1701.8 360.3 L1703.5 360.3 L1705.1 360.4 L1706.8 360.4 L1708.4 360.4 L1710.1 360.4 L1711.7 360.5 L1713.3 360.5 L1715.0 360.5 L1716.6 360.5 L1718.3 360.6 L1719.9 360.6 L1721.6 360.6 L1723.2 360.6 L1724.8 360.6 L1726.5 360.7 L1728.1 360.7 L1729.8 360.7 L1731.4 360.7 L1733.1 360.7 L1734.7 360.8 L1736.3 360.8 L1738.0 360.8 L1739.6 360.8 L1741.3 360.8 L1742.9 360.8 L1742.9 361.8 L1741.3 361.8 L1739.6 361.8 L1738.0 361.8 L1736.3 361.8 L1734.7 361.8 L1733.1 361.8 L1731.4 361.8 L1729.8 361.8 L1728.1 361.8 L1726.5 361.8 L1724.8 361.8 L1723.2 361.8 L1721.6 361.8 L1719.9 361.8 L1718.3 361.8 L1716.6 361.8 L1715.0 361.8 L1713.3 361.8 L1711.7 361.8 L1710.1 361.8 L1708.4 361.8 L1706.8 361.7 L1705.1 361.7 L1703.5 361.7 L1701.8 361.7 L1700.2 361.7 L1698.6 361.7 L1696.9 361.7 L1695.3 361.7 L1693.6 361.7 L1692.0 361.7 L1690.3 361.7 L1688.7 361.7 L1687.1 361.7 L1685.4 361.7 L1683.8 361.7 L1682.1 361.7 L1680.5 361.7 L1678.8 361.7 L1677.2 361.7 L1675.6 361.7 L1673.9 361.6 L1672.3 361.6 L1670.6 361.6 L1669.0 361.6 L1667.3 361.6 L1665.7 361.6 L1664.1 361.5 L1662.4 361.5 L1660.8 361.5 L1659.1 361.5 L1657.5 361.4 L1655.9 361.4 L1654.2 361.4 L1652.6 361.3 L1650.9 361.3 L1649.3 361.2 L1647.6 361.1 L1646.0 361.1 L1644.4 361.0 L1642.7 360.9 L1641.1 360.8 L1639.4 360.7 L1637.8 360.6 L1636.1 360.5 L1634.5 360.4 L1632.9 360.2 L1631.2 360.1 L1629.6 360.0 L1627.9 359.8 L1626.3 359.7 L1624.6 359.5 L1623.0 359.4 L1621.4 359.2 L1619.7 359.1 L1618.1 358.9 L1616.4 358.7 L1614.8 358.6 L1613.1 358.4 L1611.5 358.3 L1609.9 358.1 L1608.2 358.0 L1606.6 357.8 L1604.9 357.7 L1603.3 357.5 L1601.6 357.4 L1600.0 357.3 L1598.4 357.2 L1596.7 357.1 L1595.1 356.9 L1593.4 356.8 L1591.8 356.7 L1590.1 356.7 L1588.5 356.6 L1586.9 356.5 L1585.2 356.4 L1583.6 356.3 L1581.9 356.3 L1580.3 356.2 L1578.6 356.1 L1577.0 356.1 L1575.4 356.0 L1573.7 355.9 L1572.1 355.8 L1570.4 355.8 L1568.8 355.7 L1567.1 355.6 L1565.5 355.5 L1563.9 355.5 L1562.2 355.4 L1560.6 355.3 L1558.9 355.2 L1557.3 355.1 L1555.6 355.0 L1554.0 354.9 L1552.4 354.7 L1550.7 354.6 L1549.1 354.5 L1547.4 354.3 L1545.8 354.2 L1544.1 354.1 L1542.5 353.9 L1540.9 353.8 L1539.2 353.6 L1537.6 353.4 L1535.9 353.3 L1534.3 353.1 L1532.6 352.9 L1531.0 352.8 L1529.4 352.6 L1527.7 352.4 L1526.1 352.2 L1524.4 352.1 L1522.8 351.9 L1521.1 351.7 L1519.5 351.5 L1517.9 351.3 L1516.2 351.2 L1514.6 351.0 L1512.9 350.8 L1511.3 350.7 L1509.6 350.5 L1508.0 350.3 L1506.4 350.2 L1504.7 350.0 L1503.1 349.8 L1501.4 349.7 L1499.8 349.6 L1498.1 349.4 L1496.5 349.3 L1494.9 349.2 L1493.2 349.0 L1491.6 348.9 L1489.9 348.8 L1488.3 348.7 L1486.6 348.6 L1485.0 348.5 L1483.4 348.4 L1481.7 348.3 L1480.1 348.2 L1478.4 348.1 L1476.8 348.1 L1475.1 348.0 L1473.5 347.9 L1471.9 347.9 L1470.2 347.8 L1468.6 347.8 L1466.9 347.7 L1465.3 347.7 L1463.6 347.6 L1462.0 347.6 L1460.4 347.5 L1458.7 347.5 L1457.1 347.5 L1455.4 347.4 L1453.8 347.4 L1452.2 347.4 L1450.5 347.4 L1448.9 347.4 L1447.2 347.3 L1445.6 347.3 L1443.9 347.3 L1442.3 347.3 L1440.7 347.3 L1439.0 347.3 L1437.4 347.2 L1435.7 347.2 L1434.1 347.2 L1432.4 347.2 L1430.8 347.2 L1429.2 347.2 L1427.5 347.2 L1425.9 347.2 L1424.2 347.2 L1422.6 347.2 L1420.9 347.2 L1419.3 347.2 L1417.7 347.2 L1416.0 347.2 L1414.4 347.1 L1412.7 347.1 L1411.1 347.1 L1409.4 347.1 L1407.8 347.1 L1406.2 347.1 L1404.5 347.1 L1402.9 347.1 L1401.2 347.1 L1399.6 347.1 L1397.9 347.1 L1396.3 347.1 L1394.7 347.1 L1393.0 347.1 L1391.4 347.1 L1389.7 347.1 L1388.1 347.1 L1386.4 347.1 L1384.8 347.1 L1383.2 347.1 L1381.5 347.1 L1379.9 347.1 L1378.2 347.1 L1376.6 347.1 L1374.9 347.1 L1373.3 347.1 L1371.7 347.1 L1370.0 347.1 L1368.4 347.1 L1366.7 347.1 L1365.1 347.1 L1363.4 347.1 L1361.8 347.1 L1360.2 347.1 L1358.5 347.1 L1356.9 347.1 L1355.2 347.1 L1353.6 347.1 L1351.9 347.1 L1350.3 347.1Z" fill="#9cc3f7" fill-opacity="0.50"/>
<path d="M1350.3 346.8 L1351.9 346.8 L1353.6 346.8 L1355.2 346.8 L1356.9 346.8 L1358.5 346.8 L1360.2 346.8 L1361.8 346.8 L1363.4 346.8 L1365.1 346.8 L1366.7 346.8 L1368.4 346.8 L1370.0 346.8 L1371.7 346.8 L1373.3 346.8 L1374.9 346.8 L1376.6 346.8 L1378.2 346.8 L1379.9 346.8 L1381.5 346.8 L1383.2 346.8 L1384.8 346.8 L1386.4 346.8 L1388.1 346.8 L1389.7 346.8 L1391.4 346.8 L1393.0 346.8 L1394.7 346.8 L1396.3 346.8 L1397.9 346.8 L1399.6 346.8 L1401.2 346.8 L1402.9 346.8 L1404.5 346.8 L1406.2 346.8 L1407.8 346.8 L1409.4 346.8 L1411.1 346.8 L1412.7 346.8 L1414.4 346.8 L1416.0 346.7 L1417.7 346.7 L1419.3 346.7 L1420.9 346.7 L1422.6 346.7 L1424.2 346.7 L1425.9 346.7 L1427.5 346.7 L1429.2 346.7 L1430.8 346.7 L1432.4 346.7 L1434.1 346.7 L1435.7 346.7 L1437.4 346.7 L1439.0 346.7 L1440.7 346.8 L1442.3 346.8 L1443.9 346.8 L1445.6 346.8 L1447.2 346.8 L1448.9 346.8 L1450.5 346.8 L1452.2 346.8 L1453.8 346.8 L1455.4 346.8 L1457.1 346.9 L1458.7 346.9 L1460.4 346.9 L1462.0 346.9 L1463.6 346.9 L1465.3 347.0 L1466.9 347.0 L1468.6 347.0 L1470.2 347.1 L1471.9 347.1 L1473.5 347.2 L1475.1 347.2 L1476.8 347.3 L1478.4 347.3 L1480.1 347.4 L1481.7 347.4 L1483.4 347.5 L1485.0 347.6 L1486.6 347.7 L1488.3 347.7 L1489.9 347.8 L1491.6 347.9 L1493.2 348.0 L1494.9 348.1 L1496.5 348.2 L1498.1 348.3 L1499.8 348.4 L1501.4 348.5 L1503.1 348.7 L1504.7 348.8 L1506.4 348.9 L1508.0 349.0 L1509.6 349.2 L1511.3 349.3 L1512.9 349.4 L1514.6 349.5 L1516.2 349.7 L1517.9 349.8 L1519.5 349.9 L1521.1 350.1 L1522.8 350.2 L1524.4 350.3 L1526.1 350.4 L1527.7 350.5 L1529.4 350.6 L1531.0 350.7 L1532.6 350.8 L1534.3 350.9 L1535.9 351.0 L1537.6 351.0 L1539.2 351.1 L1540.9 351.1 L1542.5 351.1 L1544.1 351.1 L1545.8 351.0 L1547.4 350.9 L1549.1 350.8 L1550.7 350.6 L1552.4 350.3 L1554.0 350.0 L1555.6 349.6 L1557.3 349.1 L1558.9 348.5 L1560.6 347.8 L1562.2 346.9 L1563.9 345.8 L1565.5 344.6 L1567.1 343.1 L1568.8 341.4 L1570.4 339.4 L1572.1 337.1 L1573.7 334.6 L1575.4 331.6 L1577.0 328.3 L1578.6 324.7 L1580.3 320.6 L1581.9 316.1 L1583.6 311.1 L1585.2 305.8 L1586.9 300.0 L1588.5 293.8 L1590.1 287.3 L1591.8 280.3 L1593.4 273.1 L1595.1 265.6 L1596.7 258.0 L1598.4 250.2 L1600.0 242.3 L1601.6 234.6 L1603.3 226.9 L1604.9 219.6 L1606.6 212.5 L1608.2 206.0 L1609.9 200.1 L1611.5 194.8 L1613.1 190.4 L1614.8 186.8 L1616.4 184.3 L1618.1 182.8 L1619.7 182.4 L1621.4 183.0 L1623.0 184.8 L1624.6 187.6 L1626.3 191.3 L1627.9 196.0 L1629.6 201.5 L1631.2 207.7 L1632.9 214.4 L1634.5 221.7 L1636.1 229.3 L1637.8 237.1 L1639.4 245.1 L1641.1 253.2 L1642.7 261.2 L1644.4 269.1 L1646.0 276.7 L1647.6 284.1 L1649.3 291.2 L1650.9 298.0 L1652.6 304.3 L1654.2 310.3 L1655.9 315.8 L1657.5 320.8 L1659.1 325.5 L1660.8 329.7 L1662.4 333.5 L1664.1 336.9 L1665.7 340.0 L1667.3 342.7 L1669.0 345.1 L1670.6 347.1 L1672.3 349.0 L1673.9 350.5 L1675.6 351.9 L1677.2 353.1 L1678.8 354.1 L1680.5 354.9 L1682.1 355.7 L1683.8 356.3 L1685.4 356.8 L1687.1 357.3 L1688.7 357.7 L1690.3 358.0 L1692.0 358.3 L1693.6 358.5 L1695.3 358.7 L1696.9 358.9 L1698.6 359.1 L1700.2 359.2 L1701.8 359.3 L1703.5 359.4 L1705.1 359.5 L1706.8 359.6 L1708.4 359.7 L1710.1 359.8 L1711.7 359.9 L1713.3 359.9 L1715.0 360.0 L1716.6 360.1 L1718.3 360.1 L1719.9 360.2 L1721.6 360.2 L1723.2 360.3 L1724.8 360.3 L1726.5 360.4 L1728.1 360.4 L1729.8 360.4 L1731.4 360.5 L1733.1 360.5 L1734.7 360.6 L1736.3 360.6 L1738.0 360.6 L1739.6 360.7 L1741.3 360.7 L1742.9 360.7 L1742.9 361.8 L1741.3 361.8 L1739.6 361.8 L1738.0 361.8 L1736.3 361.8 L1734.7 361.8 L1733.1 361.8 L1731.4 361.8 L1729.8 361.8 L1728.1 361.8 L1726.5 361.8 L1724.8 361.8 L1723.2 361.8 L1721.6 361.8 L1719.9 361.8 L1718.3 361.8 L1716.6 361.8 L1715.0 361.8 L1713.3 361.8 L1711.7 361.8 L1710.1 361.8 L1708.4 361.8 L1706.8 361.7 L1705.1 361.7 L1703.5 361.7 L1701.8 361.7 L1700.2 361.7 L1698.6 361.7 L1696.9 361.7 L1695.3 361.7 L1693.6 361.7 L1692.0 361.7 L1690.3 361.7 L1688.7 361.7 L1687.1 361.7 L1685.4 361.7 L1683.8 361.7 L1682.1 361.7 L1680.5 361.7 L1678.8 361.7 L1677.2 361.7 L1675.6 361.7 L1673.9 361.6 L1672.3 361.6 L1670.6 361.6 L1669.0 361.6 L1667.3 361.6 L1665.7 361.6 L1664.1 361.5 L1662.4 361.5 L1660.8 361.5 L1659.1 361.5 L1657.5 361.4 L1655.9 361.4 L1654.2 361.4 L1652.6 361.3 L1650.9 361.3 L1649.3 361.2 L1647.6 361.1 L1646.0 361.1 L1644.4 361.0 L1642.7 360.9 L1641.1 360.8 L1639.4 360.7 L1637.8 360.6 L1636.1 360.5 L1634.5 360.4 L1632.9 360.2 L1631.2 360.1 L1629.6 360.0 L1627.9 359.8 L1626.3 359.7 L1624.6 359.5 L1623.0 359.4 L1621.4 359.2 L1619.7 359.1 L1618.1 358.9 L1616.4 358.7 L1614.8 358.6 L1613.1 358.4 L1611.5 358.3 L1609.9 358.1 L1608.2 358.0 L1606.6 357.8 L1604.9 357.7 L1603.3 357.5 L1601.6 357.4 L1600.0 357.3 L1598.4 357.2 L1596.7 357.1 L1595.1 356.9 L1593.4 356.8 L1591.8 356.7 L1590.1 356.7 L1588.5 356.6 L1586.9 356.5 L1585.2 356.4 L1583.6 356.3 L1581.9 356.3 L1580.3 356.2 L1578.6 356.1 L1577.0 356.1 L1575.4 356.0 L1573.7 355.9 L1572.1 355.8 L1570.4 355.8 L1568.8 355.7 L1567.1 355.6 L1565.5 355.5 L1563.9 355.5 L1562.2 355.4 L1560.6 355.3 L1558.9 355.2 L1557.3 355.1 L1555.6 355.0 L1554.0 354.9 L1552.4 354.7 L1550.7 354.6 L1549.1 354.5 L1547.4 354.3 L1545.8 354.2 L1544.1 354.1 L1542.5 353.9 L1540.9 353.8 L1539.2 353.6 L1537.6 353.4 L1535.9 353.3 L1534.3 353.1 L1532.6 352.9 L1531.0 352.8 L1529.4 352.6 L1527.7 352.4 L1526.1 352.2 L1524.4 352.1 L1522.8 351.9 L1521.1 351.7 L1519.5 351.5 L1517.9 351.3 L1516.2 351.2 L1514.6 351.0 L1512.9 350.8 L1511.3 350.7 L1509.6 350.5 L1508.0 350.3 L1506.4 350.2 L1504.7 350.0 L1503.1 349.8 L1501.4 349.7 L1499.8 349.6 L1498.1 349.4 L1496.5 349.3 L1494.9 349.2 L1493.2 349.0 L1491.6 348.9 L1489.9 348.8 L1488.3 348.7 L1486.6 348.6 L1485.0 348.5 L1483.4 348.4 L1481.7 348.3 L1480.1 348.2 L1478.4 348.1 L1476.8 348.1 L1475.1 348.0 L1473.5 347.9 L1471.9 347.9 L1470.2 347.8 L1468.6 347.8 L1466.9 347.7 L1465.3 347.7 L1463.6 347.6 L1462.0 347.6 L1460.4 347.5 L1458.7 347.5 L1457.1 347.5 L1455.4 347.4 L1453.8 347.4 L1452.2 347.4 L1450.5 347.4 L1448.9 347.4 L1447.2 347.3 L1445.6 347.3 L1443.9 347.3 L1442.3 347.3 L1440.7 347.3 L1439.0 347.3 L1437.4 347.2 L1435.7 347.2 L1434.1 347.2 L1432.4 347.2 L1430.8 347.2 L1429.2 347.2 L1427.5 347.2 L1425.9 347.2 L1424.2 347.2 L1422.6 347.2 L1420.9 347.2 L1419.3 347.2 L1417.7 347.2 L1416.0 347.2 L1414.4 347.1 L1412.7 347.1 L1411.1 347.1 L1409.4 347.1 L1407.8 347.1 L1406.2 347.1 L1404.5 347.1 L1402.9 347.1 L1401.2 347.1 L1399.6 347.1 L1397.9 347.1 L1396.3 347.1 L1394.7 347.1 L1393.0 347.1 L1391.4 347.1 L1389.7 347.1 L1388.1 347.1 L1386.4 347.1 L1384.8 347.1 L1383.2 347.1 L1381.5 347.1 L1379.9 347.1 L1378.2 347.1 L1376.6 347.1 L1374.9 347.1 L1373.3 347.1 L1371.7 347.1 L1370.0 347.1 L1368.4 347.1 L1366.7 347.1 L1365.1 347.1 L1363.4 347.1 L1361.8 347.1 L1360.2 347.1 L1358.5 347.1 L1356.9 347.1 L1355.2 347.1 L1353.6 347.1 L1351.9 347.1 L1350.3 347.1Z" fill="#ff9cff" fill-opacity="0.50"/>
<path d="M1350.3 345.1 L1353.9 345.4 L1357.4 344.1 L1361.0 345.2 L1364.6 345.0 L1368.1 344.3 L1371.7 345.3 L1375.3 345.1 L1378.9 344.6 L1382.4 344.7 L1386.0 345.0 L1389.6 344.4 L1393.1 344.3 L1396.7 343.7 L1400.3 344.5 L1403.8 343.9 L1407.4 342.8 L1411.0 342.1 L1414.5 343.2 L1418.1 341.7 L1421.7 341.7 L1425.3 340.8 L1428.8 339.8 L1432.4 338.3 L1436.0 336.0 L1439.5 334.2 L1443.1 332.0 L1446.7 329.2 L1450.2 325.4 L1453.8 321.2 L1457.4 315.7 L1460.9 310.5 L1464.5 303.4 L1468.1 295.7 L1471.7 287.1 L1475.2 277.4 L1478.8 267.0 L1482.4 255.4 L1485.9 244.2 L1489.5 231.3 L1493.1 219.7 L1496.6 207.4 L1500.2 195.2 L1503.8 183.7 L1507.3 173.5 L1510.9 164.1 L1514.5 156.9 L1518.1 151.9 L1521.6 149.2 L1525.2 148.4 L1528.8 149.4 L1532.3 154.0 L1535.9 160.9 L1539.5 168.7 L1543.0 178.4 L1546.6 188.7 L1550.2 201.3 L1553.7 213.0 L1557.3 226.8 L1560.9 239.8 L1564.5 252.2 L1568.0 262.1 L1571.6 270.9 L1575.2 276.7 L1578.7 278.2 L1582.3 277.1 L1585.9 272.0 L1589.4 264.9 L1593.0 255.9 L1596.6 242.1 L1600.1 229.8 L1603.7 214.4 L1607.3 200.9 L1610.9 190.1 L1614.4 181.5 L1618.0 176.5 L1621.6 175.1 L1625.1 180.0 L1628.7 189.1 L1632.3 201.8 L1635.8 216.3 L1639.4 234.3 L1643.0 251.9 L1646.5 269.2 L1650.1 285.4 L1653.7 300.0 L1657.3 313.5 L1660.8 323.9 L1664.4 332.7 L1668.0 339.5 L1671.5 343.9 L1675.1 348.6 L1678.7 351.2 L1682.2 353.6 L1685.8 355.0 L1689.4 355.5 L1692.9 356.8 L1696.5 357.4 L1700.1 357.4 L1703.7 357.7 L1707.2 357.9 L1710.8 358.4 L1714.4 359.4 L1717.9 358.6 L1721.5 358.8 L1725.1 358.7 L1728.6 359.7 L1732.2 358.3 L1735.8 360.1 L1739.3 359.3 L1742.9 359.7 L1746.5 360.0 L1750.1 359.5 L1753.6 360.1 L1757.2 361.1 L1760.8 360.6 L1764.3 360.0 L1767.9 359.3 L1771.5 361.0 L1775.0 360.4 L1778.6 359.8 L1782.2 360.2 L1785.7 360.7 L1789.3 361.2 L1792.9 361.4 L1796.5 361.0 L1800.0 360.8 L1803.6 361.7 L1807.2 361.5 L1810.7 360.6 L1814.3 361.0" fill="none" stroke="#707070" stroke-width="2" stroke-dasharray="4.2 3.6" stroke-linejoin="round"/>
<path d="M1350.3 345.3 L1351.9 345.3 L1353.6 345.3 L1355.2 345.2 L1356.9 345.2 L1358.5 345.2 L1360.2 345.1 L1361.8 345.1 L1363.4 345.1 L1365.1 345.0 L1366.7 345.0 L1368.4 344.9 L1370.0 344.9 L1371.7 344.9 L1373.3 344.8 L1374.9 344.8 L1376.6 344.7 L1378.2 344.7 L1379.9 344.6 L1381.5 344.6 L1383.2 344.5 L1384.8 344.5 L1386.4 344.4 L1388.1 344.3 L1389.7 344.3 L1391.4 344.2 L1393.0 344.1 L1394.7 344.0 L1396.3 344.0 L1397.9 343.9 L1399.6 343.8 L1401.2 343.6 L1402.9 343.5 L1404.5 343.4 L1406.2 343.3 L1407.8 343.1 L1409.4 342.9 L1411.1 342.7 L1412.7 342.5 L1414.4 342.3 L1416.0 342.1 L1417.7 341.8 L1419.3 341.5 L1420.9 341.1 L1422.6 340.8 L1424.2 340.3 L1425.9 339.9 L1427.5 339.4 L1429.2 338.8 L1430.8 338.2 L1432.4 337.5 L1434.1 336.7 L1435.7 335.8 L1437.4 334.9 L1439.0 333.9 L1440.7 332.8 L1442.3 331.5 L1443.9 330.2 L1445.6 328.7 L1447.2 327.1 L1448.9 325.3 L1450.5 323.5 L1452.2 321.4 L1453.8 319.2 L1455.4 316.8 L1457.1 314.3 L1458.7 311.5 L1460.4 308.6 L1462.0 305.5 L1463.6 302.2 L1465.3 298.7 L1466.9 295.0 L1468.6 291.1 L1470.2 287.0 L1471.9 282.7 L1473.5 278.2 L1475.1 273.6 L1476.8 268.8 L1478.4 263.8 L1480.1 258.6 L1481.7 253.3 L1483.4 247.9 L1485.0 242.4 L1486.6 236.8 L1488.3 231.1 L1489.9 225.4 L1491.6 219.7 L1493.2 214.0 L1494.9 208.3 L1496.5 202.7 L1498.1 197.2 L1499.8 191.8 L1501.4 186.6 L1503.1 181.6 L1504.7 176.8 L1506.4 172.2 L1508.0 168.0 L1509.6 164.1 L1511.3 160.6 L1512.9 157.4 L1514.6 154.7 L1516.2 152.4 L1517.9 150.6 L1519.5 149.3 L1521.1 148.5 L1522.8 148.1 L1524.4 148.3 L1526.1 149.0 L1527.7 150.2 L1529.4 151.9 L1531.0 154.1 L1532.6 156.7 L1534.3 159.8 L1535.9 163.2 L1537.6 167.1 L1539.2 171.3 L1540.9 175.8 L1542.5 180.7 L1544.1 185.7 L1545.8 191.1 L1547.4 196.6 L1549.1 202.3 L1550.7 208.1 L1552.4 214.1 L1554.0 220.0 L1555.6 226.1 L1557.3 232.0 L1558.9 237.9 L1560.6 243.7 L1562.2 249.2 L1563.9 254.5 L1565.5 259.4 L1567.1 263.9 L1568.8 267.9 L1570.4 271.3 L1572.1 274.1 L1573.7 276.2 L1575.4 277.6 L1577.0 278.3 L1578.6 278.3 L1580.3 277.5 L1581.9 276.0 L1583.6 273.9 L1585.2 271.0 L1586.9 267.6 L1588.5 263.5 L1590.1 259.0 L1591.8 253.9 L1593.4 248.5 L1595.1 242.7 L1596.7 236.6 L1598.4 230.3 L1600.0 223.9 L1601.6 217.5 L1603.3 211.1 L1604.9 205.0 L1606.6 199.1 L1608.2 193.6 L1609.9 188.6 L1611.5 184.2 L1613.1 180.6 L1614.8 177.8 L1616.4 175.9 L1618.1 175.0 L1619.7 175.1 L1621.4 176.3 L1623.0 178.5 L1624.6 181.7 L1626.3 185.8 L1627.9 190.8 L1629.6 196.6 L1631.2 203.0 L1632.9 210.0 L1634.5 217.5 L1636.1 225.3 L1637.8 233.3 L1639.4 241.5 L1641.1 249.7 L1642.7 257.8 L1644.4 265.8 L1646.0 273.6 L1647.6 281.2 L1649.3 288.3 L1650.9 295.2 L1652.6 301.6 L1654.2 307.6 L1655.9 313.2 L1657.5 318.3 L1659.1 323.1 L1660.8 327.3 L1662.4 331.2 L1664.1 334.7 L1665.7 337.8 L1667.3 340.5 L1669.0 342.9 L1670.6 345.1 L1672.3 346.9 L1673.9 348.6 L1675.6 350.0 L1677.2 351.2 L1678.8 352.2 L1680.5 353.1 L1682.1 353.9 L1683.8 354.5 L1685.4 355.1 L1687.1 355.6 L1688.7 356.0 L1690.3 356.4 L1692.0 356.7 L1693.6 357.0 L1695.3 357.2 L1696.9 357.4 L1698.6 357.6 L1700.2 357.8 L1701.8 357.9 L1703.5 358.0 L1705.1 358.2 L1706.8 358.3 L1708.4 358.4 L1710.1 358.5 L1711.7 358.6 L1713.3 358.7 L1715.0 358.8 L1716.6 358.8 L1718.3 358.9 L1719.9 359.0 L1721.6 359.1 L1723.2 359.1 L1724.8 359.2 L1726.5 359.3 L1728.1 359.3 L1729.8 359.4 L1731.4 359.4 L1733.1 359.5 L1734.7 359.5 L1736.3 359.6 L1738.0 359.6 L1739.6 359.7 L1741.3 359.7 L1742.9 359.8" fill="none" stroke="#f54545" stroke-opacity="0.78" stroke-width="2.3" stroke-linejoin="round"/>
<path d="M1350.3 347.1 L1351.9 347.1 L1353.6 347.1 L1355.2 347.1 L1356.9 347.1 L1358.5 347.1 L1360.2 347.1 L1361.8 347.1 L1363.4 347.1 L1365.1 347.1 L1366.7 347.1 L1368.4 347.1 L1370.0 347.1 L1371.7 347.1 L1373.3 347.1 L1374.9 347.1 L1376.6 347.1 L1378.2 347.1 L1379.9 347.1 L1381.5 347.1 L1383.2 347.1 L1384.8 347.1 L1386.4 347.1 L1388.1 347.1 L1389.7 347.1 L1391.4 347.1 L1393.0 347.1 L1394.7 347.1 L1396.3 347.1 L1397.9 347.1 L1399.6 347.1 L1401.2 347.1 L1402.9 347.1 L1404.5 347.1 L1406.2 347.1 L1407.8 347.1 L1409.4 347.1 L1411.1 347.1 L1412.7 347.1 L1414.4 347.1 L1416.0 347.2 L1417.7 347.2 L1419.3 347.2 L1420.9 347.2 L1422.6 347.2 L1424.2 347.2 L1425.9 347.2 L1427.5 347.2 L1429.2 347.2 L1430.8 347.2 L1432.4 347.2 L1434.1 347.2 L1435.7 347.2 L1437.4 347.2 L1439.0 347.3 L1440.7 347.3 L1442.3 347.3 L1443.9 347.3 L1445.6 347.3 L1447.2 347.3 L1448.9 347.4 L1450.5 347.4 L1452.2 347.4 L1453.8 347.4 L1455.4 347.4 L1457.1 347.5 L1458.7 347.5 L1460.4 347.5 L1462.0 347.6 L1463.6 347.6 L1465.3 347.7 L1466.9 347.7 L1468.6 347.8 L1470.2 347.8 L1471.9 347.9 L1473.5 347.9 L1475.1 348.0 L1476.8 348.1 L1478.4 348.1 L1480.1 348.2 L1481.7 348.3 L1483.4 348.4 L1485.0 348.5 L1486.6 348.6 L1488.3 348.7 L1489.9 348.8 L1491.6 348.9 L1493.2 349.0 L1494.9 349.2 L1496.5 349.3 L1498.1 349.4 L1499.8 349.6 L1501.4 349.7 L1503.1 349.8 L1504.7 350.0 L1506.4 350.2 L1508.0 350.3 L1509.6 350.5 L1511.3 350.7 L1512.9 350.8 L1514.6 351.0 L1516.2 351.2 L1517.9 351.3 L1519.5 351.5 L1521.1 351.7 L1522.8 351.9 L1524.4 352.1 L1526.1 352.2 L1527.7 352.4 L1529.4 352.6 L1531.0 352.8 L1532.6 352.9 L1534.3 353.1 L1535.9 353.3 L1537.6 353.4 L1539.2 353.6 L1540.9 353.8 L1542.5 353.9 L1544.1 354.1 L1545.8 354.2 L1547.4 354.3 L1549.1 354.5 L1550.7 354.6 L1552.4 354.7 L1554.0 354.9 L1555.6 355.0 L1557.3 355.1 L1558.9 355.2 L1560.6 355.3 L1562.2 355.4 L1563.9 355.5 L1565.5 355.5 L1567.1 355.6 L1568.8 355.7 L1570.4 355.8 L1572.1 355.8 L1573.7 355.9 L1575.4 356.0 L1577.0 356.1 L1578.6 356.1 L1580.3 356.2 L1581.9 356.3 L1583.6 356.3 L1585.2 356.4 L1586.9 356.5 L1588.5 356.6 L1590.1 356.7 L1591.8 356.7 L1593.4 356.8 L1595.1 356.9 L1596.7 357.1 L1598.4 357.2 L1600.0 357.3 L1601.6 357.4 L1603.3 357.5 L1604.9 357.7 L1606.6 357.8 L1608.2 358.0 L1609.9 358.1 L1611.5 358.3 L1613.1 358.4 L1614.8 358.6 L1616.4 358.7 L1618.1 358.9 L1619.7 359.1 L1621.4 359.2 L1623.0 359.4 L1624.6 359.5 L1626.3 359.7 L1627.9 359.8 L1629.6 360.0 L1631.2 360.1 L1632.9 360.2 L1634.5 360.4 L1636.1 360.5 L1637.8 360.6 L1639.4 360.7 L1641.1 360.8 L1642.7 360.9 L1644.4 361.0 L1646.0 361.1 L1647.6 361.1 L1649.3 361.2 L1650.9 361.3 L1652.6 361.3 L1654.2 361.4 L1655.9 361.4 L1657.5 361.4 L1659.1 361.5 L1660.8 361.5 L1662.4 361.5 L1664.1 361.5 L1665.7 361.6 L1667.3 361.6 L1669.0 361.6 L1670.6 361.6 L1672.3 361.6 L1673.9 361.6 L1675.6 361.7 L1677.2 361.7 L1678.8 361.7 L1680.5 361.7 L1682.1 361.7 L1683.8 361.7 L1685.4 361.7 L1687.1 361.7 L1688.7 361.7 L1690.3 361.7 L1692.0 361.7 L1693.6 361.7 L1695.3 361.7 L1696.9 361.7 L1698.6 361.7 L1700.2 361.7 L1701.8 361.7 L1703.5 361.7 L1705.1 361.7 L1706.8 361.7 L1708.4 361.8 L1710.1 361.8 L1711.7 361.8 L1713.3 361.8 L1715.0 361.8 L1716.6 361.8 L1718.3 361.8 L1719.9 361.8 L1721.6 361.8 L1723.2 361.8 L1724.8 361.8 L1726.5 361.8 L1728.1 361.8 L1729.8 361.8 L1731.4 361.8 L1733.1 361.8 L1734.7 361.8 L1736.3 361.8 L1738.0 361.8 L1739.6 361.8 L1741.3 361.8 L1742.9 361.8" fill="none" stroke="#7f7f7f" stroke-width="2.2"/>
</g>
<clipPath id="clipc1"><rect x="1350.3" y="409.0" width="464.0" height="354.0"/></clipPath>
<g clip-path="url(#clipc1)">
<path d="M1386.0 711.2 L1387.7 711.2 L1389.4 711.2 L1391.1 711.2 L1392.8 711.3 L1394.5 711.3 L1396.2 711.3 L1397.9 711.3 L1399.6 711.3 L1401.3 711.3 L1403.0 711.3 L1404.7 711.3 L1406.4 711.3 L1408.1 711.3 L1409.8 711.3 L1411.5 711.3 L1413.2 711.2 L1414.9 711.2 L1416.6 711.2 L1418.3 711.2 L1420.0 711.1 L1421.7 711.1 L1423.4 711.1 L1425.1 711.0 L1426.9 710.9 L1428.6 710.9 L1430.3 710.8 L1432.0 710.7 L1433.7 710.6 L1435.4 710.5 L1437.1 710.4 L1438.8 710.2 L1440.5 710.1 L1442.2 709.9 L1443.9 709.7 L1445.6 709.5 L1447.3 709.3 L1449.0 709.1 L1450.7 708.8 L1452.4 708.5 L1454.1 708.2 L1455.8 707.9 L1457.5 707.5 L1459.2 707.1 L1460.9 706.7 L1462.6 706.3 L1464.3 705.8 L1466.0 705.3 L1467.7 704.7 L1469.4 704.1 L1471.1 703.5 L1472.8 702.9 L1474.5 702.2 L1476.2 701.5 L1477.9 700.7 L1479.6 699.9 L1481.3 699.1 L1483.0 698.2 L1484.7 697.3 L1486.4 696.4 L1488.1 695.4 L1489.8 694.4 L1491.5 693.3 L1493.2 692.2 L1495.0 691.1 L1496.7 689.9 L1498.4 688.8 L1500.1 687.6 L1501.8 686.3 L1503.5 685.1 L1505.2 683.8 L1506.9 682.6 L1508.6 681.3 L1510.3 680.0 L1512.0 678.7 L1513.7 677.4 L1515.4 676.1 L1517.1 674.8 L1518.8 673.6 L1520.5 672.3 L1522.2 671.1 L1523.9 669.9 L1525.6 668.8 L1527.3 667.7 L1529.0 666.6 L1530.7 665.6 L1532.4 664.6 L1534.1 663.7 L1535.8 662.8 L1537.5 662.0 L1539.2 661.3 L1540.9 660.7 L1542.6 660.1 L1544.3 659.6 L1546.0 659.2 L1547.7 658.9 L1549.4 658.6 L1551.1 658.5 L1552.8 658.4 L1554.5 658.4 L1556.2 658.5 L1557.9 658.8 L1559.6 659.1 L1561.3 659.4 L1563.1 659.9 L1564.8 660.5 L1566.5 661.1 L1568.2 661.8 L1569.9 662.6 L1571.6 663.5 L1573.3 664.4 L1575.0 665.4 L1576.7 666.4 L1578.4 667.5 L1580.1 668.7 L1581.8 669.9 L1583.5 671.2 L1585.2 672.5 L1586.9 673.8 L1588.6 675.1 L1590.3 676.5 L1592.0 677.9 L1593.7 679.3 L1595.4 680.7 L1597.1 682.2 L1598.8 683.6 L1600.5 685.0 L1602.2 686.4 L1603.9 687.8 L1605.6 689.2 L1607.3 690.5 L1609.0 691.9 L1610.7 693.2 L1612.4 694.4 L1614.1 695.7 L1615.8 696.9 L1617.5 698.1 L1619.2 699.2 L1620.9 700.4 L1622.6 701.4 L1624.3 702.5 L1626.0 703.5 L1627.7 704.4 L1629.4 705.3 L1631.1 706.2 L1632.9 707.0 L1634.6 707.8 L1636.3 708.6 L1638.0 709.3 L1639.7 710.0 L1641.4 710.6 L1643.1 711.2 L1644.8 711.8 L1646.5 712.3 L1648.2 712.8 L1649.9 713.3 L1651.6 713.8 L1653.3 714.2 L1655.0 714.6 L1656.7 714.9 L1658.4 715.3 L1660.1 715.6 L1661.8 715.9 L1663.5 716.1 L1665.2 716.4 L1666.9 716.6 L1668.6 716.9 L1670.3 717.1 L1672.0 717.3 L1673.7 717.4 L1675.4 717.6 L1677.1 717.8 L1678.8 717.9 L1680.5 718.0 L1682.2 718.2 L1683.9 718.3 L1685.6 718.4 L1687.3 718.5 L1689.0 718.6 L1690.7 718.7 L1692.4 718.8 L1694.1 718.9 L1695.8 718.9 L1697.5 719.0 L1699.2 719.1 L1701.0 719.2 L1702.7 719.2 L1704.4 719.3 L1706.1 719.3 L1707.8 719.4 L1709.5 719.4 L1711.2 719.5 L1712.9 719.5 L1714.6 719.6 L1716.3 719.6 L1718.0 719.7 L1719.7 719.7 L1721.4 719.7 L1723.1 719.8 L1724.8 719.8 L1726.5 719.8 L1728.2 719.9 L1729.9 719.9 L1731.6 719.9 L1733.3 720.0 L1735.0 720.0 L1736.7 720.0 L1738.4 720.0 L1740.1 720.1 L1741.8 720.1 L1743.5 720.1 L1745.2 720.1 L1746.9 720.2 L1748.6 720.2 L1750.3 720.2 L1752.0 720.2 L1753.7 720.3 L1755.4 720.3 L1757.1 720.3 L1758.8 720.3 L1760.5 720.3 L1762.2 720.4 L1763.9 720.4 L1765.6 720.4 L1767.3 720.4 L1769.0 720.4 L1770.8 720.5 L1772.5 720.5 L1774.2 720.5 L1775.9 720.5 L1777.6 720.6 L1779.3 720.6 L1781.0 720.6 L1782.7 720.6 L1784.4 720.6 L1786.1 720.7 L1787.8 720.7 L1789.5 720.7 L1791.2 720.7 L1792.9 720.7 L1792.9 720.8 L1791.2 720.8 L1789.5 720.8 L1787.8 720.8 L1786.1 720.7 L1784.4 720.7 L1782.7 720.7 L1781.0 720.7 L1779.3 720.7 L1777.6 720.6 L1775.9 720.6 L1774.2 720.6 L1772.5 720.6 L1770.8 720.6 L1769.0 720.5 L1767.3 720.5 L1765.6 720.5 L1763.9 720.5 L1762.2 720.5 L1760.5 720.4 L1758.8 720.4 L1757.1 720.4 L1755.4 720.4 L1753.7 720.4 L1752.0 720.3 L1750.3 720.3 L1748.6 720.3 L1746.9 720.3 L1745.2 720.3 L1743.5 720.2 L1741.8 720.2 L1740.1 720.2 L1738.4 720.2 L1736.7 720.1 L1735.0 720.1 L1733.3 720.1 L1731.6 720.1 L1729.9 720.0 L1728.2 720.0 L1726.5 720.0 L1724.8 720.0 L1723.1 719.9 L1721.4 719.9 L1719.7 719.9 L1718.0 719.9 L1716.3 719.8 L1714.6 719.8 L1712.9 719.8 L1711.2 719.7 L1709.5 719.7 L1707.8 719.7 L1706.1 719.6 L1704.4 719.6 L1702.7 719.5 L1701.0 719.5 L1699.2 719.5 L1697.5 719.4 L1695.8 719.4 L1694.1 719.3 L1692.4 719.3 L1690.7 719.3 L1689.0 719.2 L1687.3 719.2 L1685.6 719.2 L1683.9 719.1 L1682.2 719.1 L1680.5 719.0 L1678.8 719.0 L1677.1 719.0 L1675.4 718.9 L1673.7 718.9 L1672.0 718.9 L1670.3 718.8 L1668.6 718.8 L1666.9 718.7 L1665.2 718.7 L1663.5 718.7 L1661.8 718.6 L1660.1 718.6 L1658.4 718.6 L1656.7 718.5 L1655.0 718.5 L1653.3 718.5 L1651.6 718.4 L1649.9 718.4 L1648.2 718.4 L1646.5 718.3 L1644.8 718.3 L1643.1 718.2 L1641.4 718.2 L1639.7 718.2 L1638.0 718.1 L1636.3 718.1 L1634.6 718.0 L1632.9 718.0 L1631.1 717.9 L1629.4 717.8 L1627.7 717.8 L1626.0 717.7 L1624.3 717.7 L1622.6 717.6 L1620.9 717.5 L1619.2 717.5 L1617.5 717.4 L1615.8 717.3 L1614.1 717.2 L1612.4 717.2 L1610.7 717.1 L1609.0 717.0 L1607.3 716.9 L1605.6 716.8 L1603.9 716.7 L1602.2 716.6 L1600.5 716.5 L1598.8 716.5 L1597.1 716.4 L1595.4 716.3 L1593.7 716.2 L1592.0 716.1 L1590.3 716.0 L1588.6 715.9 L1586.9 715.8 L1585.2 715.7 L1583.5 715.6 L1581.8 715.5 L1580.1 715.4 L1578.4 715.3 L1576.7 715.2 L1575.0 715.1 L1573.3 715.0 L1571.6 715.0 L1569.9 714.9 L1568.2 714.8 L1566.5 714.7 L1564.8 714.6 L1563.1 714.6 L1561.3 714.5 L1559.6 714.4 L1557.9 714.3 L1556.2 714.3 L1554.5 714.2 L1552.8 714.1 L1551.1 714.1 L1549.4 714.0 L1547.7 713.9 L1546.0 713.9 L1544.3 713.8 L1542.6 713.8 L1540.9 713.7 L1539.2 713.7 L1537.5 713.6 L1535.8 713.6 L1534.1 713.5 L1532.4 713.5 L1530.7 713.4 L1529.0 713.4 L1527.3 713.3 L1525.6 713.3 L1523.9 713.3 L1522.2 713.2 L1520.5 713.2 L1518.8 713.2 L1517.1 713.1 L1515.4 713.1 L1513.7 713.1 L1512.0 713.0 L1510.3 713.0 L1508.6 713.0 L1506.9 712.9 L1505.2 712.9 L1503.5 712.9 L1501.8 712.9 L1500.1 712.8 L1498.4 712.8 L1496.7 712.8 L1495.0 712.7 L1493.2 712.7 L1491.5 712.7 L1489.8 712.7 L1488.1 712.6 L1486.4 712.6 L1484.7 712.6 L1483.0 712.6 L1481.3 712.5 L1479.6 712.5 L1477.9 712.5 L1476.2 712.5 L1474.5 712.4 L1472.8 712.4 L1471.1 712.4 L1469.4 712.4 L1467.7 712.4 L1466.0 712.3 L1464.3 712.3 L1462.6 712.3 L1460.9 712.3 L1459.2 712.2 L1457.5 712.2 L1455.8 712.2 L1454.1 712.2 L1452.4 712.2 L1450.7 712.1 L1449.0 712.1 L1447.3 712.1 L1445.6 712.1 L1443.9 712.1 L1442.2 712.0 L1440.5 712.0 L1438.8 712.0 L1437.1 712.0 L1435.4 712.0 L1433.7 711.9 L1432.0 711.9 L1430.3 711.9 L1428.6 711.9 L1426.9 711.9 L1425.1 711.8 L1423.4 711.8 L1421.7 711.8 L1420.0 711.8 L1418.3 711.8 L1416.6 711.7 L1414.9 711.7 L1413.2 711.7 L1411.5 711.7 L1409.8 711.7 L1408.1 711.6 L1406.4 711.6 L1404.7 711.6 L1403.0 711.6 L1401.3 711.6 L1399.6 711.5 L1397.9 711.5 L1396.2 711.5 L1394.5 711.5 L1392.8 711.5 L1391.1 711.4 L1389.4 711.4 L1387.7 711.4 L1386.0 711.4Z" fill="#ff9cff" fill-opacity="0.50"/>
<path d="M1386.0 711.2 L1387.7 711.2 L1389.4 711.2 L1391.1 711.2 L1392.8 711.2 L1394.5 711.2 L1396.2 711.3 L1397.9 711.3 L1399.6 711.3 L1401.3 711.3 L1403.0 711.3 L1404.7 711.3 L1406.4 711.3 L1408.1 711.4 L1409.8 711.4 L1411.5 711.4 L1413.2 711.4 L1414.9 711.4 L1416.6 711.4 L1418.3 711.5 L1420.0 711.5 L1421.7 711.5 L1423.4 711.5 L1425.1 711.5 L1426.9 711.5 L1428.6 711.5 L1430.3 711.6 L1432.0 711.6 L1433.7 711.6 L1435.4 711.6 L1437.1 711.6 L1438.8 711.6 L1440.5 711.6 L1442.2 711.6 L1443.9 711.6 L1445.6 711.7 L1447.3 711.7 L1449.0 711.7 L1450.7 711.7 L1452.4 711.7 L1454.1 711.7 L1455.8 711.7 L1457.5 711.7 L1459.2 711.7 L1460.9 711.7 L1462.6 711.7 L1464.3 711.7 L1466.0 711.7 L1467.7 711.7 L1469.4 711.7 L1471.1 711.7 L1472.8 711.6 L1474.5 711.6 L1476.2 711.5 L1477.9 711.5 L1479.6 711.4 L1481.3 711.3 L1483.0 711.3 L1484.7 711.1 L1486.4 711.0 L1488.1 710.8 L1489.8 710.6 L1491.5 710.4 L1493.2 710.2 L1495.0 709.9 L1496.7 709.5 L1498.4 709.1 L1500.1 708.7 L1501.8 708.1 L1503.5 707.5 L1505.2 706.9 L1506.9 706.1 L1508.6 705.2 L1510.3 704.2 L1512.0 703.1 L1513.7 701.9 L1515.4 700.5 L1517.1 699.0 L1518.8 697.3 L1520.5 695.4 L1522.2 693.4 L1523.9 691.1 L1525.6 688.6 L1527.3 685.9 L1529.0 683.0 L1530.7 679.8 L1532.4 676.4 L1534.1 672.8 L1535.8 668.8 L1537.5 664.6 L1539.2 660.2 L1540.9 655.4 L1542.6 650.4 L1544.3 645.2 L1546.0 639.7 L1547.7 633.9 L1549.4 628.0 L1551.1 621.8 L1552.8 615.4 L1554.5 608.9 L1556.2 602.2 L1557.9 595.4 L1559.6 588.6 L1561.3 581.7 L1563.1 574.7 L1564.8 567.8 L1566.5 561.0 L1568.2 554.3 L1569.9 547.7 L1571.6 541.4 L1573.3 535.2 L1575.0 529.4 L1576.7 523.9 L1578.4 518.8 L1580.1 514.0 L1581.8 509.8 L1583.5 506.0 L1585.2 502.7 L1586.9 500.0 L1588.6 497.8 L1590.3 496.3 L1592.0 495.3 L1593.7 494.9 L1595.4 495.2 L1597.1 496.1 L1598.8 497.6 L1600.5 499.7 L1602.2 502.3 L1603.9 505.5 L1605.6 509.3 L1607.3 513.5 L1609.0 518.2 L1610.7 523.3 L1612.4 528.9 L1614.1 534.7 L1615.8 540.9 L1617.5 547.3 L1619.2 553.9 L1620.9 560.8 L1622.6 567.7 L1624.3 574.7 L1626.0 581.8 L1627.7 588.8 L1629.4 595.8 L1631.1 602.8 L1632.9 609.6 L1634.6 616.4 L1636.3 622.9 L1638.0 629.3 L1639.7 635.5 L1641.4 641.4 L1643.1 647.1 L1644.8 652.6 L1646.5 657.8 L1648.2 662.7 L1649.9 667.4 L1651.6 671.8 L1653.3 676.0 L1655.0 679.8 L1656.7 683.4 L1658.4 686.8 L1660.1 689.9 L1661.8 692.8 L1663.5 695.4 L1665.2 697.8 L1666.9 700.1 L1668.6 702.1 L1670.3 703.9 L1672.0 705.6 L1673.7 707.1 L1675.4 708.5 L1677.1 709.7 L1678.8 710.8 L1680.5 711.8 L1682.2 712.7 L1683.9 713.5 L1685.6 714.2 L1687.3 714.8 L1689.0 715.3 L1690.7 715.8 L1692.4 716.3 L1694.1 716.7 L1695.8 717.0 L1697.5 717.3 L1699.2 717.6 L1701.0 717.8 L1702.7 718.0 L1704.4 718.2 L1706.1 718.4 L1707.8 718.5 L1709.5 718.7 L1711.2 718.8 L1712.9 718.9 L1714.6 719.0 L1716.3 719.1 L1718.0 719.1 L1719.7 719.2 L1721.4 719.3 L1723.1 719.3 L1724.8 719.4 L1726.5 719.4 L1728.2 719.5 L1729.9 719.5 L1731.6 719.6 L1733.3 719.6 L1735.0 719.6 L1736.7 719.7 L1738.4 719.7 L1740.1 719.8 L1741.8 719.8 L1743.5 719.8 L1745.2 719.8 L1746.9 719.9 L1748.6 719.9 L1750.3 719.9 L1752.0 720.0 L1753.7 720.0 L1755.4 720.0 L1757.1 720.0 L1758.8 720.1 L1760.5 720.1 L1762.2 720.1 L1763.9 720.2 L1765.6 720.2 L1767.3 720.2 L1769.0 720.2 L1770.8 720.3 L1772.5 720.3 L1774.2 720.3 L1775.9 720.3 L1777.6 720.4 L1779.3 720.4 L1781.0 720.4 L1782.7 720.4 L1784.4 720.5 L1786.1 720.5 L1787.8 720.5 L1789.5 720.5 L1791.2 720.6 L1792.9 720.6 L1792.9 720.8 L1791.2 720.8 L1789.5 720.8 L1787.8 720.8 L1786.1 720.7 L1784.4 720.7 L1782.7 720.7 L1781.0 720.7 L1779.3 720.7 L1777.6 720.6 L1775.9 720.6 L1774.2 720.6 L1772.5 720.6 L1770.8 720.6 L1769.0 720.5 L1767.3 720.5 L1765.6 720.5 L1763.9 720.5 L1762.2 720.5 L1760.5 720.4 L1758.8 720.4 L1757.1 720.4 L1755.4 720.4 L1753.7 720.4 L1752.0 720.3 L1750.3 720.3 L1748.6 720.3 L1746.9 720.3 L1745.2 720.3 L1743.5 720.2 L1741.8 720.2 L1740.1 720.2 L1738.4 720.2 L1736.7 720.1 L1735.0 720.1 L1733.3 720.1 L1731.6 720.1 L1729.9 720.0 L1728.2 720.0 L1726.5 720.0 L1724.8 720.0 L1723.1 719.9 L1721.4 719.9 L1719.7 719.9 L1718.0 719.9 L1716.3 719.8 L1714.6 719.8 L1712.9 719.8 L1711.2 719.7 L1709.5 719.7 L1707.8 719.7 L1706.1 719.6 L1704.4 719.6 L1702.7 719.5 L1701.0 719.5 L1699.2 719.5 L1697.5 719.4 L1695.8 719.4 L1694.1 719.3 L1692.4 719.3 L1690.7 719.3 L1689.0 719.2 L1687.3 719.2 L1685.6 719.2 L1683.9 719.1 L1682.2 719.1 L1680.5 719.0 L1678.8 719.0 L1677.1 719.0 L1675.4 718.9 L1673.7 718.9 L1672.0 718.9 L1670.3 718.8 L1668.6 718.8 L1666.9 718.7 L1665.2 718.7 L1663.5 718.7 L1661.8 718.6 L1660.1 718.6 L1658.4 718.6 L1656.7 718.5 L1655.0 718.5 L1653.3 718.5 L1651.6 718.4 L1649.9 718.4 L1648.2 718.4 L1646.5 718.3 L1644.8 718.3 L1643.1 718.2 L1641.4 718.2 L1639.7 718.2 L1638.0 718.1 L1636.3 718.1 L1634.6 718.0 L1632.9 718.0 L1631.1 717.9 L1629.4 717.8 L1627.7 717.8 L1626.0 717.7 L1624.3 717.7 L1622.6 717.6 L1620.9 717.5 L1619.2 717.5 L1617.5 717.4 L1615.8 717.3 L1614.1 717.2 L1612.4 717.2 L1610.7 717.1 L1609.0 717.0 L1607.3 716.9 L1605.6 716.8 L1603.9 716.7 L1602.2 716.6 L1600.5 716.5 L1598.8 716.5 L1597.1 716.4 L1595.4 716.3 L1593.7 716.2 L1592.0 716.1 L1590.3 716.0 L1588.6 715.9 L1586.9 715.8 L1585.2 715.7 L1583.5 715.6 L1581.8 715.5 L1580.1 715.4 L1578.4 715.3 L1576.7 715.2 L1575.0 715.1 L1573.3 715.0 L1571.6 715.0 L1569.9 714.9 L1568.2 714.8 L1566.5 714.7 L1564.8 714.6 L1563.1 714.6 L1561.3 714.5 L1559.6 714.4 L1557.9 714.3 L1556.2 714.3 L1554.5 714.2 L1552.8 714.1 L1551.1 714.1 L1549.4 714.0 L1547.7 713.9 L1546.0 713.9 L1544.3 713.8 L1542.6 713.8 L1540.9 713.7 L1539.2 713.7 L1537.5 713.6 L1535.8 713.6 L1534.1 713.5 L1532.4 713.5 L1530.7 713.4 L1529.0 713.4 L1527.3 713.3 L1525.6 713.3 L1523.9 713.3 L1522.2 713.2 L1520.5 713.2 L1518.8 713.2 L1517.1 713.1 L1515.4 713.1 L1513.7 713.1 L1512.0 713.0 L1510.3 713.0 L1508.6 713.0 L1506.9 712.9 L1505.2 712.9 L1503.5 712.9 L1501.8 712.9 L1500.1 712.8 L1498.4 712.8 L1496.7 712.8 L1495.0 712.7 L1493.2 712.7 L1491.5 712.7 L1489.8 712.7 L1488.1 712.6 L1486.4 712.6 L1484.7 712.6 L1483.0 712.6 L1481.3 712.5 L1479.6 712.5 L1477.9 712.5 L1476.2 712.5 L1474.5 712.4 L1472.8 712.4 L1471.1 712.4 L1469.4 712.4 L1467.7 712.4 L1466.0 712.3 L1464.3 712.3 L1462.6 712.3 L1460.9 712.3 L1459.2 712.2 L1457.5 712.2 L1455.8 712.2 L1454.1 712.2 L1452.4 712.2 L1450.7 712.1 L1449.0 712.1 L1447.3 712.1 L1445.6 712.1 L1443.9 712.1 L1442.2 712.0 L1440.5 712.0 L1438.8 712.0 L1437.1 712.0 L1435.4 712.0 L1433.7 711.9 L1432.0 711.9 L1430.3 711.9 L1428.6 711.9 L1426.9 711.9 L1425.1 711.8 L1423.4 711.8 L1421.7 711.8 L1420.0 711.8 L1418.3 711.8 L1416.6 711.7 L1414.9 711.7 L1413.2 711.7 L1411.5 711.7 L1409.8 711.7 L1408.1 711.6 L1406.4 711.6 L1404.7 711.6 L1403.0 711.6 L1401.3 711.6 L1399.6 711.5 L1397.9 711.5 L1396.2 711.5 L1394.5 711.5 L1392.8 711.5 L1391.1 711.4 L1389.4 711.4 L1387.7 711.4 L1386.0 711.4Z" fill="#ffa040" fill-opacity="0.60"/>
<path d="M1386.0 711.4 L1387.7 711.4 L1389.4 711.4 L1391.1 711.4 L1392.8 711.4 L1394.5 711.5 L1396.2 711.5 L1397.9 711.5 L1399.6 711.5 L1401.3 711.5 L1403.0 711.6 L1404.7 711.6 L1406.4 711.6 L1408.1 711.6 L1409.8 711.6 L1411.5 711.7 L1413.2 711.7 L1414.9 711.7 L1416.6 711.7 L1418.3 711.7 L1420.0 711.8 L1421.7 711.8 L1423.4 711.8 L1425.1 711.8 L1426.9 711.8 L1428.6 711.9 L1430.3 711.9 L1432.0 711.9 L1433.7 711.9 L1435.4 711.9 L1437.1 712.0 L1438.8 712.0 L1440.5 712.0 L1442.2 712.0 L1443.9 712.0 L1445.6 712.1 L1447.3 712.1 L1449.0 712.1 L1450.7 712.1 L1452.4 712.1 L1454.1 712.2 L1455.8 712.2 L1457.5 712.2 L1459.2 712.2 L1460.9 712.2 L1462.6 712.3 L1464.3 712.3 L1466.0 712.3 L1467.7 712.3 L1469.4 712.4 L1471.1 712.4 L1472.8 712.4 L1474.5 712.4 L1476.2 712.4 L1477.9 712.5 L1479.6 712.5 L1481.3 712.5 L1483.0 712.5 L1484.7 712.6 L1486.4 712.6 L1488.1 712.6 L1489.8 712.6 L1491.5 712.7 L1493.2 712.7 L1495.0 712.7 L1496.7 712.7 L1498.4 712.8 L1500.1 712.8 L1501.8 712.8 L1503.5 712.8 L1505.2 712.9 L1506.9 712.9 L1508.6 712.9 L1510.3 713.0 L1512.0 713.0 L1513.7 713.0 L1515.4 713.1 L1517.1 713.1 L1518.8 713.1 L1520.5 713.2 L1522.2 713.2 L1523.9 713.2 L1525.6 713.3 L1527.3 713.3 L1529.0 713.3 L1530.7 713.4 L1532.4 713.4 L1534.1 713.5 L1535.8 713.5 L1537.5 713.6 L1539.2 713.6 L1540.9 713.7 L1542.6 713.7 L1544.3 713.8 L1546.0 713.8 L1547.7 713.9 L1549.4 713.9 L1551.1 714.0 L1552.8 714.1 L1554.5 714.1 L1556.2 714.2 L1557.9 714.3 L1559.6 714.3 L1561.3 714.4 L1563.1 714.5 L1564.8 714.5 L1566.5 714.6 L1568.2 714.7 L1569.9 714.8 L1571.6 714.9 L1573.3 715.0 L1575.0 715.0 L1576.7 715.1 L1578.4 715.2 L1580.1 715.3 L1581.8 715.4 L1583.5 715.5 L1585.2 715.6 L1586.9 715.7 L1588.6 715.8 L1590.3 715.9 L1592.0 715.9 L1593.7 716.0 L1595.4 716.1 L1597.1 716.2 L1598.8 716.3 L1600.5 716.4 L1602.2 716.5 L1603.9 716.6 L1605.6 716.6 L1607.3 716.7 L1609.0 716.8 L1610.7 716.8 L1612.4 716.9 L1614.1 716.9 L1615.8 717.0 L1617.5 717.0 L1619.2 717.0 L1620.9 717.0 L1622.6 717.0 L1624.3 716.9 L1626.0 716.8 L1627.7 716.7 L1629.4 716.6 L1631.1 716.4 L1632.9 716.1 L1634.6 715.8 L1636.3 715.4 L1638.0 714.9 L1639.7 714.4 L1641.4 713.7 L1643.1 713.0 L1644.8 712.1 L1646.5 711.1 L1648.2 710.0 L1649.9 708.7 L1651.6 707.2 L1653.3 705.6 L1655.0 703.9 L1656.7 701.9 L1658.4 699.8 L1660.1 697.5 L1661.8 695.1 L1663.5 692.5 L1665.2 689.9 L1666.9 687.1 L1668.6 684.2 L1670.3 681.2 L1672.0 678.3 L1673.7 675.3 L1675.4 672.4 L1677.1 669.5 L1678.8 666.8 L1680.5 664.2 L1682.2 661.9 L1683.9 659.7 L1685.6 657.9 L1687.3 656.3 L1689.0 655.1 L1690.7 654.2 L1692.4 653.7 L1694.1 653.6 L1695.8 653.8 L1697.5 654.5 L1699.2 655.5 L1701.0 656.8 L1702.7 658.5 L1704.4 660.5 L1706.1 662.7 L1707.8 665.2 L1709.5 667.9 L1711.2 670.7 L1712.9 673.6 L1714.6 676.6 L1716.3 679.7 L1718.0 682.7 L1719.7 685.7 L1721.4 688.6 L1723.1 691.5 L1724.8 694.2 L1726.5 696.8 L1728.2 699.3 L1729.9 701.6 L1731.6 703.7 L1733.3 705.7 L1735.0 707.5 L1736.7 709.2 L1738.4 710.6 L1740.1 712.0 L1741.8 713.2 L1743.5 714.2 L1745.2 715.1 L1746.9 715.9 L1748.6 716.6 L1750.3 717.2 L1752.0 717.7 L1753.7 718.2 L1755.4 718.6 L1757.1 718.9 L1758.8 719.2 L1760.5 719.4 L1762.2 719.6 L1763.9 719.7 L1765.6 719.9 L1767.3 720.0 L1769.0 720.1 L1770.8 720.2 L1772.5 720.2 L1774.2 720.3 L1775.9 720.3 L1777.6 720.4 L1779.3 720.4 L1781.0 720.5 L1782.7 720.5 L1784.4 720.5 L1786.1 720.6 L1787.8 720.6 L1789.5 720.6 L1791.2 720.7 L1792.9 720.7 L1792.9 720.8 L1791.2 720.8 L1789.5 720.8 L1787.8 720.8 L1786.1 720.7 L1784.4 720.7 L1782.7 720.7 L1781.0 720.7 L1779.3 720.7 L1777.6 720.6 L1775.9 720.6 L1774.2 720.6 L1772.5 720.6 L1770.8 720.6 L1769.0 720.5 L1767.3 720.5 L1765.6 720.5 L1763.9 720.5 L1762.2 720.5 L1760.5 720.4 L1758.8 720.4 L1757.1 720.4 L1755.4 720.4 L1753.7 720.4 L1752.0 720.3 L1750.3 720.3 L1748.6 720.3 L1746.9 720.3 L1745.2 720.3 L1743.5 720.2 L1741.8 720.2 L1740.1 720.2 L1738.4 720.2 L1736.7 720.1 L1735.0 720.1 L1733.3 720.1 L1731.6 720.1 L1729.9 720.0 L1728.2 720.0 L1726.5 720.0 L1724.8 720.0 L1723.1 719.9 L1721.4 719.9 L1719.7 719.9 L1718.0 719.9 L1716.3 719.8 L1714.6 719.8 L1712.9 719.8 L1711.2 719.7 L1709.5 719.7 L1707.8 719.7 L1706.1 719.6 L1704.4 719.6 L1702.7 719.5 L1701.0 719.5 L1699.2 719.5 L1697.5 719.4 L1695.8 719.4 L1694.1 719.3 L1692.4 719.3 L1690.7 719.3 L1689.0 719.2 L1687.3 719.2 L1685.6 719.2 L1683.9 719.1 L1682.2 719.1 L1680.5 719.0 L1678.8 719.0 L1677.1 719.0 L1675.4 718.9 L1673.7 718.9 L1672.0 718.9 L1670.3 718.8 L1668.6 718.8 L1666.9 718.7 L1665.2 718.7 L1663.5 718.7 L1661.8 718.6 L1660.1 718.6 L1658.4 718.6 L1656.7 718.5 L1655.0 718.5 L1653.3 718.5 L1651.6 718.4 L1649.9 718.4 L1648.2 718.4 L1646.5 718.3 L1644.8 718.3 L1643.1 718.2 L1641.4 718.2 L1639.7 718.2 L1638.0 718.1 L1636.3 718.1 L1634.6 718.0 L1632.9 718.0 L1631.1 717.9 L1629.4 717.8 L1627.7 717.8 L1626.0 717.7 L1624.3 717.7 L1622.6 717.6 L1620.9 717.5 L1619.2 717.5 L1617.5 717.4 L1615.8 717.3 L1614.1 717.2 L1612.4 717.2 L1610.7 717.1 L1609.0 717.0 L1607.3 716.9 L1605.6 716.8 L1603.9 716.7 L1602.2 716.6 L1600.5 716.5 L1598.8 716.5 L1597.1 716.4 L1595.4 716.3 L1593.7 716.2 L1592.0 716.1 L1590.3 716.0 L1588.6 715.9 L1586.9 715.8 L1585.2 715.7 L1583.5 715.6 L1581.8 715.5 L1580.1 715.4 L1578.4 715.3 L1576.7 715.2 L1575.0 715.1 L1573.3 715.0 L1571.6 715.0 L1569.9 714.9 L1568.2 714.8 L1566.5 714.7 L1564.8 714.6 L1563.1 714.6 L1561.3 714.5 L1559.6 714.4 L1557.9 714.3 L1556.2 714.3 L1554.5 714.2 L1552.8 714.1 L1551.1 714.1 L1549.4 714.0 L1547.7 713.9 L1546.0 713.9 L1544.3 713.8 L1542.6 713.8 L1540.9 713.7 L1539.2 713.7 L1537.5 713.6 L1535.8 713.6 L1534.1 713.5 L1532.4 713.5 L1530.7 713.4 L1529.0 713.4 L1527.3 713.3 L1525.6 713.3 L1523.9 713.3 L1522.2 713.2 L1520.5 713.2 L1518.8 713.2 L1517.1 713.1 L1515.4 713.1 L1513.7 713.1 L1512.0 713.0 L1510.3 713.0 L1508.6 713.0 L1506.9 712.9 L1505.2 712.9 L1503.5 712.9 L1501.8 712.9 L1500.1 712.8 L1498.4 712.8 L1496.7 712.8 L1495.0 712.7 L1493.2 712.7 L1491.5 712.7 L1489.8 712.7 L1488.1 712.6 L1486.4 712.6 L1484.7 712.6 L1483.0 712.6 L1481.3 712.5 L1479.6 712.5 L1477.9 712.5 L1476.2 712.5 L1474.5 712.4 L1472.8 712.4 L1471.1 712.4 L1469.4 712.4 L1467.7 712.4 L1466.0 712.3 L1464.3 712.3 L1462.6 712.3 L1460.9 712.3 L1459.2 712.2 L1457.5 712.2 L1455.8 712.2 L1454.1 712.2 L1452.4 712.2 L1450.7 712.1 L1449.0 712.1 L1447.3 712.1 L1445.6 712.1 L1443.9 712.1 L1442.2 712.0 L1440.5 712.0 L1438.8 712.0 L1437.1 712.0 L1435.4 712.0 L1433.7 711.9 L1432.0 711.9 L1430.3 711.9 L1428.6 711.9 L1426.9 711.9 L1425.1 711.8 L1423.4 711.8 L1421.7 711.8 L1420.0 711.8 L1418.3 711.8 L1416.6 711.7 L1414.9 711.7 L1413.2 711.7 L1411.5 711.7 L1409.8 711.7 L1408.1 711.6 L1406.4 711.6 L1404.7 711.6 L1403.0 711.6 L1401.3 711.6 L1399.6 711.5 L1397.9 711.5 L1396.2 711.5 L1394.5 711.5 L1392.8 711.5 L1391.1 711.4 L1389.4 711.4 L1387.7 711.4 L1386.0 711.4Z" fill="#ffd83c" fill-opacity="0.54"/>
<path d="M1350.3 711.2 L1353.9 710.8 L1357.4 711.0 L1361.0 711.5 L1364.6 712.2 L1368.1 710.7 L1371.7 710.5 L1375.3 711.7 L1378.9 710.3 L1382.4 711.2 L1386.0 709.8 L1389.6 710.7 L1393.1 711.2 L1396.7 710.5 L1400.3 711.0 L1403.8 711.0 L1407.4 711.0 L1411.0 711.0 L1414.5 710.6 L1418.1 710.5 L1421.7 710.6 L1425.3 709.8 L1428.8 711.1 L1432.4 710.5 L1436.0 709.7 L1439.5 710.3 L1443.1 708.7 L1446.7 708.6 L1450.2 708.5 L1453.8 707.5 L1457.4 707.3 L1460.9 706.8 L1464.5 704.8 L1468.1 703.6 L1471.7 702.6 L1475.2 701.2 L1478.8 700.6 L1482.4 698.2 L1485.9 696.1 L1489.5 693.6 L1493.1 690.7 L1496.6 689.0 L1500.2 686.2 L1503.8 682.2 L1507.3 679.1 L1510.9 675.4 L1514.5 669.5 L1518.1 664.9 L1521.6 658.4 L1525.2 651.3 L1528.8 642.4 L1532.3 632.7 L1535.9 623.0 L1539.5 611.3 L1543.0 599.4 L1546.6 585.0 L1550.2 571.6 L1553.7 558.3 L1557.3 543.3 L1560.9 528.7 L1564.5 514.8 L1568.0 501.9 L1571.6 489.3 L1575.2 478.0 L1578.7 469.0 L1582.3 462.6 L1585.9 457.4 L1589.4 456.0 L1593.0 457.3 L1596.6 459.9 L1600.1 465.8 L1603.7 474.9 L1607.3 485.5 L1610.9 498.4 L1614.4 513.6 L1618.0 529.7 L1621.6 545.8 L1625.1 563.1 L1628.7 579.0 L1632.3 595.0 L1635.8 610.1 L1639.4 623.8 L1643.0 638.0 L1646.5 647.9 L1650.1 657.7 L1653.7 664.2 L1657.3 669.4 L1660.8 672.5 L1664.4 672.1 L1668.0 671.3 L1671.5 667.9 L1675.1 664.5 L1678.7 660.4 L1682.2 656.2 L1685.8 652.3 L1689.4 650.8 L1692.9 650.5 L1696.5 650.8 L1700.1 654.0 L1703.7 658.1 L1707.2 663.4 L1710.8 668.8 L1714.4 675.2 L1717.9 682.0 L1721.5 688.9 L1725.1 694.0 L1728.6 699.2 L1732.2 704.0 L1735.8 708.1 L1739.3 711.3 L1742.9 713.5 L1746.5 714.6 L1750.1 716.6 L1753.6 718.4 L1757.2 718.2 L1760.8 719.2 L1764.3 718.3 L1767.9 719.8 L1771.5 719.8 L1775.0 719.9 L1778.6 719.9 L1782.2 720.1 L1785.7 720.2 L1789.3 720.4 L1792.9 720.6 L1796.5 720.6 L1800.0 720.9 L1803.6 720.7" fill="none" stroke="#707070" stroke-width="2" stroke-dasharray="4.2 3.6" stroke-linejoin="round"/>
<path d="M1386.0 711.0 L1387.7 711.0 L1389.4 711.0 L1391.1 711.0 L1392.8 711.0 L1394.5 711.0 L1396.2 711.0 L1397.9 711.0 L1399.6 711.0 L1401.3 711.0 L1403.0 711.0 L1404.7 711.0 L1406.4 711.0 L1408.1 711.0 L1409.8 711.0 L1411.5 711.0 L1413.2 710.9 L1414.9 710.9 L1416.6 710.9 L1418.3 710.9 L1420.0 710.8 L1421.7 710.8 L1423.4 710.7 L1425.1 710.7 L1426.9 710.6 L1428.6 710.5 L1430.3 710.4 L1432.0 710.3 L1433.7 710.2 L1435.4 710.1 L1437.1 710.0 L1438.8 709.8 L1440.5 709.7 L1442.2 709.5 L1443.9 709.3 L1445.6 709.1 L1447.3 708.9 L1449.0 708.6 L1450.7 708.3 L1452.4 708.0 L1454.1 707.7 L1455.8 707.4 L1457.5 707.0 L1459.2 706.6 L1460.9 706.2 L1462.6 705.7 L1464.3 705.2 L1466.0 704.7 L1467.7 704.1 L1469.4 703.5 L1471.1 702.9 L1472.8 702.2 L1474.5 701.5 L1476.2 700.8 L1477.9 700.0 L1479.6 699.2 L1481.3 698.4 L1483.0 697.5 L1484.7 696.5 L1486.4 695.6 L1488.1 694.6 L1489.8 693.5 L1491.5 692.4 L1493.2 691.2 L1495.0 690.0 L1496.7 688.7 L1498.4 687.4 L1500.1 686.0 L1501.8 684.5 L1503.5 682.9 L1505.2 681.3 L1506.9 679.5 L1508.6 677.6 L1510.3 675.6 L1512.0 673.5 L1513.7 671.2 L1515.4 668.7 L1517.1 666.1 L1518.8 663.3 L1520.5 660.3 L1522.2 657.0 L1523.9 653.6 L1525.6 650.0 L1527.3 646.1 L1529.0 641.9 L1530.7 637.6 L1532.4 633.0 L1534.1 628.2 L1535.8 623.1 L1537.5 617.8 L1539.2 612.3 L1540.9 606.6 L1542.6 600.6 L1544.3 594.5 L1546.0 588.2 L1547.7 581.8 L1549.4 575.2 L1551.1 568.5 L1552.8 561.7 L1554.5 554.8 L1556.2 547.9 L1557.9 541.0 L1559.6 534.1 L1561.3 527.2 L1563.1 520.5 L1564.8 513.8 L1566.5 507.4 L1568.2 501.1 L1569.9 495.1 L1571.6 489.3 L1573.3 483.9 L1575.0 478.9 L1576.7 474.2 L1578.4 470.0 L1580.1 466.3 L1581.8 463.1 L1583.5 460.4 L1585.2 458.3 L1586.9 456.7 L1588.6 455.8 L1590.3 455.5 L1592.0 455.9 L1593.7 456.9 L1595.4 458.5 L1597.1 460.7 L1598.8 463.6 L1600.5 467.0 L1602.2 471.0 L1603.9 475.6 L1605.6 480.7 L1607.3 486.3 L1609.0 492.3 L1610.7 498.7 L1612.4 505.4 L1614.1 512.5 L1615.8 519.8 L1617.5 527.4 L1619.2 535.1 L1620.9 542.9 L1622.6 550.8 L1624.3 558.8 L1626.0 566.7 L1627.7 574.6 L1629.4 582.4 L1631.1 590.0 L1632.9 597.5 L1634.6 604.8 L1636.3 611.9 L1638.0 618.8 L1639.7 625.3 L1641.4 631.5 L1643.1 637.4 L1644.8 642.9 L1646.5 648.0 L1648.2 652.7 L1649.9 656.9 L1651.6 660.6 L1653.3 663.9 L1655.0 666.6 L1656.7 668.8 L1658.4 670.5 L1660.1 671.7 L1661.8 672.3 L1663.5 672.5 L1665.2 672.3 L1666.9 671.6 L1668.6 670.6 L1670.3 669.2 L1672.0 667.6 L1673.7 665.8 L1675.4 663.9 L1677.1 661.9 L1678.8 660.0 L1680.5 658.1 L1682.2 656.3 L1683.9 654.6 L1685.6 653.2 L1687.3 652.1 L1689.0 651.3 L1690.7 650.7 L1692.4 650.5 L1694.1 650.7 L1695.8 651.2 L1697.5 652.1 L1699.2 653.3 L1701.0 654.9 L1702.7 656.7 L1704.4 658.8 L1706.1 661.2 L1707.8 663.8 L1709.5 666.6 L1711.2 669.5 L1712.9 672.5 L1714.6 675.6 L1716.3 678.7 L1718.0 681.8 L1719.7 684.8 L1721.4 687.8 L1723.1 690.7 L1724.8 693.5 L1726.5 696.1 L1728.2 698.6 L1729.9 700.9 L1731.6 703.1 L1733.3 705.1 L1735.0 706.9 L1736.7 708.6 L1738.4 710.1 L1740.1 711.4 L1741.8 712.6 L1743.5 713.7 L1745.2 714.6 L1746.9 715.4 L1748.6 716.1 L1750.3 716.7 L1752.0 717.3 L1753.7 717.7 L1755.4 718.1 L1757.1 718.4 L1758.8 718.7 L1760.5 719.0 L1762.2 719.2 L1763.9 719.3 L1765.6 719.5 L1767.3 719.6 L1769.0 719.7 L1770.8 719.8 L1772.5 719.9 L1774.2 719.9 L1775.9 720.0 L1777.6 720.0 L1779.3 720.1 L1781.0 720.1 L1782.7 720.2 L1784.4 720.2 L1786.1 720.2 L1787.8 720.3 L1789.5 720.3 L1791.2 720.3 L1792.9 720.4" fill="none" stroke="#f54545" stroke-opacity="0.78" stroke-width="2.3" stroke-linejoin="round"/>
<path d="M1386.0 711.4 L1387.7 711.4 L1389.4 711.4 L1391.1 711.4 L1392.8 711.5 L1394.5 711.5 L1396.2 711.5 L1397.9 711.5 L1399.6 711.5 L1401.3 711.6 L1403.0 711.6 L1404.7 711.6 L1406.4 711.6 L1408.1 711.6 L1409.8 711.7 L1411.5 711.7 L1413.2 711.7 L1414.9 711.7 L1416.6 711.7 L1418.3 711.8 L1420.0 711.8 L1421.7 711.8 L1423.4 711.8 L1425.1 711.8 L1426.9 711.9 L1428.6 711.9 L1430.3 711.9 L1432.0 711.9 L1433.7 711.9 L1435.4 712.0 L1437.1 712.0 L1438.8 712.0 L1440.5 712.0 L1442.2 712.0 L1443.9 712.1 L1445.6 712.1 L1447.3 712.1 L1449.0 712.1 L1450.7 712.1 L1452.4 712.2 L1454.1 712.2 L1455.8 712.2 L1457.5 712.2 L1459.2 712.2 L1460.9 712.3 L1462.6 712.3 L1464.3 712.3 L1466.0 712.3 L1467.7 712.4 L1469.4 712.4 L1471.1 712.4 L1472.8 712.4 L1474.5 712.4 L1476.2 712.5 L1477.9 712.5 L1479.6 712.5 L1481.3 712.5 L1483.0 712.6 L1484.7 712.6 L1486.4 712.6 L1488.1 712.6 L1489.8 712.7 L1491.5 712.7 L1493.2 712.7 L1495.0 712.7 L1496.7 712.8 L1498.4 712.8 L1500.1 712.8 L1501.8 712.9 L1503.5 712.9 L1505.2 712.9 L1506.9 712.9 L1508.6 713.0 L1510.3 713.0 L1512.0 713.0 L1513.7 713.1 L1515.4 713.1 L1517.1 713.1 L1518.8 713.2 L1520.5 713.2 L1522.2 713.2 L1523.9 713.3 L1525.6 713.3 L1527.3 713.3 L1529.0 713.4 L1530.7 713.4 L1532.4 713.5 L1534.1 713.5 L1535.8 713.6 L1537.5 713.6 L1539.2 713.7 L1540.9 713.7 L1542.6 713.8 L1544.3 713.8 L1546.0 713.9 L1547.7 713.9 L1549.4 714.0 L1551.1 714.1 L1552.8 714.1 L1554.5 714.2 L1556.2 714.3 L1557.9 714.3 L1559.6 714.4 L1561.3 714.5 L1563.1 714.6 L1564.8 714.6 L1566.5 714.7 L1568.2 714.8 L1569.9 714.9 L1571.6 715.0 L1573.3 715.0 L1575.0 715.1 L1576.7 715.2 L1578.4 715.3 L1580.1 715.4 L1581.8 715.5 L1583.5 715.6 L1585.2 715.7 L1586.9 715.8 L1588.6 715.9 L1590.3 716.0 L1592.0 716.1 L1593.7 716.2 L1595.4 716.3 L1597.1 716.4 L1598.8 716.5 L1600.5 716.5 L1602.2 716.6 L1603.9 716.7 L1605.6 716.8 L1607.3 716.9 L1609.0 717.0 L1610.7 717.1 L1612.4 717.2 L1614.1 717.2 L1615.8 717.3 L1617.5 717.4 L1619.2 717.5 L1620.9 717.5 L1622.6 717.6 L1624.3 717.7 L1626.0 717.7 L1627.7 717.8 L1629.4 717.8 L1631.1 717.9 L1632.9 718.0 L1634.6 718.0 L1636.3 718.1 L1638.0 718.1 L1639.7 718.2 L1641.4 718.2 L1643.1 718.2 L1644.8 718.3 L1646.5 718.3 L1648.2 718.4 L1649.9 718.4 L1651.6 718.4 L1653.3 718.5 L1655.0 718.5 L1656.7 718.5 L1658.4 718.6 L1660.1 718.6 L1661.8 718.6 L1663.5 718.7 L1665.2 718.7 L1666.9 718.7 L1668.6 718.8 L1670.3 718.8 L1672.0 718.9 L1673.7 718.9 L1675.4 718.9 L1677.1 719.0 L1678.8 719.0 L1680.5 719.0 L1682.2 719.1 L1683.9 719.1 L1685.6 719.2 L1687.3 719.2 L1689.0 719.2 L1690.7 719.3 L1692.4 719.3 L1694.1 719.3 L1695.8 719.4 L1697.5 719.4 L1699.2 719.5 L1701.0 719.5 L1702.7 719.5 L1704.4 719.6 L1706.1 719.6 L1707.8 719.7 L1709.5 719.7 L1711.2 719.7 L1712.9 719.8 L1714.6 719.8 L1716.3 719.8 L1718.0 719.9 L1719.7 719.9 L1721.4 719.9 L1723.1 719.9 L1724.8 720.0 L1726.5 720.0 L1728.2 720.0 L1729.9 720.0 L1731.6 720.1 L1733.3 720.1 L1735.0 720.1 L1736.7 720.1 L1738.4 720.2 L1740.1 720.2 L1741.8 720.2 L1743.5 720.2 L1745.2 720.3 L1746.9 720.3 L1748.6 720.3 L1750.3 720.3 L1752.0 720.3 L1753.7 720.4 L1755.4 720.4 L1757.1 720.4 L1758.8 720.4 L1760.5 720.4 L1762.2 720.5 L1763.9 720.5 L1765.6 720.5 L1767.3 720.5 L1769.0 720.5 L1770.8 720.6 L1772.5 720.6 L1774.2 720.6 L1775.9 720.6 L1777.6 720.6 L1779.3 720.7 L1781.0 720.7 L1782.7 720.7 L1784.4 720.7 L1786.1 720.7 L1787.8 720.8 L1789.5 720.8 L1791.2 720.8 L1792.9 720.8" fill="none" stroke="#7f7f7f" stroke-width="2.2"/>
</g>
<path d="M110.8 55.0 H574.0 V763.0 H110.8 Z M110.8 409.0 H574.0" fill="none" stroke="#161616" stroke-width="2"/>
<path d="M574.0 409.0 v9.0M540.9 409.0 v4.5M507.8 409.0 v9.0M474.7 409.0 v4.5M441.7 409.0 v9.0M408.6 409.0 v4.5M375.5 409.0 v9.0M342.4 409.0 v4.5M309.3 409.0 v9.0M276.2 409.0 v4.5M243.1 409.0 v9.0M210.1 409.0 v4.5M177.0 409.0 v9.0M143.9 409.0 v4.5M110.8 409.0 v9.0M574.0 763.0 v9.0M540.9 763.0 v4.5M507.8 763.0 v9.0M474.7 763.0 v4.5M441.7 763.0 v9.0M408.6 763.0 v4.5M375.5 763.0 v9.0M342.4 763.0 v4.5M309.3 763.0 v9.0M276.2 763.0 v4.5M243.1 763.0 v9.0M210.1 763.0 v4.5M177.0 763.0 v9.0M143.9 763.0 v4.5M110.8 763.0 v9.0M110.8 409.0 h-9.0M110.8 364.8 h-4.5M110.8 320.5 h-9.0M110.8 276.2 h-4.5M110.8 232.0 h-9.0M110.8 187.8 h-4.5M110.8 143.5 h-9.0M110.8 99.2 h-4.5M110.8 55.0 h-9.0M110.8 763.0 h-9.0M110.8 718.8 h-4.5M110.8 674.5 h-9.0M110.8 630.2 h-4.5M110.8 586.0 h-9.0M110.8 541.8 h-4.5M110.8 497.5 h-9.0" fill="none" stroke="#161616" stroke-width="2"/>
<path d="M730.2 55.0 H1194.2 V763.0 H730.2 Z M730.2 409.0 H1194.2" fill="none" stroke="#161616" stroke-width="2"/>
<path d="M1194.2 409.0 v4.5M1158.5 409.0 v9.0M1122.8 409.0 v4.5M1087.1 409.0 v9.0M1051.4 409.0 v4.5M1015.7 409.0 v9.0M980.0 409.0 v4.5M944.4 409.0 v9.0M908.7 409.0 v4.5M873.0 409.0 v9.0M837.3 409.0 v4.5M801.6 409.0 v9.0M765.9 409.0 v4.5M730.2 409.0 v9.0M1194.2 763.0 v4.5M1158.5 763.0 v9.0M1122.8 763.0 v4.5M1087.1 763.0 v9.0M1051.4 763.0 v4.5M1015.7 763.0 v9.0M980.0 763.0 v4.5M944.4 763.0 v9.0M908.7 763.0 v4.5M873.0 763.0 v9.0M837.3 763.0 v4.5M801.6 763.0 v9.0M765.9 763.0 v4.5M730.2 763.0 v9.0M730.2 409.0 h-9.0M730.2 364.8 h-4.5M730.2 320.5 h-9.0M730.2 276.2 h-4.5M730.2 232.0 h-9.0M730.2 187.8 h-4.5M730.2 143.5 h-9.0M730.2 99.2 h-4.5M730.2 55.0 h-9.0M730.2 763.0 h-9.0M730.2 718.8 h-4.5M730.2 674.5 h-9.0M730.2 630.2 h-4.5M730.2 586.0 h-9.0M730.2 541.8 h-4.5M730.2 497.5 h-9.0" fill="none" stroke="#161616" stroke-width="2"/>
<path d="M1350.3 55.0 H1814.3 V763.0 H1350.3 Z M1350.3 409.0 H1814.3" fill="none" stroke="#161616" stroke-width="2"/>
<path d="M1814.3 409.0 v4.5M1778.6 409.0 v9.0M1742.9 409.0 v4.5M1707.2 409.0 v9.0M1671.5 409.0 v4.5M1635.8 409.0 v9.0M1600.1 409.0 v4.5M1564.5 409.0 v9.0M1528.8 409.0 v4.5M1493.1 409.0 v9.0M1457.4 409.0 v4.5M1421.7 409.0 v9.0M1386.0 409.0 v4.5M1350.3 409.0 v9.0M1814.3 763.0 v4.5M1778.6 763.0 v9.0M1742.9 763.0 v4.5M1707.2 763.0 v9.0M1671.5 763.0 v4.5M1635.8 763.0 v9.0M1600.1 763.0 v4.5M1564.5 763.0 v9.0M1528.8 763.0 v4.5M1493.1 763.0 v9.0M1457.4 763.0 v4.5M1421.7 763.0 v9.0M1386.0 763.0 v4.5M1350.3 763.0 v9.0M1350.3 409.0 h-9.0M1350.3 364.8 h-4.5M1350.3 320.5 h-9.0M1350.3 276.2 h-4.5M1350.3 232.0 h-9.0M1350.3 187.8 h-4.5M1350.3 143.5 h-9.0M1350.3 99.2 h-4.5M1350.3 55.0 h-9.0M1350.3 763.0 h-9.0M1350.3 718.8 h-4.5M1350.3 674.5 h-9.0M1350.3 630.2 h-4.5M1350.3 586.0 h-9.0M1350.3 541.8 h-4.5M1350.3 497.5 h-9.0" fill="none" stroke="#161616" stroke-width="2"/>
<text x="95.9" y="414.7" font-size="19.45" fill="#000" text-anchor="end">0</text>
<text x="95.9" y="326.2" font-size="19.45" fill="#000" text-anchor="end">20000</text>
<text x="95.9" y="237.7" font-size="19.45" fill="#000" text-anchor="end">40000</text>
<text x="95.9" y="149.2" font-size="19.45" fill="#000" text-anchor="end">60000</text>
<text x="95.9" y="60.7" font-size="19.45" fill="#000" text-anchor="end">80000</text>
<text x="95.9" y="768.7" font-size="19.45" fill="#000" text-anchor="end">0</text>
<text x="95.9" y="680.2" font-size="19.45" fill="#000" text-anchor="end">20000</text>
<text x="95.9" y="591.7" font-size="19.45" fill="#000" text-anchor="end">40000</text>
<text x="95.9" y="503.2" font-size="19.45" fill="#000" text-anchor="end">60000</text>
<text x="715.3" y="414.7" font-size="19.45" fill="#000" text-anchor="end">10000</text>
<text x="715.3" y="326.2" font-size="19.45" fill="#000" text-anchor="end">12500</text>
<text x="715.3" y="237.7" font-size="19.45" fill="#000" text-anchor="end">15000</text>
<text x="715.3" y="149.2" font-size="19.45" fill="#000" text-anchor="end">17500</text>
<text x="715.3" y="60.7" font-size="19.45" fill="#000" text-anchor="end">20000</text>
<text x="715.3" y="768.7" font-size="19.45" fill="#000" text-anchor="end">10000</text>
<text x="715.3" y="680.2" font-size="19.45" fill="#000" text-anchor="end">12500</text>
<text x="715.3" y="591.7" font-size="19.45" fill="#000" text-anchor="end">15000</text>
<text x="715.3" y="503.2" font-size="19.45" fill="#000" text-anchor="end">17500</text>
<text x="1335.4" y="414.7" font-size="19.45" fill="#000" text-anchor="end">0</text>
<text x="1335.4" y="326.2" font-size="19.45" fill="#000" text-anchor="end">30000</text>
<text x="1335.4" y="237.7" font-size="19.45" fill="#000" text-anchor="end">60000</text>
<text x="1335.4" y="149.2" font-size="19.45" fill="#000" text-anchor="end">90000</text>
<text x="1335.4" y="60.7" font-size="19.45" fill="#000" text-anchor="end">120000</text>
<text x="1335.4" y="768.7" font-size="19.45" fill="#000" text-anchor="end">0</text>
<text x="1335.4" y="680.2" font-size="19.45" fill="#000" text-anchor="end">30000</text>
<text x="1335.4" y="591.7" font-size="19.45" fill="#000" text-anchor="end">60000</text>
<text x="1335.4" y="503.2" font-size="19.45" fill="#000" text-anchor="end">90000</text>
<text x="574.0" y="793.3" font-size="19.45" fill="#000" text-anchor="middle">280</text>
<text x="507.8" y="793.3" font-size="19.45" fill="#000" text-anchor="middle">282</text>
<text x="441.7" y="793.3" font-size="19.45" fill="#000" text-anchor="middle">284</text>
<text x="375.5" y="793.3" font-size="19.45" fill="#000" text-anchor="middle">286</text>
<text x="309.3" y="793.3" font-size="19.45" fill="#000" text-anchor="middle">288</text>
<text x="243.1" y="793.3" font-size="19.45" fill="#000" text-anchor="middle">290</text>
<text x="177.0" y="793.3" font-size="19.45" fill="#000" text-anchor="middle">292</text>
<text x="110.8" y="793.3" font-size="19.45" fill="#000" text-anchor="middle">294</text>
<text x="342.4" y="829.8" font-size="23.60" fill="#000" text-anchor="middle">Binding energy / eV</text>
<text x="1158.5" y="793.3" font-size="19.45" fill="#000" text-anchor="middle">394</text>
<text x="1087.1" y="793.3" font-size="19.45" fill="#000" text-anchor="middle">396</text>
<text x="1015.7" y="793.3" font-size="19.45" fill="#000" text-anchor="middle">398</text>
<text x="944.4" y="793.3" font-size="19.45" fill="#000" text-anchor="middle">400</text>
<text x="873.0" y="793.3" font-size="19.45" fill="#000" text-anchor="middle">402</text>
<text x="801.6" y="793.3" font-size="19.45" fill="#000" text-anchor="middle">404</text>
<text x="730.2" y="793.3" font-size="19.45" fill="#000" text-anchor="middle">406</text>
<text x="962.2" y="829.8" font-size="23.60" fill="#000" text-anchor="middle">Binding energy / eV</text>
<text x="1778.6" y="793.3" font-size="19.45" fill="#000" text-anchor="middle">526</text>
<text x="1707.2" y="793.3" font-size="19.45" fill="#000" text-anchor="middle">528</text>
<text x="1635.8" y="793.3" font-size="19.45" fill="#000" text-anchor="middle">530</text>
<text x="1564.5" y="793.3" font-size="19.45" fill="#000" text-anchor="middle">532</text>
<text x="1493.1" y="793.3" font-size="19.45" fill="#000" text-anchor="middle">534</text>
<text x="1421.7" y="793.3" font-size="19.45" fill="#000" text-anchor="middle">536</text>
<text x="1350.3" y="793.3" font-size="19.45" fill="#000" text-anchor="middle">538</text>
<text x="1582.3" y="829.8" font-size="23.60" fill="#000" text-anchor="middle">Binding energy / eV</text>
<text transform="translate(27.0 213.8) rotate(-90)" font-size="23.60" text-anchor="middle">Counts / s<tspan dy="-10.2" font-size="15.10">-1</tspan></text>
<text transform="translate(27.0 567.8) rotate(-90)" font-size="23.60" text-anchor="middle">Counts / s<tspan dy="-10.2" font-size="15.10">-1</tspan></text>
<text transform="translate(646.6 213.8) rotate(-90)" font-size="23.60" text-anchor="middle">Counts / s<tspan dy="-10.2" font-size="15.10">-1</tspan></text>
<text transform="translate(646.6 567.8) rotate(-90)" font-size="23.60" text-anchor="middle">Counts / s<tspan dy="-10.2" font-size="15.10">-1</tspan></text>
<text transform="translate(1266.6 213.8) rotate(-90)" font-size="23.60" text-anchor="middle">Counts / s<tspan dy="-10.2" font-size="15.10">-1</tspan></text>
<text transform="translate(1266.6 567.8) rotate(-90)" font-size="23.60" text-anchor="middle">Counts / s<tspan dy="-10.2" font-size="15.10">-1</tspan></text>
<text x="-0.5" y="26.2" font-size="34.30" fill="#000" text-anchor="start">(a)</text>
<text x="618.7" y="26.2" font-size="34.30" fill="#000" text-anchor="start">(b)</text>
<text x="1238.7" y="26.2" font-size="34.30" fill="#000" text-anchor="start">(c)</text>
<text x="566.5" y="41.0" font-size="23.70" fill="#000" text-anchor="end">C 1s</text>
<text x="1186.5" y="41.0" font-size="23.70" fill="#000" text-anchor="end">N 1s</text>
<text x="1812.6" y="40.1" font-size="23.70" fill="#000" text-anchor="end">O 1s</text>
<text x="117.8" y="81.3" font-size="23.70" fill="#000" text-anchor="start">EC base</text>
<text x="116.6" y="440.1" font-size="23.70" fill="#000" text-anchor="start">PC base</text>
<text x="116.6" y="469.4" font-size="23.70" fill="#000" text-anchor="start">+ ICEMA 1.5%</text>
<text x="737.2" y="81.3" font-size="23.70" fill="#000" text-anchor="start">EC base</text>
<text x="736.0" y="440.1" font-size="23.70" fill="#000" text-anchor="start">PC base</text>
<text x="736.0" y="469.4" font-size="23.70" fill="#000" text-anchor="start">+ ICEMA 1.5%</text>
<text x="1357.3" y="81.3" font-size="23.70" fill="#000" text-anchor="start">EC base</text>
<text x="1356.1" y="440.1" font-size="23.70" fill="#000" text-anchor="start">PC base</text>
<text x="1356.1" y="469.4" font-size="23.70" fill="#000" text-anchor="start">+ ICEMA 1.5%</text>
<rect x="148.1" y="351.5" width="17.1" height="1.7" fill="#7f7f7f"/>
<text x="148.1" y="349.0" font-size="23.70" fill="#7f7f7f" text-anchor="start">C-F</text>
<rect x="228.3" y="346.5" width="17.1" height="1.7" fill="#ff6eff"/>
<text x="228.3" y="344.0" font-size="23.70" fill="#ff6eff" text-anchor="start">C=O</text>
<rect x="326.0" y="222.0" width="17.1" height="1.7" fill="#63a0f1"/>
<text x="326.0" y="219.5" font-size="23.70" fill="#63a0f1" text-anchor="start">C-O</text>
<rect x="401.0" y="276.0" width="17.1" height="1.7" fill="#5fc400"/>
<rect x="449.7" y="276.0" width="17.1" height="1.7" fill="#5fc400"/>
<text x="401.0" y="273.5" font-size="23.70" fill="#5fc400" text-anchor="start">C-C/C-H</text>
<rect x="510.3" y="381.8" width="17.1" height="1.7" fill="#ffb400"/>
<text x="484.0" y="379.3" font-size="23.70" fill="#ffb400" text-anchor="start">Li-C</text>
<rect x="238.1" y="526.2" width="17.1" height="1.7" fill="#63a0f1"/>
<rect x="286.8" y="526.2" width="17.1" height="1.7" fill="#63a0f1"/>
<text x="238.1" y="523.7" font-size="23.70" fill="#63a0f1" text-anchor="start">C-N/C-O</text>
<rect x="458.0" y="578.1" width="17.1" height="1.7" fill="#5fc400"/>
<rect x="506.7" y="578.1" width="17.1" height="1.7" fill="#5fc400"/>
<text x="458.0" y="575.6" font-size="23.70" fill="#5fc400" text-anchor="start">C-C/C-H</text>
<rect x="162.0" y="614.0" width="17.1" height="1.7" fill="#ff6eff"/>
<text x="131.0" y="611.5" font-size="23.70" fill="#ff6eff" text-anchor="start">N=C-O (polymer)</text>
<rect x="137.6" y="642.5" width="17.1" height="1.7" fill="#ff6eff"/>
<text x="131.0" y="640.0" font-size="23.70" fill="#ff6eff" text-anchor="start">/C=O</text>
<rect x="154.0" y="697.5" width="17.1" height="1.7" fill="#ff8000"/>
<text x="129.0" y="695.0" font-size="23.70" fill="#ff8000" text-anchor="start">N-C=O</text>
<text x="117.0" y="724.0" font-size="23.70" fill="#ff8000" text-anchor="start">(polymer)</text>
<rect x="525.3" y="730.0" width="17.1" height="1.7" fill="#ffb400"/>
<text x="499.0" y="727.5" font-size="23.70" fill="#ffb400" text-anchor="start">Li-C</text>
<rect x="813.6" y="536.1" width="17.1" height="1.7" fill="#5fc400"/>
<text x="813.6" y="533.6" font-size="23.70" fill="#5fc400" text-anchor="start">N-C=O</text>
<text x="793.0" y="563.3" font-size="23.70" fill="#5fc400" text-anchor="start">(monomer)</text>
<rect x="1085.0" y="570.5" width="17.1" height="1.7" fill="#ff8000"/>
<text x="1085.0" y="568.0" font-size="23.70" fill="#ff8000" text-anchor="start">N-C=O</text>
<text x="1073.0" y="597.0" font-size="23.70" fill="#ff8000" text-anchor="start">(polymer)</text>
<rect x="795.0" y="645.5" width="17.1" height="1.7" fill="#ff6eff"/>
<text x="795.0" y="643.0" font-size="23.70" fill="#ff6eff" text-anchor="start">N=C-O</text>
<rect x="1450.0" y="193.8" width="18.4" height="1.7" fill="#63a0f1"/>
<text x="1425.0" y="191.3" font-size="23.70" fill="#63a0f1" text-anchor="start">C-O</text>
<rect x="1635.0" y="164.8" width="18.4" height="1.7" fill="#ff6eff"/>
<text x="1604.0" y="162.3" font-size="23.70" fill="#ff6eff" text-anchor="start">C=O</text>
<rect x="1698.6" y="546.5" width="18.4" height="1.7" fill="#ff8000"/>
<text x="1642.6" y="544.0" font-size="23.70" fill="#ff8000" text-anchor="start">N-C=O</text>
<rect x="1472.6" y="670.0" width="18.4" height="1.7" fill="#ff6eff"/>
<text x="1416.6" y="667.5" font-size="23.70" fill="#ff6eff" text-anchor="start">N=C-O</text>
<rect x="1753.1" y="653.0" width="18.4" height="1.7" fill="#ffb400"/>
<text x="1726.8" y="650.5" font-size="23.70" fill="#ffb400" text-anchor="start">Li-O</text>
<path d="M362.0 660.5 L312.9 541.2 M312.9 541.2 L322.1 549.7 M312.9 541.2 L312.3 553.7" fill="none" stroke="#a9cbf7" stroke-width="2" stroke-linecap="round"/>
<path d="M295.0 716.5 L220.5 635.5 M220.5 635.5 L232.1 640.3 M220.5 635.5 L224.3 647.4" fill="none" stroke="#ff8cff" stroke-width="2" stroke-linecap="round"/>
</svg>
</body></html>
